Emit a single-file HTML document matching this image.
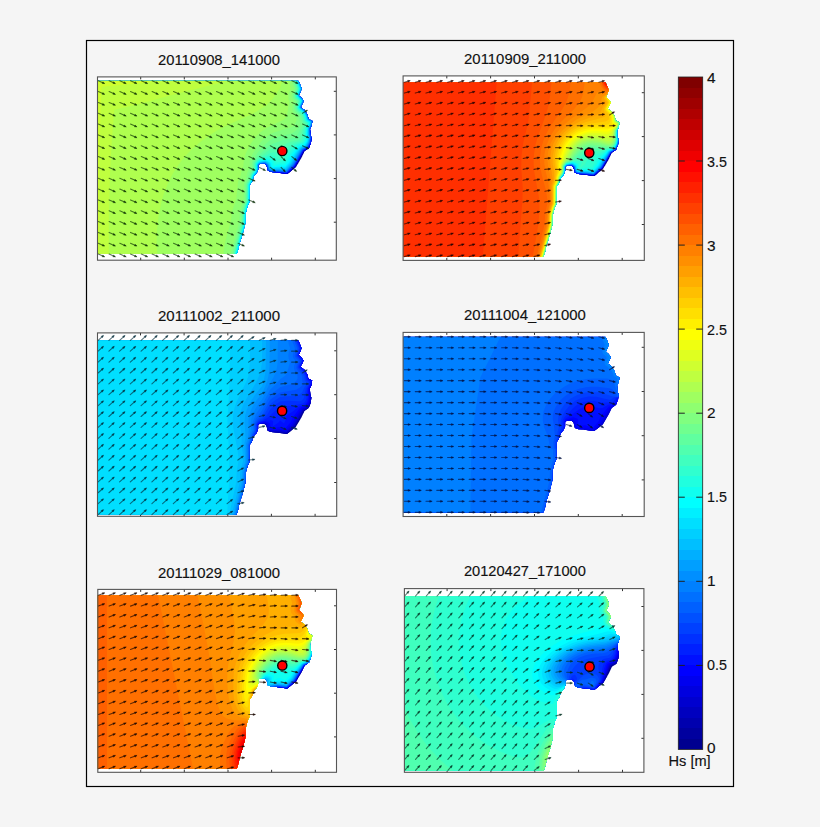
<!DOCTYPE html>
<html><head><meta charset="utf-8"><style>
html,body{margin:0;padding:0;background:#f5f5f5;width:820px;height:827px;overflow:hidden}
svg{position:absolute;left:0;top:0}
text{font-family:"Liberation Sans",sans-serif;stroke:#111;stroke-width:0.15px}
</style></head><body>
<svg width="820" height="827" viewBox="0 0 820 827">

<defs>
<clipPath id="sea"><polygon points="-3.00,0.00 200.00,0.00 201.50,3.00 203.40,7.90 201.90,11.80 200.50,14.70 203.40,17.20 205.40,20.10 204.40,22.50 202.40,26.40 206.30,29.30 209.30,34.20 210.20,38.10 214.10,40.10 213.20,45.00 211.70,47.90 212.20,53.70 213.20,57.00 212.70,61.90 210.70,67.20 206.30,70.20 203.40,76.50 200.50,81.40 197.60,86.30 192.70,90.20 188.80,93.10 183.90,92.40 178.00,91.60 173.20,91.20 169.70,90.00 168.30,84.70 166.30,82.90 161.50,82.90 160.00,84.30 160.00,88.20 158.50,92.10 155.60,95.10 153.70,100.90 151.50,104.00 151.10,121.50 149.60,124.40 147.50,132.10 147.20,141.80 144.80,151.50 141.40,162.10 139.90,168.90 138.50,173.28 -3.00,173.28"/></clipPath>
<clipPath id="ax0"><rect x="97.5" y="76.9" width="238.80" height="183.30"/></clipPath>
<clipPath id="ax1"><rect x="403.1" y="75.9" width="241.20" height="184.50"/></clipPath>
<clipPath id="ax2"><rect x="97.5" y="332.9" width="239.20" height="183.40"/></clipPath>
<clipPath id="ax3"><rect x="403.1" y="332.4" width="241.10" height="184.10"/></clipPath>
<clipPath id="ax4"><rect x="97.8" y="589.4" width="238.70" height="182.90"/></clipPath>
<clipPath id="ax5"><rect x="404.4" y="588.6" width="239.50" height="183.70"/></clipPath>
<linearGradient id="cbg" x1="0" y1="1" x2="0" y2="0"><stop offset="0.00000" stop-color="#00008f"/><stop offset="0.01562" stop-color="#00008f"/><stop offset="0.01562" stop-color="#00009f"/><stop offset="0.03125" stop-color="#00009f"/><stop offset="0.03125" stop-color="#0000af"/><stop offset="0.04688" stop-color="#0000af"/><stop offset="0.04688" stop-color="#0000bf"/><stop offset="0.06250" stop-color="#0000bf"/><stop offset="0.06250" stop-color="#0000cf"/><stop offset="0.07812" stop-color="#0000cf"/><stop offset="0.07812" stop-color="#0000df"/><stop offset="0.09375" stop-color="#0000df"/><stop offset="0.09375" stop-color="#0000ef"/><stop offset="0.10938" stop-color="#0000ef"/><stop offset="0.10938" stop-color="#0000ff"/><stop offset="0.12500" stop-color="#0000ff"/><stop offset="0.12500" stop-color="#0010ff"/><stop offset="0.14062" stop-color="#0010ff"/><stop offset="0.14062" stop-color="#0020ff"/><stop offset="0.15625" stop-color="#0020ff"/><stop offset="0.15625" stop-color="#0030ff"/><stop offset="0.17188" stop-color="#0030ff"/><stop offset="0.17188" stop-color="#0040ff"/><stop offset="0.18750" stop-color="#0040ff"/><stop offset="0.18750" stop-color="#0050ff"/><stop offset="0.20312" stop-color="#0050ff"/><stop offset="0.20312" stop-color="#0060ff"/><stop offset="0.21875" stop-color="#0060ff"/><stop offset="0.21875" stop-color="#0070ff"/><stop offset="0.23438" stop-color="#0070ff"/><stop offset="0.23438" stop-color="#0080ff"/><stop offset="0.25000" stop-color="#0080ff"/><stop offset="0.25000" stop-color="#008fff"/><stop offset="0.26562" stop-color="#008fff"/><stop offset="0.26562" stop-color="#009fff"/><stop offset="0.28125" stop-color="#009fff"/><stop offset="0.28125" stop-color="#00afff"/><stop offset="0.29688" stop-color="#00afff"/><stop offset="0.29688" stop-color="#00bfff"/><stop offset="0.31250" stop-color="#00bfff"/><stop offset="0.31250" stop-color="#00cfff"/><stop offset="0.32812" stop-color="#00cfff"/><stop offset="0.32812" stop-color="#00dfff"/><stop offset="0.34375" stop-color="#00dfff"/><stop offset="0.34375" stop-color="#00efff"/><stop offset="0.35938" stop-color="#00efff"/><stop offset="0.35938" stop-color="#00ffff"/><stop offset="0.37500" stop-color="#00ffff"/><stop offset="0.37500" stop-color="#10ffef"/><stop offset="0.39062" stop-color="#10ffef"/><stop offset="0.39062" stop-color="#20ffdf"/><stop offset="0.40625" stop-color="#20ffdf"/><stop offset="0.40625" stop-color="#30ffcf"/><stop offset="0.42188" stop-color="#30ffcf"/><stop offset="0.42188" stop-color="#40ffbf"/><stop offset="0.43750" stop-color="#40ffbf"/><stop offset="0.43750" stop-color="#50ffaf"/><stop offset="0.45312" stop-color="#50ffaf"/><stop offset="0.45312" stop-color="#60ff9f"/><stop offset="0.46875" stop-color="#60ff9f"/><stop offset="0.46875" stop-color="#70ff8f"/><stop offset="0.48438" stop-color="#70ff8f"/><stop offset="0.48438" stop-color="#80ff80"/><stop offset="0.50000" stop-color="#80ff80"/><stop offset="0.50000" stop-color="#8fff70"/><stop offset="0.51562" stop-color="#8fff70"/><stop offset="0.51562" stop-color="#9fff60"/><stop offset="0.53125" stop-color="#9fff60"/><stop offset="0.53125" stop-color="#afff50"/><stop offset="0.54688" stop-color="#afff50"/><stop offset="0.54688" stop-color="#bfff40"/><stop offset="0.56250" stop-color="#bfff40"/><stop offset="0.56250" stop-color="#cfff30"/><stop offset="0.57812" stop-color="#cfff30"/><stop offset="0.57812" stop-color="#dfff20"/><stop offset="0.59375" stop-color="#dfff20"/><stop offset="0.59375" stop-color="#efff10"/><stop offset="0.60938" stop-color="#efff10"/><stop offset="0.60938" stop-color="#ffff00"/><stop offset="0.62500" stop-color="#ffff00"/><stop offset="0.62500" stop-color="#ffef00"/><stop offset="0.64062" stop-color="#ffef00"/><stop offset="0.64062" stop-color="#ffdf00"/><stop offset="0.65625" stop-color="#ffdf00"/><stop offset="0.65625" stop-color="#ffcf00"/><stop offset="0.67188" stop-color="#ffcf00"/><stop offset="0.67188" stop-color="#ffbf00"/><stop offset="0.68750" stop-color="#ffbf00"/><stop offset="0.68750" stop-color="#ffaf00"/><stop offset="0.70312" stop-color="#ffaf00"/><stop offset="0.70312" stop-color="#ff9f00"/><stop offset="0.71875" stop-color="#ff9f00"/><stop offset="0.71875" stop-color="#ff8f00"/><stop offset="0.73438" stop-color="#ff8f00"/><stop offset="0.73438" stop-color="#ff8000"/><stop offset="0.75000" stop-color="#ff8000"/><stop offset="0.75000" stop-color="#ff7000"/><stop offset="0.76562" stop-color="#ff7000"/><stop offset="0.76562" stop-color="#ff6000"/><stop offset="0.78125" stop-color="#ff6000"/><stop offset="0.78125" stop-color="#ff5000"/><stop offset="0.79688" stop-color="#ff5000"/><stop offset="0.79688" stop-color="#ff4000"/><stop offset="0.81250" stop-color="#ff4000"/><stop offset="0.81250" stop-color="#ff3000"/><stop offset="0.82812" stop-color="#ff3000"/><stop offset="0.82812" stop-color="#ff2000"/><stop offset="0.84375" stop-color="#ff2000"/><stop offset="0.84375" stop-color="#ff1000"/><stop offset="0.85938" stop-color="#ff1000"/><stop offset="0.85938" stop-color="#ff0000"/><stop offset="0.87500" stop-color="#ff0000"/><stop offset="0.87500" stop-color="#ef0000"/><stop offset="0.89062" stop-color="#ef0000"/><stop offset="0.89062" stop-color="#df0000"/><stop offset="0.90625" stop-color="#df0000"/><stop offset="0.90625" stop-color="#cf0000"/><stop offset="0.92188" stop-color="#cf0000"/><stop offset="0.92188" stop-color="#bf0000"/><stop offset="0.93750" stop-color="#bf0000"/><stop offset="0.93750" stop-color="#af0000"/><stop offset="0.95312" stop-color="#af0000"/><stop offset="0.95312" stop-color="#9f0000"/><stop offset="0.96875" stop-color="#9f0000"/><stop offset="0.96875" stop-color="#8f0000"/><stop offset="0.98438" stop-color="#8f0000"/><stop offset="0.98438" stop-color="#800000"/><stop offset="1.00000" stop-color="#800000"/></linearGradient>
</defs>
<rect x="86.5" y="40.5" width="647" height="746" fill="none" stroke="#000" stroke-width="1.2"/>
<rect x="97.5" y="76.9" width="238.80" height="183.30" fill="#fff"/>
<path d="M140.7 76.9v2.5M140.7 260.2v-2.5M184.3 76.9v2.5M184.3 260.2v-2.5M228.0 76.9v2.5M228.0 260.2v-2.5M271.6 76.9v2.5M271.6 260.2v-2.5M315.3 76.9v2.5M315.3 260.2v-2.5M97.5 91.3h2.5M336.3 91.3h-2.5M97.5 134.9h2.5M336.3 134.9h-2.5M97.5 178.6h2.5M336.3 178.6h-2.5M97.5 222.2h2.5M336.3 222.2h-2.5" stroke="#333" stroke-width="1" fill="none"/>
<g clip-path="url(#ax0)"><g transform="translate(98.3 80.8) scale(1.00000 1.00000)"><g clip-path="url(#sea)"><rect x="-5" y="-2" width="230" height="177.3" fill="#00008f"/><path d="M-2.0 -1.0L221.0 -1.0L221.0 175.0L-3.0 175.0L-3.0 -1.0ZM205.6 71.0L206.0 71.7L206.0 70.2ZM204.4 73.0L197.8 85.0L197.5 86.0L198.0 86.3L204.2 76.0L205.5 73.0L205.0 72.0ZM196.3 87.0L197.0 87.2L197.0 86.5ZM193.8 89.0L194.3 89.0L194.0 88.8Z" fill="#00009f"/><path d="M-2.0 -1.0L221.0 -1.0L221.0 175.0L-3.0 175.0L-3.0 -1.0ZM207.6 69.0L208.0 69.3L208.3 69.0L208.0 68.8ZM205.9 70.0L197.2 86.0L194.8 88.0L195.0 88.4L198.0 86.5L201.5 81.0L204.3 76.0L205.8 72.0L207.2 70.0L206.0 69.9ZM193.6 89.0L194.0 89.4L194.6 89.0L194.0 88.7ZM192.6 90.0L193.4 90.0L193.0 89.6Z" fill="#0000af"/><path d="M-2.0 -1.0L221.0 -1.0L221.0 175.0L-3.0 175.0L-3.0 -1.0ZM207.3 69.0L208.0 69.4L208.5 69.0L208.0 68.6ZM205.7 70.0L197.0 85.9L192.3 90.0L193.0 90.4L198.5 86.0L203.4 78.0L207.4 70.0L207.0 69.4L206.0 69.8ZM187.9 93.0L189.0 93.0L188.0 93.0Z" fill="#0000bf"/><path d="M-2.0 -1.0L221.0 -1.0L221.0 175.0L-3.0 175.0L-3.0 -1.0ZM208.9 68.0L209.7 68.0L209.0 67.9ZM207.1 69.0L205.6 70.0L197.0 85.6L191.0 91.1L192.0 91.2L193.0 90.6L198.7 86.0L204.1 77.0L206.7 71.0L208.7 69.0L208.0 68.5ZM189.8 92.0L190.5 92.0L190.0 91.8ZM187.2 93.0L189.2 93.0L188.0 92.8Z" fill="#0000cf"/><path d="M-2.0 -1.0L221.0 -1.0L221.0 175.0L-3.0 175.0L-3.0 -1.0ZM210.9 66.0L211.0 67.1L211.0 65.8ZM208.6 68.0L205.4 70.0L197.0 85.3L190.7 91.0L191.0 91.9L197.0 87.8L198.8 86.0L204.3 77.0L206.8 71.0L210.2 68.0L209.0 67.8ZM180.4 92.0L182.2 92.0L181.0 91.9ZM189.6 92.0L190.0 92.4L190.9 92.0L190.0 91.6ZM186.5 93.0L189.5 93.0L189.0 92.6L187.0 92.8Z" fill="#0000df"/><path d="M-2.0 -1.0L221.0 -1.0L221.0 175.0L-3.0 175.0L-3.0 -1.0ZM211.8 64.0L212.0 64.3L212.0 63.5ZM210.7 66.0L210.3 67.0L211.0 67.3L211.0 65.5ZM208.3 68.0L205.2 70.0L196.1 86.0L189.0 92.4L185.7 93.0L189.0 93.4L198.2 87.0L204.4 77.0L206.9 71.0L210.4 68.0L210.0 67.3L209.0 67.6ZM179.7 92.0L183.7 92.0L180.0 91.9Z" fill="#0000ef"/><path d="M-2.0 -1.0L221.0 -1.0L221.0 175.0L-3.0 175.0L-3.0 -1.0ZM212.9 59.0L213.0 59.7L213.0 58.6ZM212.0 63.0L211.6 64.0L212.0 64.7L212.0 63.0ZM210.6 66.0L209.9 67.0L205.1 70.0L196.7 85.0L189.0 92.1L186.0 92.3L181.0 91.5L179.1 92.0L184.0 92.4L185.0 93.0L189.0 93.6L198.0 87.4L204.6 77.0L207.1 71.0L211.3 67.0L211.5 66.0L211.0 65.1Z" fill="#0000ff"/><path d="M-2.0 -1.0L221.0 -1.0L221.0 175.0L-3.0 175.0L-3.0 -1.0ZM213.0 58.0L213.0 61.5L213.0 57.7ZM211.8 63.0L210.0 66.7L204.9 70.0L196.5 85.0L189.0 91.9L188.0 92.2L181.0 91.4L178.4 92.0L189.0 93.7L198.0 87.6L203.6 79.0L207.3 71.0L211.5 67.0L212.4 64.0L212.0 62.6Z" fill="#0010ff"/><path d="M-2.0 -1.0L221.0 -1.0L221.0 175.0L-3.0 175.0L-3.0 -1.0ZM212.0 51.0L212.0 52.6L212.0 50.9ZM212.9 56.0L212.5 62.0L212.0 62.3L210.0 66.4L205.5 69.0L204.6 70.0L196.0 85.3L189.0 91.7L188.1 92.0L181.0 91.2L178.0 91.5L177.6 92.0L189.0 93.8L198.8 87.0L204.4 78.0L207.5 71.0L211.6 67.0L213.1 62.0L213.0 55.8ZM172.7 91.0L173.7 91.0L173.0 90.9Z" fill="#0020ff"/><path d="M-2.0 -1.0L221.0 -1.0L221.0 175.0L-3.0 175.0L-3.0 -1.0ZM212.0 50.0L212.0 54.0L212.0 49.9ZM212.7 56.0L212.4 61.0L210.0 66.1L205.0 69.1L196.1 85.0L189.0 91.4L188.0 91.8L178.0 90.9L171.9 91.0L189.0 94.0L198.0 87.9L199.7 86.0L203.4 80.0L207.7 71.0L211.0 68.2L211.7 67.0L213.2 62.0L213.4 59.0L213.0 55.4ZM168.8 87.0L169.0 88.0L169.0 86.3Z" fill="#0030ff"/><path d="M-2.0 -1.0L221.0 -1.0L221.0 175.0L-3.0 175.0L-3.0 -1.0ZM212.0 49.0L211.7 52.0L212.0 54.6L212.3 52.0L212.0 48.8ZM212.9 55.0L212.5 56.0L212.1 61.0L209.9 66.0L204.8 69.0L196.0 84.6L189.0 91.2L188.0 91.6L178.0 90.7L172.0 90.6L171.6 91.0L189.0 94.1L198.2 88.0L199.2 87.0L203.6 80.0L207.9 71.0L211.0 68.4L211.9 67.0L213.4 62.0L213.5 58.0L213.0 55.0ZM164.3 83.0L166.8 83.0L165.0 82.9ZM167.3 84.0L168.0 85.0L168.0 83.8ZM168.8 86.0L169.0 88.5L169.4 87.0L169.0 85.6ZM169.7 90.0L170.7 90.0L170.0 89.5Z" fill="#0040ff"/><path d="M-2.0 -1.0L221.0 -1.0L221.0 175.0L-3.0 175.0L-3.0 -1.0ZM209.9 37.0L210.0 37.6L210.0 36.7ZM214.0 40.0L214.0 40.6L214.0 40.0ZM211.8 47.0L211.5 53.0L212.5 57.0L211.6 62.0L209.6 66.0L204.5 69.0L195.3 85.0L188.0 91.4L172.0 90.3L170.0 89.2L169.5 90.0L173.0 91.6L189.0 94.3L199.0 87.5L204.4 79.0L208.0 71.2L211.6 68.0L212.3 66.0L213.5 62.0L213.7 58.0L213.5 56.0L212.6 54.0L212.0 46.7ZM162.8 83.0L166.0 83.4L166.8 84.0L168.4 86.0L169.0 88.9L169.5 87.0L168.5 84.0L166.0 82.6L163.0 83.0Z" fill="#0050ff"/><path d="M-2.0 -1.0L221.0 -1.0L221.0 175.0L-3.0 175.0L-3.0 -1.0ZM205.7 29.0L206.0 29.2L206.0 28.8ZM207.8 32.0L208.0 32.4L208.0 31.7ZM209.7 37.0L210.0 38.1L210.0 36.2ZM211.5 39.0L212.4 39.0L212.0 38.7ZM213.6 40.0L214.0 41.8L214.0 39.8ZM212.8 45.0L213.0 46.2L213.0 44.4ZM211.6 47.0L211.4 53.0L212.3 57.0L211.4 62.0L210.0 64.9L209.0 66.3L204.2 69.0L195.7 84.0L189.0 90.5L188.0 91.1L172.0 90.0L170.1 89.0L169.0 84.4L167.0 82.6L161.7 83.0L166.0 83.5L167.6 85.0L169.3 90.0L172.0 91.5L174.0 92.0L189.0 94.5L197.0 89.3L199.7 87.0L205.2 78.0L208.0 71.6L211.8 68.0L212.2 67.0L213.7 62.0L213.9 57.0L212.7 53.0L212.5 47.0L212.0 46.4Z" fill="#0060ff"/><path d="M-2.0 -1.0L221.0 -1.0L221.0 175.0L-3.0 175.0L-3.0 -1.0ZM201.8 16.0L202.2 16.0L202.0 15.8ZM203.8 18.0L204.0 18.3L204.0 17.7ZM204.8 21.0L205.0 21.6L205.0 20.3ZM203.9 23.0L204.0 23.6L204.0 22.7ZM202.8 25.0L203.0 25.7L203.0 24.6ZM202.7 27.0L203.5 27.0L203.0 26.3ZM205.4 29.0L206.0 29.5L206.4 29.0L206.0 28.7ZM206.8 30.0L207.0 31.1L207.0 29.8ZM207.6 32.0L208.0 32.7L208.4 32.0L208.0 31.4ZM208.7 34.0L209.0 34.7L209.4 34.0L209.0 33.2ZM209.8 36.0L209.6 37.0L210.0 38.4L210.7 38.0L210.0 35.7ZM211.1 39.0L212.0 39.5L212.7 39.0L212.0 38.6ZM213.2 40.0L214.0 42.6L214.3 40.0L214.0 39.7ZM212.9 44.0L211.1 48.0L211.3 54.0L212.1 57.0L211.2 62.0L210.0 64.4L209.0 66.1L203.9 69.0L195.4 84.0L189.0 90.2L188.0 90.9L172.8 90.0L170.4 89.0L169.0 84.0L167.0 82.3L161.1 83.0L166.4 84.0L167.4 85.0L169.0 90.0L171.0 91.3L173.0 92.0L188.0 94.5L190.0 94.2L199.0 88.1L205.5 78.0L208.0 71.9L212.0 68.0L212.4 67.0L213.8 62.0L214.1 57.0L212.9 53.0L212.4 48.0L213.5 45.0L213.0 43.7ZM159.9 85.0L160.0 88.1L160.0 84.4Z" fill="#0070ff"/><path d="M-2.0 -1.0L221.0 -1.0L221.0 175.0L-3.0 175.0L-3.0 -1.0ZM202.9 7.0L203.0 7.3L203.0 6.7ZM202.8 9.0L203.0 9.4L203.0 8.6ZM200.8 14.0L201.0 15.3L201.0 13.5ZM201.6 16.0L202.0 16.4L202.5 16.0L202.0 15.6ZM202.7 17.0L203.0 17.3L203.4 17.0L203.0 16.6ZM203.6 18.0L204.0 18.6L204.4 18.0L204.0 17.5ZM204.9 19.0L204.6 21.0L205.0 22.0L205.4 21.0L205.0 18.9ZM203.7 23.0L204.0 24.2L204.4 23.0L204.0 22.4ZM202.6 25.0L202.5 27.0L203.0 27.4L203.9 27.0L203.1 26.0L203.5 25.0L203.0 24.3ZM203.8 28.0L206.4 30.0L209.4 36.0L209.6 38.0L212.8 40.0L213.5 41.0L212.4 45.0L210.9 48.0L211.1 54.0L211.9 57.0L211.2 61.0L210.0 63.9L208.7 66.0L204.6 68.0L203.5 69.0L195.0 84.0L188.0 90.6L179.0 89.8L174.0 89.9L171.0 89.3L169.3 84.0L167.0 82.1L162.0 82.5L160.8 83.0L161.0 83.5L166.2 84.0L167.6 86.0L168.9 90.0L170.0 91.0L174.0 92.4L188.0 94.7L190.0 94.4L199.4 88.0L205.7 78.0L208.2 72.0L212.2 68.0L214.0 62.0L214.2 57.0L213.1 53.0L212.5 48.0L213.7 45.0L214.5 40.0L211.0 37.9L209.1 33.0L207.3 30.0L206.0 28.5L204.0 27.3ZM159.9 84.0L160.0 88.6L160.4 84.0L160.0 83.9Z" fill="#0080ff"/><path d="M-2.0 -1.0L221.0 -1.0L221.0 175.0L-3.0 175.0L-3.0 -1.0ZM199.9 0.0L200.0 0.3L200.0 -0.1ZM200.8 2.0L201.0 2.4L201.0 1.6ZM201.8 4.0L202.0 4.7L202.0 3.7ZM202.7 7.0L203.0 7.8L203.3 7.0L203.0 6.2ZM202.6 9.0L203.0 9.8L203.3 9.0L203.0 8.1ZM201.8 11.0L202.0 12.4L202.0 10.6ZM200.9 13.0L200.4 15.0L203.4 18.0L204.7 20.0L204.2 22.0L202.0 26.0L202.2 27.0L206.0 30.0L208.4 34.0L209.4 38.0L210.0 38.8L212.4 40.0L213.3 41.0L212.3 45.0L210.7 48.0L210.9 54.0L211.7 57.0L211.0 61.1L209.1 65.0L208.1 66.0L204.0 68.0L203.1 69.0L194.5 84.0L188.0 90.2L180.0 89.6L174.0 89.7L171.0 89.1L169.6 84.0L167.0 81.8L166.0 81.7L161.0 82.6L160.0 83.7L159.6 85.0L160.0 89.0L160.5 85.0L161.1 84.0L162.0 83.6L165.9 84.0L167.5 86.0L168.7 90.0L170.0 91.2L173.0 92.4L187.0 94.8L190.0 94.7L199.8 88.0L205.4 79.0L208.5 72.0L212.5 68.0L214.2 62.0L214.4 57.0L213.3 53.0L212.7 48.0L213.9 45.0L214.7 40.0L211.0 37.6L209.8 34.0L207.0 29.3L203.3 26.0L205.6 21.0L205.6 20.0L204.0 17.3L201.5 15.0L201.0 12.8ZM158.9 91.0L159.0 91.3L159.0 90.5Z" fill="#008fff"/><path d="M-2.0 -1.0L221.0 -1.0L221.0 175.0L-3.0 175.0L-3.0 -1.0ZM199.7 0.0L200.0 0.6L200.3 0.0L200.0 -0.3ZM200.6 2.0L201.0 2.7L201.4 2.0L201.0 1.3ZM201.6 4.0L202.0 5.3L202.3 4.0L202.0 3.3ZM202.7 6.0L202.5 10.0L202.0 10.2L200.1 15.0L203.0 17.8L204.5 20.0L201.8 26.0L202.0 27.0L206.0 30.3L208.2 34.0L209.2 38.0L210.0 39.0L213.1 41.0L212.1 45.0L210.5 48.0L210.7 54.0L211.4 57.0L210.7 61.0L210.0 62.7L208.0 65.7L204.0 67.6L203.0 68.6L194.6 83.0L188.0 89.8L171.7 89.0L171.0 88.5L169.9 84.0L167.0 81.6L166.0 81.5L161.0 82.3L159.5 84.0L159.5 88.0L160.0 89.4L161.0 84.4L162.0 83.7L165.0 84.0L166.0 84.3L167.0 85.4L168.5 90.0L170.0 91.4L173.0 92.6L188.0 95.1L190.0 94.9L200.1 88.0L205.7 79.0L208.8 72.0L212.7 68.0L214.4 62.0L214.6 57.0L213.4 53.0L212.9 48.0L214.1 45.0L214.8 40.0L211.0 37.3L210.1 34.0L207.0 29.0L203.5 26.0L206.0 20.0L204.0 17.0L201.7 15.0L201.5 14.0L203.5 9.0L203.0 5.8ZM158.9 90.0L158.7 91.0L159.0 91.7L159.3 91.0L159.0 89.8Z" fill="#009fff"/><path d="M-2.0 -1.0L221.0 -1.0L221.0 175.0L-3.0 175.0L-3.0 -1.0ZM199.6 0.0L200.0 0.9L200.5 0.0L200.0 -0.4ZM200.5 2.0L202.7 8.0L199.9 15.0L203.0 18.0L204.3 20.0L201.6 26.0L201.7 27.0L206.0 30.7L208.0 34.0L209.7 39.0L212.9 41.0L212.0 44.7L210.3 48.0L210.4 54.0L211.2 57.0L210.1 62.0L208.0 65.4L202.9 68.0L196.6 78.0L194.1 83.0L188.0 89.3L172.0 88.7L171.1 88.0L170.0 83.5L167.0 81.3L166.0 81.3L161.0 82.1L159.3 84.0L159.3 88.0L158.6 92.0L159.0 92.0L160.4 89.0L161.0 84.7L162.0 83.9L163.1 84.0L165.0 84.2L166.4 85.0L168.3 90.0L168.9 91.0L170.0 91.6L173.0 92.8L188.0 95.4L190.0 95.2L196.0 91.5L200.4 88.0L205.5 80.0L209.0 72.2L212.9 68.0L214.6 62.0L214.8 57.0L213.6 53.0L213.0 48.0L214.3 45.0L215.0 40.0L211.0 37.1L210.3 34.0L207.2 29.0L203.7 26.0L206.2 20.0L204.2 17.0L201.9 15.0L201.7 14.0L203.9 8.0L201.0 1.0ZM157.5 93.0L158.2 93.0L158.0 92.2ZM154.8 97.0L155.0 97.4L155.0 96.4Z" fill="#00afff"/><path d="M-2.0 -1.0L221.0 -1.0L221.0 175.0L-3.0 175.0L-3.0 -1.0ZM199.4 0.0L202.5 8.0L199.7 15.0L202.8 18.0L204.1 20.0L201.4 26.0L201.5 27.0L206.0 31.0L208.0 34.5L209.3 39.0L212.6 41.0L212.0 44.1L210.1 48.0L210.2 54.0L210.9 57.0L210.0 61.4L208.0 65.0L204.0 66.8L202.3 68.0L196.6 77.0L193.4 83.0L188.0 88.6L174.0 88.8L172.0 88.4L171.5 88.0L170.7 84.0L168.0 81.5L167.0 81.0L162.0 81.6L161.0 81.9L159.2 84.0L159.0 88.7L158.0 91.6L156.2 94.0L157.0 94.3L159.3 92.0L160.9 88.0L161.1 85.0L162.0 84.1L166.0 84.9L166.9 86.0L168.6 91.0L172.0 92.7L187.0 95.5L190.0 95.5L196.0 91.8L200.8 88.0L206.4 79.0L209.0 72.8L213.0 68.4L214.8 62.0L215.0 57.0L213.8 53.0L213.3 48.0L214.5 45.0L215.2 40.0L211.2 37.0L210.5 34.0L207.5 29.0L203.8 26.0L206.4 20.0L204.4 17.0L202.0 14.6L201.8 14.0L204.2 8.0L202.2 3.0L200.0 -0.6ZM155.6 95.0L156.0 95.4L156.3 95.0L156.0 94.2ZM154.9 96.0L154.6 97.0L155.0 97.9L155.4 97.0L155.0 95.8ZM153.7 100.0L154.0 100.7L154.0 99.2ZM152.8 102.0L153.2 102.0L153.0 101.7Z" fill="#00bfff"/><path d="M-2.0 -1.0L221.0 -1.0L221.0 175.0L-3.0 175.0L-3.0 -1.0ZM199.2 0.0L202.3 8.0L199.5 15.0L203.9 20.0L201.2 26.0L201.3 27.0L205.7 31.0L208.0 34.9L209.0 39.0L212.3 41.0L211.8 44.0L209.8 48.0L209.9 54.0L210.5 57.0L209.8 61.0L207.2 65.0L203.0 66.8L201.7 68.0L195.9 77.0L193.0 82.5L187.7 88.0L174.0 88.4L172.0 88.1L170.6 83.0L168.0 81.0L167.0 80.6L161.0 81.6L158.9 84.0L159.0 88.1L157.5 92.0L155.0 95.2L154.4 97.0L155.0 98.4L155.7 96.0L159.5 92.0L161.2 88.0L161.4 85.0L162.0 84.4L166.0 85.2L168.3 91.0L171.0 92.5L173.0 93.3L185.0 95.4L190.0 95.8L200.4 89.0L206.2 80.0L209.3 73.0L213.0 69.0L215.0 62.0L215.2 57.0L214.0 53.0L213.5 48.0L214.7 45.0L215.4 40.0L214.7 39.0L211.5 37.0L210.7 34.0L207.7 29.0L204.1 26.0L206.6 20.0L202.0 14.0L204.4 8.0L202.4 3.0L200.9 0.0L200.0 -0.8ZM153.9 99.0L153.5 100.0L154.0 101.1L154.5 100.0L154.0 98.6ZM152.6 102.0L153.0 102.5L153.4 102.0L153.0 101.3ZM151.8 103.0L152.0 103.6L152.4 103.0L152.0 102.7ZM151.0 116.0L151.0 122.2L151.0 115.9ZM148.9 126.0L149.0 127.4L149.0 125.8ZM147.8 130.0L148.0 131.1L148.0 129.5ZM146.9 142.0L147.0 143.5L147.0 141.1ZM145.9 146.0L146.0 147.6L146.0 145.7ZM144.9 150.0L145.0 151.5L145.0 149.8ZM143.7 154.0L144.0 154.7L144.0 153.3ZM142.8 157.0L143.0 157.8L143.0 156.4ZM141.8 160.0L142.0 160.9L142.0 159.5ZM141.0 163.0L141.0 164.9L141.0 162.9ZM139.9 168.0L140.0 169.3L140.0 167.5ZM139.0 171.0L139.0 172.4L139.0 171.0Z" fill="#00cfff"/><path d="M-2.0 -1.0L221.0 -1.0L221.0 175.0L-3.0 175.0L-3.0 -1.0ZM199.1 0.0L202.1 8.0L199.3 15.0L203.6 20.0L201.0 26.0L201.0 27.0L205.4 31.0L207.7 35.0L208.7 39.0L212.1 41.0L211.5 44.0L209.5 48.0L209.5 54.0L210.2 57.0L209.3 61.0L207.0 64.6L203.0 66.2L201.0 68.0L195.7 76.0L192.5 82.0L187.0 87.5L181.0 87.3L173.0 87.8L172.1 87.0L171.3 83.0L168.0 80.5L166.0 80.4L161.0 81.3L158.7 84.0L158.8 88.0L158.0 90.6L154.9 95.0L153.0 100.9L151.6 103.0L151.3 104.0L152.0 104.6L154.3 101.0L156.1 96.0L159.7 92.0L161.5 88.0L162.0 84.7L165.0 85.0L166.0 85.6L168.0 91.0L169.0 91.9L172.0 93.2L185.0 95.7L190.0 96.1L195.0 93.2L200.9 89.0L206.6 80.0L209.7 73.0L213.4 69.0L215.3 62.0L215.5 57.0L214.3 53.0L213.8 49.0L214.9 45.0L215.6 40.0L215.0 38.9L211.8 37.0L210.4 33.0L207.9 29.0L204.4 26.0L206.8 20.0L202.3 14.0L204.6 8.0L201.6 1.0L200.0 -0.9ZM151.0 107.0L150.6 122.0L151.0 122.6L151.4 121.0L151.0 106.2ZM149.9 123.0L149.6 124.0L150.0 124.6L150.3 123.0L150.0 122.8ZM148.7 126.0L149.0 128.0L149.4 126.0L149.0 125.2ZM147.9 129.0L147.6 130.0L148.0 131.7L148.4 130.0L148.0 128.8ZM147.0 137.0L146.6 143.0L147.0 144.2L147.4 142.0L147.0 136.0ZM145.7 146.0L146.0 148.3L146.4 146.0L146.0 145.1ZM144.7 150.0L145.0 152.1L145.4 150.0L145.0 149.1ZM143.9 153.0L143.5 154.0L144.0 155.3L144.5 154.0L144.0 152.7ZM142.9 156.0L142.6 157.0L143.0 158.4L143.4 157.0L143.0 155.8ZM142.0 159.0L141.6 160.0L142.0 161.5L142.4 160.0L142.0 159.0ZM140.8 163.0L141.0 165.7L141.4 164.0L141.0 162.1ZM139.9 167.0L139.6 169.0L140.0 169.8L140.4 168.0L140.0 166.7ZM138.8 171.0L138.6 172.0L139.0 172.9L139.3 171.0L139.0 170.4Z" fill="#00dfff"/><path d="M-2.0 -1.0L199.8 -1.0L198.9 0.0L201.9 8.0L199.1 15.0L203.3 20.0L203.0 21.5L200.7 26.0L200.7 27.0L205.0 30.8L207.5 35.0L208.4 39.0L211.5 41.0L211.7 42.0L211.2 44.0L209.2 48.0L209.1 54.0L209.7 57.0L208.9 61.0L207.0 64.0L203.0 65.6L201.0 67.0L194.7 76.0L192.0 81.3L187.0 86.7L181.0 86.5L173.0 87.2L172.0 83.0L171.2 82.0L169.0 80.5L167.0 79.8L161.0 81.0L159.0 83.0L158.5 84.0L158.5 88.0L157.6 91.0L154.6 95.0L153.0 100.4L150.8 104.0L150.5 121.0L148.8 125.0L146.9 132.0L146.2 144.0L138.0 173.0L139.0 173.3L147.5 143.0L148.1 132.0L149.7 126.0L151.5 122.0L152.4 104.0L154.5 101.0L156.4 96.0L159.4 93.0L160.5 91.0L161.8 88.0L162.0 85.2L165.0 85.3L166.0 86.0L168.0 91.4L172.0 93.5L187.0 96.4L190.0 96.5L195.0 93.7L201.4 89.0L207.6 79.0L210.0 73.2L213.8 69.0L215.6 62.0L215.7 57.0L214.0 49.0L215.2 45.0L215.8 40.0L215.0 38.6L212.0 37.0L210.7 33.0L208.2 29.0L204.8 26.0L207.0 20.0L205.2 17.0L202.5 14.0L204.8 8.0L202.4 2.0L200.3 -1.0L221.0 -1.0L221.0 175.0L-3.0 175.0L-3.0 -1.0Z" fill="#00efff"/><path d="M-2.0 -1.0L199.2 -1.0L198.6 0.0L201.6 8.0L198.8 15.0L203.0 20.0L203.0 21.0L200.4 26.0L200.5 27.0L204.8 31.0L207.2 35.0L208.0 39.0L209.0 40.1L210.8 41.0L211.4 42.0L210.9 44.0L208.8 48.0L208.7 54.0L209.2 57.0L208.2 61.0L206.0 63.9L202.0 65.4L200.0 67.0L194.2 75.0L191.1 81.0L187.0 85.7L181.0 85.6L174.0 86.7L173.3 86.0L172.4 82.0L168.0 79.4L161.0 80.6L158.7 83.0L158.2 84.0L158.3 88.0L157.3 91.0L154.4 95.0L153.0 100.0L150.6 104.0L150.3 121.0L148.6 125.0L146.7 132.0L146.1 143.0L137.7 173.0L138.0 173.6L139.0 173.7L140.7 169.0L142.0 163.0L145.5 152.0L147.7 143.0L148.4 132.0L150.3 125.0L151.8 122.0L152.6 104.0L154.8 101.0L156.6 96.0L160.3 92.0L161.8 89.0L162.2 86.0L163.0 85.3L165.5 86.0L168.0 91.9L172.0 93.8L185.0 96.4L190.0 96.8L196.0 93.5L201.9 89.0L207.6 80.0L210.1 74.0L214.2 69.0L215.9 62.0L216.0 57.0L214.8 53.0L214.3 49.0L215.4 45.0L216.1 40.0L215.0 38.3L212.0 36.3L211.0 33.0L208.5 29.0L205.2 26.0L207.3 20.0L205.5 17.0L202.8 14.0L205.0 8.0L202.7 2.0L200.8 -1.0L221.0 -1.0L221.0 175.0L-3.0 175.0L-3.0 -1.0Z" fill="#00ffff"/><path d="M-2.0 -1.0L198.8 -1.0L198.4 0.0L201.3 8.0L198.5 15.0L202.7 20.0L202.6 21.0L200.1 26.0L200.2 27.0L201.0 28.3L204.4 31.0L206.8 35.0L208.0 39.6L211.0 42.0L208.4 48.0L208.2 54.0L208.6 57.0L208.0 59.8L206.0 63.1L201.0 65.1L198.8 67.0L193.5 74.0L190.3 80.0L187.0 84.0L186.0 84.4L180.0 84.6L175.0 85.7L174.1 85.0L173.7 82.0L172.9 81.0L168.0 78.7L161.0 80.2L158.3 83.0L158.0 88.0L157.1 91.0L154.7 94.0L152.7 100.0L150.4 104.0L150.1 121.0L148.7 124.0L146.5 132.0L146.0 142.5L137.5 173.0L138.0 174.0L139.0 174.1L140.6 170.0L148.2 142.0L148.6 132.0L150.5 125.0L152.1 121.0L152.9 104.0L155.0 101.0L156.9 96.0L160.7 92.0L162.2 89.0L162.7 86.0L165.0 86.0L167.6 92.0L172.0 94.2L184.0 96.7L190.0 97.3L196.0 94.1L202.0 89.7L207.6 81.0L210.6 74.0L214.2 70.0L216.2 62.0L216.4 57.0L215.2 53.0L214.6 49.0L215.6 46.0L216.4 40.0L216.0 38.9L212.2 36.0L211.3 33.0L208.2 28.0L205.7 26.0L205.7 25.0L207.6 20.0L205.1 16.0L203.1 14.0L205.3 8.0L203.4 3.0L201.2 -1.0L221.0 -1.0L221.0 175.0L-3.0 175.0L-3.0 -1.0Z" fill="#10ffef"/><path d="M-2.0 -1.0L198.5 -1.0L198.3 1.0L201.1 8.0L198.2 15.0L198.6 16.0L202.3 20.0L202.3 21.0L199.8 26.0L199.8 27.0L200.3 28.0L203.9 31.0L205.0 32.6L206.4 35.0L207.7 40.0L210.5 42.0L210.1 44.0L207.9 48.0L207.5 54.0L207.8 58.0L207.0 60.2L205.0 62.8L200.0 64.6L197.3 67.0L191.9 74.0L189.3 79.0L186.0 82.9L181.0 83.0L176.0 84.2L174.9 81.0L174.0 79.9L170.0 78.1L168.0 77.9L161.0 79.8L160.0 80.4L157.9 83.0L157.7 88.0L157.0 90.3L154.3 94.0L152.4 100.0L150.1 104.0L149.8 121.0L148.4 124.0L146.2 132.0L146.0 141.0L145.0 145.5L137.2 173.0L138.0 174.4L139.0 174.4L139.9 173.0L141.2 169.0L148.5 142.0L148.8 132.0L150.8 125.0L152.4 121.0L153.0 104.6L155.3 101.0L157.3 96.0L160.6 93.0L162.8 89.0L163.1 87.0L164.0 86.3L165.0 86.6L167.1 92.0L168.0 92.8L172.0 94.7L187.0 97.6L191.0 97.5L198.0 93.4L202.5 90.0L208.3 81.0L211.3 74.0L214.7 70.0L216.7 62.0L216.7 57.0L215.0 49.0L215.9 46.0L216.7 40.0L216.0 38.4L212.6 36.0L211.7 33.0L208.6 28.0L206.3 26.0L206.1 25.0L207.9 20.0L205.5 16.0L203.5 14.0L205.6 8.0L201.6 -1.0L221.0 -1.0L221.0 175.0L-3.0 175.0L-3.0 -1.0Z" fill="#20ffdf"/><path d="M-2.0 -1.0L198.1 -1.0L198.0 1.0L200.7 8.0L197.9 15.0L198.2 16.0L201.9 20.0L201.9 21.0L199.8 25.0L199.4 27.0L200.0 28.3L204.1 32.0L206.0 35.3L207.2 40.0L208.0 41.0L210.0 42.0L209.5 44.0L207.3 48.0L206.9 58.0L206.0 60.1L204.4 62.0L198.9 64.0L195.3 67.0L190.4 73.0L187.9 78.0L186.0 80.4L178.0 81.8L176.3 79.0L175.0 78.0L171.0 76.8L169.0 76.7L161.0 79.2L159.8 80.0L157.5 83.0L157.3 88.0L156.7 90.0L153.9 94.0L152.1 100.0L149.8 104.0L149.5 121.0L148.1 124.0L146.0 132.0L145.6 141.0L145.0 144.3L137.0 173.0L137.2 174.0L138.0 174.7L139.0 174.7L139.8 174.0L141.5 169.0L143.0 162.2L146.3 152.0L148.8 142.0L149.1 132.0L151.0 125.0L152.6 122.0L153.2 105.0L155.7 101.0L157.8 96.0L161.1 93.0L163.4 89.0L163.8 87.0L164.4 87.0L165.0 87.7L167.0 92.5L172.0 95.2L187.0 98.2L191.0 98.0L197.0 94.8L203.0 90.3L208.4 82.0L211.5 75.0L215.3 70.0L217.1 62.0L217.2 57.0L216.0 53.0L215.4 49.0L216.3 46.0L217.0 40.0L216.0 37.9L212.9 36.0L211.5 32.0L209.0 27.9L206.9 26.0L206.5 25.0L208.3 20.0L206.7 17.0L203.9 14.0L205.9 8.0L203.6 2.0L202.0 -1.0L221.0 -1.0L221.0 175.0L-3.0 175.0L-3.0 -1.0Z" fill="#30ffcf"/><path d="M-2.0 -1.0L197.7 -1.0L197.6 1.0L200.2 8.0L197.4 15.0L198.4 17.0L201.3 20.0L201.4 21.0L199.3 25.0L199.0 27.0L200.0 29.0L204.0 32.7L205.7 36.0L206.5 40.0L209.2 43.0L206.6 48.0L205.6 58.0L203.7 61.0L197.0 63.5L192.7 67.0L188.3 72.0L185.0 77.8L180.0 78.3L179.0 76.9L177.0 75.6L173.0 74.8L170.0 74.9L161.0 78.4L159.0 80.0L157.5 82.0L156.8 84.0L156.9 88.0L156.3 90.0L153.5 94.0L151.7 100.0L149.5 104.0L149.2 121.0L147.7 124.0L145.6 132.0L145.0 142.9L136.6 173.0L137.0 174.3L138.0 175.0L139.0 175.0L140.2 174.0L141.6 170.0L149.1 142.0L149.5 132.0L151.5 125.0L152.9 122.0L153.6 105.0L155.7 102.0L158.0 96.5L161.0 94.0L164.0 89.4L165.0 89.5L166.0 92.0L167.0 93.3L172.0 95.8L187.0 98.8L190.0 98.9L192.0 98.4L197.0 95.6L203.4 91.0L208.7 83.0L212.3 75.0L215.6 71.0L217.6 63.0L217.7 57.0L215.9 49.0L216.8 46.0L217.5 40.0L216.7 38.0L213.8 36.0L212.6 33.0L209.6 28.0L207.0 25.0L208.7 20.0L207.9 18.0L204.5 14.0L206.4 8.0L202.4 -1.0L221.0 -1.0L221.0 175.0L-3.0 175.0L-3.0 -1.0Z" fill="#40ffbf"/><path d="M-2.0 -1.0L197.2 -1.0L197.2 1.0L199.7 8.0L197.4 13.0L197.0 15.0L197.7 17.0L200.7 20.0L200.8 21.0L198.7 25.0L198.7 28.0L200.0 29.8L203.0 32.3L205.1 36.0L206.0 40.6L208.4 43.0L205.6 48.0L203.9 58.0L202.0 60.3L196.0 62.0L190.0 65.7L186.4 69.0L183.0 73.7L181.0 72.2L178.0 71.4L175.0 71.4L171.0 72.4L160.0 78.1L156.8 82.0L155.7 90.0L153.0 94.0L151.2 100.0L149.3 103.0L148.8 121.0L147.3 124.0L145.2 132.0L144.9 141.0L144.0 145.3L136.2 173.0L136.4 174.0L137.2 175.0L-3.0 175.0L-3.0 -1.0ZM203.0 -1.0L221.0 -1.0L221.0 175.0L139.8 175.0L140.7 174.0L142.2 169.0L149.5 142.0L149.9 132.0L151.9 125.0L153.4 122.0L154.0 105.0L156.2 102.0L158.3 97.0L161.9 94.0L164.0 91.1L165.0 91.5L167.0 94.1L172.0 96.6L188.0 99.8L191.0 99.6L193.0 98.8L200.0 94.7L204.5 91.0L209.7 83.0L212.8 76.0L216.4 71.0L218.3 63.0L218.3 57.0L216.5 49.0L217.4 46.0L217.8 39.0L216.4 37.0L213.7 35.0L212.7 32.0L209.6 27.0L207.6 25.0L209.2 20.0L208.5 18.0L205.3 14.0L206.7 9.0L206.7 7.0L202.9 -1.0Z" fill="#50ffaf"/><path d="M-2.0 -1.0L196.7 -1.0L196.6 1.0L199.1 8.0L196.8 13.0L196.4 15.0L197.0 17.0L199.9 20.0L200.1 21.0L198.0 25.0L198.0 28.0L199.0 29.9L203.0 33.9L204.1 36.0L205.1 41.0L206.6 43.0L206.7 44.0L204.7 47.0L201.3 58.0L200.4 59.0L191.0 61.4L186.0 63.8L183.0 66.0L177.0 66.7L172.0 68.7L160.0 76.7L156.5 81.0L155.7 83.0L155.7 87.0L155.1 90.0L152.8 93.0L151.0 99.2L148.7 103.0L148.2 121.0L146.8 124.0L144.7 132.0L144.0 143.2L135.7 173.0L136.4 175.0L-3.0 175.0L-3.0 -1.0ZM204.0 -1.0L221.0 -1.0L221.0 175.0L140.6 175.0L142.5 170.0L144.1 163.0L147.6 152.0L149.8 143.0L150.5 132.0L152.0 126.0L153.9 122.0L154.6 105.0L156.9 102.0L159.0 97.3L162.2 95.0L164.0 93.0L165.0 93.2L168.0 95.7L173.0 97.8L188.0 100.7L191.0 100.6L193.0 99.9L199.0 96.6L205.1 92.0L209.8 85.0L214.0 76.1L216.5 73.0L217.4 71.0L219.1 63.0L219.0 57.0L217.2 49.0L218.0 46.0L218.5 39.0L217.0 36.6L214.5 35.0L213.4 32.0L211.6 29.0L208.4 25.0L209.8 21.0L209.7 19.0L206.2 14.0L206.0 13.0L207.3 9.0L207.3 7.0L203.6 -1.0Z" fill="#60ff9f"/><path d="M-2.0 -1.0L196.0 -1.0L195.9 1.0L198.3 8.0L196.0 13.0L195.8 16.0L196.7 18.0L199.2 21.0L197.1 25.0L197.0 28.0L198.0 30.2L202.0 34.3L203.2 37.0L203.6 41.0L205.0 44.0L203.5 46.0L200.0 53.0L196.5 57.0L186.0 59.0L174.0 63.3L169.0 66.7L159.0 75.6L155.3 81.0L154.7 83.0L154.9 87.0L154.5 89.0L152.0 93.0L150.3 99.0L148.1 103.0L147.7 120.0L144.2 131.0L143.6 142.0L135.3 172.0L135.2 174.0L135.6 175.0L-3.0 175.0L-3.0 -1.0ZM205.0 -1.0L221.0 -1.0L221.0 175.0L141.4 175.0L148.3 152.0L150.5 143.0L151.0 132.5L152.8 126.0L154.6 122.0L155.3 106.0L159.8 98.0L165.0 94.9L167.0 96.5L171.0 98.4L180.0 100.7L189.0 102.0L194.0 100.9L202.0 96.2L206.8 92.0L211.3 85.0L215.0 77.0L218.3 72.0L220.1 63.0L220.0 57.0L218.2 49.0L218.9 46.0L219.3 39.0L218.0 36.5L215.0 34.1L213.8 31.0L209.7 25.0L210.6 21.0L210.5 19.0L206.9 13.0L208.1 9.0L208.1 7.0L204.4 -1.0Z" fill="#70ff8f"/><path d="M-2.0 -1.0L195.1 -1.0L195.2 2.0L197.3 8.0L195.0 13.0L194.7 16.0L195.3 18.0L197.9 21.0L196.0 25.0L195.7 28.0L196.8 31.0L200.0 34.3L201.0 36.1L202.0 44.0L198.0 49.5L194.0 52.4L177.0 56.8L171.0 60.0L167.0 63.4L159.0 72.2L154.6 79.0L153.5 82.0L153.6 87.0L153.1 89.0L151.2 92.0L149.2 99.0L147.1 103.0L146.8 120.0L145.5 123.0L143.3 131.0L142.8 141.0L134.3 172.0L134.5 175.0L-3.0 175.0L-3.0 -1.0ZM206.0 -1.0L221.0 -1.0L221.0 55.4L219.6 50.0L220.4 39.0L219.0 36.0L216.0 33.3L215.1 31.0L211.0 24.2L211.8 21.0L211.7 19.0L210.9 17.0L208.1 13.0L209.2 9.0L209.1 7.0L205.5 -1.0ZM221.0 67.2L221.0 175.0L142.6 175.0L149.3 152.0L151.6 143.0L152.0 132.5L153.8 126.0L155.6 122.0L156.5 106.0L161.0 99.5L162.0 98.5L165.0 97.3L172.0 100.6L180.0 102.5L188.0 103.8L192.0 103.5L197.0 101.4L205.0 96.2L208.3 93.0L212.2 87.0L216.0 79.0L219.3 74.0L220.9 68.0Z" fill="#80ff80"/><path d="M-2.0 -1.0L193.8 -1.0L193.8 2.0L195.7 8.0L193.1 14.0L193.5 18.0L195.3 21.0L195.3 22.0L194.1 25.0L193.8 29.0L195.1 33.0L198.1 37.0L198.3 39.0L197.7 41.0L196.0 44.7L194.0 46.2L176.0 51.4L172.0 53.2L169.0 55.1L165.0 58.6L161.1 63.0L154.3 73.0L151.5 80.0L151.2 87.0L149.0 92.0L147.6 98.0L145.6 102.0L145.1 120.0L143.7 123.0L141.5 131.0L141.0 141.0L132.5 172.0L132.7 175.0L-3.0 175.0L-3.0 -1.0ZM208.0 -1.0L221.0 -1.0L221.0 35.9L217.4 32.0L212.9 24.0L213.6 21.0L213.4 19.0L212.3 16.0L210.1 13.0L210.9 9.0L210.8 7.0L207.2 -1.0ZM221.0 76.1L221.0 175.0L144.6 175.0L151.1 153.0L153.6 143.0L153.8 133.0L155.4 127.0L157.3 123.0L158.0 112.9L159.0 106.8L163.0 103.0L166.0 101.0L172.0 103.7L186.0 106.5L192.0 106.4L197.0 104.7L205.0 99.7L210.0 95.2L214.7 88.0L218.5 80.0L220.5 77.0Z" fill="#8fff70"/><path d="M-2.0 -1.0L191.4 -1.0L191.4 3.0L192.6 8.0L190.6 12.0L190.1 14.0L190.1 18.0L191.3 22.0L190.0 26.0L189.0 33.0L188.0 36.1L185.0 39.1L169.0 46.6L161.4 52.0L157.5 56.0L153.7 61.0L150.6 66.0L147.4 73.0L145.6 79.0L145.0 85.0L143.5 89.0L142.2 95.0L139.7 101.0L138.0 118.0L133.8 130.0L132.6 140.0L127.7 158.0L125.3 170.0L125.2 175.0L-3.0 175.0L-3.0 -1.0ZM211.0 -1.0L221.0 -1.0L221.0 30.6L217.0 24.0L216.6 18.0L213.8 12.0L214.2 9.0L213.8 6.0L210.6 -1.0ZM221.0 87.1L221.0 175.0L163.7 175.0L172.0 166.0L173.8 163.0L174.7 160.0L174.7 156.0L173.8 151.0L172.3 145.0L169.0 136.0L168.6 133.0L170.1 119.0L170.9 116.0L172.4 113.0L173.0 112.7L182.0 114.2L188.0 114.5L194.0 113.5L199.0 111.5L206.0 106.8L212.6 101.0L216.3 96.0L220.6 88.0Z" fill="#9fff60"/><path d="M-2.0 -1.0L184.1 -1.0L181.5 8.0L174.0 18.5L169.0 23.6L164.3 27.0L153.0 33.8L127.8 45.0L118.4 50.0L110.4 55.0L102.0 61.2L93.1 69.0L86.4 76.0L80.1 84.0L74.5 93.0L69.5 103.0L65.0 114.4L62.7 123.0L60.2 136.0L58.8 149.0L58.4 162.0L59.0 175.0L-3.0 175.0L-3.0 -1.0Z" fill="#afff50"/><path d="M-2.0 -1.0L133.9 -1.0L70.7 15.0L43.0 22.6L16.0 29.0L13.5 60.0L11.6 96.0L10.6 135.0L10.5 175.0L-3.0 175.0L-3.0 -1.0Z" fill="#bfff40"/><path d="M-2.0 -1.0L61.2 -1.0L42.0 2.5L3.5 6.0L3.1 8.0L2.4 28.0L1.1 84.0L0.5 175.0L-3.0 175.0L-3.0 -1.0Z" fill="#cfff30"/></g><path d="M0.0 0.0L5.58 2.40M10.8 0.0L16.33 2.40M21.5 0.0L27.08 2.40M32.2 0.0L37.83 2.40M43.0 0.0L48.58 2.40M53.8 0.0L59.33 2.40M64.5 0.0L70.08 2.40M75.2 0.0L80.83 2.40M86.0 0.0L91.58 2.40M96.8 0.0L102.33 2.40M107.5 0.0L113.08 2.40M118.2 0.0L123.83 2.40M129.0 0.0L134.58 2.40M139.8 0.0L145.33 2.40M150.5 0.0L156.08 2.40M161.2 0.0L166.83 2.40M172.0 0.0L177.58 2.40M182.8 0.0L188.33 2.40M193.5 0.0L199.08 2.40M0.0 10.8L5.58 13.23M10.8 10.8L16.33 13.23M21.5 10.8L27.08 13.23M32.2 10.8L37.83 13.23M43.0 10.8L48.58 13.23M53.8 10.8L59.33 13.23M64.5 10.8L70.08 13.23M75.2 10.8L80.83 13.23M86.0 10.8L91.58 13.23M96.8 10.8L102.33 13.23M107.5 10.8L113.08 13.23M118.2 10.8L123.83 13.23M129.0 10.8L134.58 13.23M139.8 10.8L145.33 13.23M150.5 10.8L156.08 13.23M161.2 10.8L166.83 13.23M172.0 10.8L177.58 13.23M182.8 10.8L188.33 13.23M193.5 10.8L199.08 13.23M0.0 21.7L5.58 24.06M10.8 21.7L16.33 24.06M21.5 21.7L27.08 24.06M32.2 21.7L37.83 24.06M43.0 21.7L48.58 24.06M53.8 21.7L59.33 24.06M64.5 21.7L70.08 24.06M75.2 21.7L80.83 24.06M86.0 21.7L91.58 24.06M96.8 21.7L102.33 24.06M107.5 21.7L113.08 24.06M118.2 21.7L123.83 24.06M129.0 21.7L134.58 24.06M139.8 21.7L145.33 24.06M150.5 21.7L156.08 24.06M161.2 21.7L166.83 24.06M172.0 21.7L177.58 24.06M182.8 21.7L188.33 24.06M193.5 21.7L199.08 24.06M0.0 32.5L5.58 34.89M10.8 32.5L16.33 34.89M21.5 32.5L27.08 34.89M32.2 32.5L37.83 34.89M43.0 32.5L48.58 34.89M53.8 32.5L59.33 34.89M64.5 32.5L70.08 34.89M75.2 32.5L80.83 34.89M86.0 32.5L91.58 34.89M96.8 32.5L102.33 34.89M107.5 32.5L113.08 34.89M118.2 32.5L123.83 34.89M129.0 32.5L134.58 34.89M139.8 32.5L145.33 34.89M150.5 32.5L156.08 34.89M161.2 32.5L166.83 34.89M172.0 32.5L177.58 34.89M182.8 32.5L188.33 34.90M193.5 32.5L199.08 34.89M204.2 32.5L208.41 29.83M0.0 43.3L5.58 45.72M10.8 43.3L16.33 45.72M21.5 43.3L27.08 45.72M32.2 43.3L37.83 45.72M43.0 43.3L48.58 45.72M53.8 43.3L59.33 45.72M64.5 43.3L70.08 45.72M75.2 43.3L80.83 45.72M86.0 43.3L91.58 45.72M96.8 43.3L102.33 45.72M107.5 43.3L113.08 45.72M118.2 43.3L123.83 45.72M129.0 43.3L134.58 45.72M139.8 43.3L145.33 45.72M150.5 43.3L156.08 45.72M161.2 43.3L166.83 45.73M172.0 43.3L177.57 45.73M182.8 43.3L188.31 45.74M193.5 43.3L199.07 45.73M204.2 43.3L209.83 45.73M0.0 54.1L5.58 56.55M10.8 54.1L16.33 56.55M21.5 54.1L27.08 56.55M32.2 54.1L37.83 56.55M43.0 54.1L48.58 56.55M53.8 54.1L59.33 56.55M64.5 54.1L70.08 56.55M75.2 54.1L80.83 56.55M86.0 54.1L91.58 56.55M96.8 54.1L102.33 56.55M107.5 54.1L113.08 56.55M118.2 54.1L123.83 56.55M129.0 54.1L134.58 56.55M139.8 54.1L145.33 56.55M150.5 54.1L156.08 56.56M161.2 54.1L166.79 56.58M172.0 54.1L177.46 56.64M182.8 54.1L188.14 56.68M193.5 54.1L198.94 56.65M204.2 54.1L209.78 56.59M0.0 65.0L5.58 67.38M10.8 65.0L16.33 67.38M21.5 65.0L27.08 67.38M32.2 65.0L37.83 67.38M43.0 65.0L48.58 67.38M53.8 65.0L59.33 67.38M64.5 65.0L70.08 67.38M75.2 65.0L80.83 67.38M86.0 65.0L91.58 67.38M96.8 65.0L102.33 67.38M107.5 65.0L113.08 67.38M118.2 65.0L123.83 67.38M129.0 65.0L134.58 67.38M139.8 65.0L145.33 67.39M150.5 65.0L156.05 67.40M161.2 65.0L166.66 67.50M172.0 65.0L177.03 67.76M182.8 65.0L187.49 67.96M193.5 65.0L198.44 67.83M204.2 65.0L209.59 67.55M0.0 75.8L5.58 78.21M10.8 75.8L16.33 78.21M21.5 75.8L27.08 78.21M32.2 75.8L37.83 78.21M43.0 75.8L48.58 78.21M53.8 75.8L59.33 78.21M64.5 75.8L70.08 78.21M75.2 75.8L80.83 78.21M86.0 75.8L91.58 78.21M96.8 75.8L102.33 78.21M107.5 75.8L113.08 78.21M118.2 75.8L123.83 78.21M129.0 75.8L134.58 78.21M139.8 75.8L145.33 78.22M150.5 75.8L156.02 78.25M161.2 75.8L166.45 78.48M172.0 75.8L176.39 79.04M182.8 75.8L186.52 79.49M193.5 75.8L197.69 79.18M0.0 86.6L5.58 89.04M10.8 86.6L16.33 89.04M21.5 86.6L27.08 89.04M32.2 86.6L37.83 89.04M43.0 86.6L48.58 89.04M53.8 86.6L59.33 89.04M64.5 86.6L70.08 89.04M75.2 86.6L80.83 89.04M86.0 86.6L91.58 89.04M96.8 86.6L102.33 89.04M107.5 86.6L113.08 89.04M118.2 86.6L123.83 89.04M129.0 86.6L134.58 89.04M139.8 86.6L145.33 89.05M150.5 86.6L156.02 89.09M161.2 86.6L166.42 89.32M172.0 86.6L176.32 89.92M182.8 86.6L186.40 90.41M193.5 86.6L197.60 90.08M0.0 97.5L5.58 99.87M10.8 97.5L16.33 99.87M21.5 97.5L27.08 99.87M32.2 97.5L37.83 99.87M43.0 97.5L48.58 99.87M53.8 97.5L59.33 99.87M64.5 97.5L70.08 99.87M75.2 97.5L80.83 99.87M86.0 97.5L91.58 99.87M96.8 97.5L102.33 99.87M107.5 97.5L113.08 99.87M118.2 97.5L123.83 99.87M129.0 97.5L134.58 99.87M139.8 97.5L145.33 99.88M150.5 97.5L156.05 99.90M0.0 108.3L5.58 110.70M10.8 108.3L16.33 110.70M21.5 108.3L27.08 110.70M32.2 108.3L37.83 110.70M43.0 108.3L48.58 110.70M53.8 108.3L59.33 110.70M64.5 108.3L70.08 110.70M75.2 108.3L80.83 110.70M86.0 108.3L91.58 110.70M96.8 108.3L102.33 110.70M107.5 108.3L113.08 110.70M118.2 108.3L123.83 110.70M129.0 108.3L134.58 110.70M139.8 108.3L145.33 110.70M0.0 119.1L5.58 121.53M10.8 119.1L16.33 121.53M21.5 119.1L27.08 121.53M32.2 119.1L37.83 121.53M43.0 119.1L48.58 121.53M53.8 119.1L59.33 121.53M64.5 119.1L70.08 121.53M75.2 119.1L80.83 121.53M86.0 119.1L91.58 121.53M96.8 119.1L102.33 121.53M107.5 119.1L113.08 121.53M118.2 119.1L123.83 121.53M129.0 119.1L134.58 121.53M139.8 119.1L145.33 121.53M150.5 119.1L156.08 121.54M0.0 130.0L5.58 132.36M10.8 130.0L16.33 132.36M21.5 130.0L27.08 132.36M32.2 130.0L37.83 132.36M43.0 130.0L48.58 132.36M53.8 130.0L59.33 132.36M64.5 130.0L70.08 132.36M75.2 130.0L80.83 132.36M86.0 130.0L91.58 132.36M96.8 130.0L102.33 132.36M107.5 130.0L113.08 132.36M118.2 130.0L123.83 132.36M129.0 130.0L134.58 132.36M139.8 130.0L145.33 132.36M0.0 140.8L5.58 143.19M10.8 140.8L16.33 143.19M21.5 140.8L27.08 143.19M32.2 140.8L37.83 143.19M43.0 140.8L48.58 143.19M53.8 140.8L59.33 143.19M64.5 140.8L70.08 143.19M75.2 140.8L80.83 143.19M86.0 140.8L91.58 143.19M96.8 140.8L102.33 143.19M107.5 140.8L113.08 143.19M118.2 140.8L123.83 143.19M129.0 140.8L134.58 143.19M139.8 140.8L145.33 143.19M0.0 151.6L5.58 154.02M10.8 151.6L16.33 154.02M21.5 151.6L27.08 154.02M32.2 151.6L37.83 154.02M43.0 151.6L48.58 154.02M53.8 151.6L59.33 154.02M64.5 151.6L70.08 154.02M75.2 151.6L80.83 154.02M86.0 151.6L91.58 154.02M96.8 151.6L102.33 154.02M107.5 151.6L113.08 154.02M118.2 151.6L123.83 154.02M129.0 151.6L134.58 154.02M139.8 151.6L145.33 154.02M0.0 162.4L5.58 164.85M10.8 162.4L16.33 164.85M21.5 162.4L27.08 164.85M32.2 162.4L37.83 164.85M43.0 162.4L48.58 164.85M53.8 162.4L59.33 164.85M64.5 162.4L70.08 164.85M75.2 162.4L80.83 164.85M86.0 162.4L91.58 164.85M96.8 162.4L102.33 164.85M107.5 162.4L113.08 164.85M118.2 162.4L123.83 164.85M129.0 162.4L134.58 164.85M139.8 162.4L145.33 164.85M0.0 173.3L5.58 175.68M10.8 173.3L16.33 175.68M21.5 173.3L27.08 175.68M32.2 173.3L37.83 175.68M43.0 173.3L48.58 175.68M53.8 173.3L59.33 175.68M64.5 173.3L70.08 175.68M75.2 173.3L80.83 175.68M86.0 173.3L91.58 175.68M96.8 173.3L102.33 175.68M107.5 173.3L113.08 175.68M118.2 173.3L123.83 175.68M129.0 173.3L134.58 175.68" stroke="#062a00" stroke-width="1.1" stroke-linecap="round" opacity="0.64" fill="none"/><path d="M6.50 2.80L3.83 2.68L4.58 0.94ZM17.25 2.80L14.58 2.68L15.33 0.94ZM28.00 2.80L25.33 2.68L26.08 0.94ZM38.75 2.80L36.08 2.68L36.83 0.94ZM49.50 2.80L46.83 2.68L47.58 0.94ZM60.25 2.80L57.58 2.68L58.33 0.94ZM71.00 2.80L68.33 2.68L69.08 0.94ZM81.75 2.80L79.08 2.68L79.83 0.94ZM92.50 2.80L89.83 2.68L90.58 0.94ZM103.25 2.80L100.58 2.68L101.33 0.94ZM114.00 2.80L111.33 2.68L112.08 0.94ZM124.75 2.80L122.08 2.68L122.83 0.94ZM135.50 2.80L132.83 2.68L133.58 0.94ZM146.25 2.80L143.58 2.68L144.33 0.94ZM157.00 2.80L154.33 2.68L155.08 0.94ZM167.75 2.80L165.08 2.68L165.83 0.94ZM178.50 2.80L175.83 2.68L176.58 0.94ZM189.25 2.80L186.58 2.68L187.33 0.94ZM200.00 2.80L197.33 2.68L198.08 0.94ZM6.50 13.63L3.83 13.51L4.58 11.77ZM17.25 13.63L14.58 13.51L15.33 11.77ZM28.00 13.63L25.33 13.51L26.08 11.77ZM38.75 13.63L36.08 13.51L36.83 11.77ZM49.50 13.63L46.83 13.51L47.58 11.77ZM60.25 13.63L57.58 13.51L58.33 11.77ZM71.00 13.63L68.33 13.51L69.08 11.77ZM81.75 13.63L79.08 13.51L79.83 11.77ZM92.50 13.63L89.83 13.51L90.58 11.77ZM103.25 13.63L100.58 13.51L101.33 11.77ZM114.00 13.63L111.33 13.51L112.08 11.77ZM124.75 13.63L122.08 13.51L122.83 11.77ZM135.50 13.63L132.83 13.51L133.58 11.77ZM146.25 13.63L143.58 13.51L144.33 11.77ZM157.00 13.63L154.33 13.51L155.08 11.77ZM167.75 13.63L165.08 13.51L165.83 11.77ZM178.50 13.63L175.83 13.51L176.58 11.77ZM189.25 13.63L186.58 13.51L187.33 11.77ZM200.00 13.63L197.33 13.51L198.08 11.77ZM6.50 24.46L3.83 24.34L4.58 22.60ZM17.25 24.46L14.58 24.34L15.33 22.60ZM28.00 24.46L25.33 24.34L26.08 22.60ZM38.75 24.46L36.08 24.34L36.83 22.60ZM49.50 24.46L46.83 24.34L47.58 22.60ZM60.25 24.46L57.58 24.34L58.33 22.60ZM71.00 24.46L68.33 24.34L69.08 22.60ZM81.75 24.46L79.08 24.34L79.83 22.60ZM92.50 24.46L89.83 24.34L90.58 22.60ZM103.25 24.46L100.58 24.34L101.33 22.60ZM114.00 24.46L111.33 24.34L112.08 22.60ZM124.75 24.46L122.08 24.34L122.83 22.60ZM135.50 24.46L132.83 24.34L133.58 22.60ZM146.25 24.46L143.58 24.34L144.33 22.60ZM157.00 24.46L154.33 24.34L155.08 22.60ZM167.75 24.46L165.08 24.34L165.83 22.60ZM178.50 24.46L175.83 24.34L176.58 22.60ZM189.25 24.46L186.58 24.34L187.33 22.60ZM200.00 24.46L197.33 24.34L198.08 22.60ZM6.50 35.29L3.83 35.17L4.58 33.43ZM17.25 35.29L14.58 35.17L15.33 33.43ZM28.00 35.29L25.33 35.17L26.08 33.43ZM38.75 35.29L36.08 35.17L36.83 33.43ZM49.50 35.29L46.83 35.17L47.58 33.43ZM60.25 35.29L57.58 35.17L58.33 33.43ZM71.00 35.29L68.33 35.17L69.08 33.43ZM81.75 35.29L79.08 35.17L79.83 33.43ZM92.50 35.29L89.83 35.17L90.58 33.43ZM103.25 35.29L100.58 35.17L101.33 33.43ZM114.00 35.29L111.33 35.17L112.08 33.43ZM124.75 35.29L122.08 35.17L122.83 33.43ZM135.50 35.29L132.83 35.17L133.58 33.43ZM146.25 35.29L143.58 35.17L144.33 33.43ZM157.00 35.29L154.33 35.17L155.08 33.43ZM167.75 35.29L165.08 35.17L165.83 33.43ZM178.50 35.29L175.83 35.17L176.58 33.43ZM189.25 35.29L186.58 35.17L187.33 33.43ZM200.00 35.29L197.33 35.17L198.08 33.43ZM209.25 29.29L207.66 31.44L206.63 29.84ZM6.50 46.12L3.83 46.00L4.58 44.26ZM17.25 46.12L14.58 46.00L15.33 44.26ZM28.00 46.12L25.33 46.00L26.08 44.26ZM38.75 46.12L36.08 46.00L36.83 44.26ZM49.50 46.12L46.83 46.00L47.58 44.26ZM60.25 46.12L57.58 46.00L58.33 44.26ZM71.00 46.12L68.33 46.00L69.08 44.26ZM81.75 46.12L79.08 46.00L79.83 44.26ZM92.50 46.12L89.83 46.00L90.58 44.26ZM103.25 46.12L100.58 46.00L101.33 44.26ZM114.00 46.12L111.33 46.00L112.08 44.26ZM124.75 46.12L122.08 46.00L122.83 44.26ZM135.50 46.12L132.83 46.00L133.58 44.26ZM146.25 46.12L143.58 46.00L144.33 44.26ZM157.00 46.12L154.33 46.00L155.08 44.26ZM167.75 46.12L165.07 46.01L165.83 44.26ZM178.49 46.13L175.81 46.01L176.57 44.27ZM189.23 46.14L186.56 46.01L187.31 44.27ZM199.98 46.13L197.31 46.01L198.07 44.27ZM210.74 46.12L208.07 46.01L208.83 44.26ZM6.50 56.95L3.83 56.83L4.58 55.09ZM17.25 56.95L14.58 56.83L15.33 55.09ZM28.00 56.95L25.33 56.83L26.08 55.09ZM38.75 56.95L36.08 56.83L36.83 55.09ZM49.50 56.95L46.83 56.83L47.58 55.09ZM60.25 56.95L57.58 56.83L58.33 55.09ZM71.00 56.95L68.33 56.83L69.08 55.09ZM81.75 56.95L79.08 56.83L79.83 55.09ZM92.50 56.95L89.83 56.83L90.58 55.09ZM103.25 56.95L100.58 56.83L101.33 55.09ZM114.00 56.95L111.33 56.83L112.08 55.09ZM124.75 56.95L122.08 56.83L122.83 55.09ZM135.50 56.95L132.83 56.83L133.58 55.09ZM146.25 56.95L143.58 56.83L144.33 55.09ZM156.99 56.95L154.32 56.84L155.08 55.09ZM167.71 56.98L165.04 56.85L165.80 55.11ZM178.37 57.05L175.70 56.88L176.49 55.15ZM189.05 57.11L186.38 56.91L187.19 55.19ZM199.85 57.07L197.18 56.89L197.97 55.16ZM210.69 56.99L208.02 56.85L208.79 55.12ZM6.50 67.78L3.83 67.66L4.58 65.92ZM17.25 67.78L14.58 67.66L15.33 65.92ZM28.00 67.78L25.33 67.66L26.08 65.92ZM38.75 67.78L36.08 67.66L36.83 65.92ZM49.50 67.78L46.83 67.66L47.58 65.92ZM60.25 67.78L57.58 67.66L58.33 65.92ZM71.00 67.78L68.33 67.66L69.08 65.92ZM81.75 67.78L79.08 67.66L79.83 65.92ZM92.50 67.78L89.83 67.66L90.58 65.92ZM103.25 67.78L100.58 67.66L101.33 65.92ZM114.00 67.78L111.33 67.66L112.08 65.92ZM124.75 67.78L122.08 67.66L122.83 65.92ZM135.50 67.78L132.83 67.66L133.58 65.92ZM146.25 67.78L143.58 67.66L144.33 65.92ZM156.97 67.80L154.30 67.67L155.06 65.93ZM167.56 67.93L164.90 67.73L165.70 66.01ZM177.91 68.24L175.26 67.87L176.18 66.20ZM188.33 68.50L185.71 67.97L186.72 66.36ZM199.30 68.33L196.66 67.90L197.61 66.25ZM210.49 67.98L207.83 67.76L208.65 66.04ZM6.50 78.61L3.83 78.49L4.58 76.75ZM17.25 78.61L14.58 78.49L15.33 76.75ZM28.00 78.61L25.33 78.49L26.08 76.75ZM38.75 78.61L36.08 78.49L36.83 76.75ZM49.50 78.61L46.83 78.49L47.58 76.75ZM60.25 78.61L57.58 78.49L58.33 76.75ZM71.00 78.61L68.33 78.49L69.08 76.75ZM81.75 78.61L79.08 78.49L79.83 76.75ZM92.50 78.61L89.83 78.49L90.58 76.75ZM103.25 78.61L100.58 78.49L101.33 76.75ZM114.00 78.61L111.33 78.49L112.08 76.75ZM124.75 78.61L122.08 78.49L122.83 76.75ZM135.50 78.61L132.83 78.49L133.58 76.75ZM146.25 78.61L143.57 78.50L144.33 76.75ZM156.94 78.66L154.27 78.52L155.04 76.78ZM167.34 78.93L164.68 78.64L165.55 76.95ZM177.20 79.63L174.62 78.91L175.75 77.38ZM187.23 80.19L184.78 79.12L186.11 77.76ZM198.47 79.81L195.92 78.98L197.11 77.50ZM6.50 89.44L3.83 89.32L4.58 87.58ZM17.25 89.44L14.58 89.32L15.33 87.58ZM28.00 89.44L25.33 89.32L26.08 87.58ZM38.75 89.44L36.08 89.32L36.83 87.58ZM49.50 89.44L46.83 89.32L47.58 87.58ZM60.25 89.44L57.58 89.32L58.33 87.58ZM71.00 89.44L68.33 89.32L69.08 87.58ZM81.75 89.44L79.08 89.32L79.83 87.58ZM92.50 89.44L89.83 89.32L90.58 87.58ZM103.25 89.44L100.58 89.32L101.33 87.58ZM114.00 89.44L111.33 89.32L112.08 87.58ZM124.75 89.44L122.08 89.32L122.83 87.58ZM135.50 89.44L132.83 89.32L133.58 87.58ZM146.24 89.44L143.57 89.33L144.33 87.58ZM156.93 89.49L154.26 89.35L155.03 87.61ZM167.31 89.78L164.66 89.48L165.53 87.79ZM177.11 90.53L174.55 89.77L175.70 88.26ZM187.10 91.13L184.67 89.99L186.04 88.67ZM198.36 90.72L195.84 89.84L197.06 88.39ZM6.50 100.27L3.83 100.15L4.58 98.41ZM17.25 100.27L14.58 100.15L15.33 98.41ZM28.00 100.27L25.33 100.15L26.08 98.41ZM38.75 100.27L36.08 100.15L36.83 98.41ZM49.50 100.27L46.83 100.15L47.58 98.41ZM60.25 100.27L57.58 100.15L58.33 98.41ZM71.00 100.27L68.33 100.15L69.08 98.41ZM81.75 100.27L79.08 100.15L79.83 98.41ZM92.50 100.27L89.83 100.15L90.58 98.41ZM103.25 100.27L100.58 100.15L101.33 98.41ZM114.00 100.27L111.33 100.15L112.08 98.41ZM124.75 100.27L122.08 100.15L122.83 98.41ZM135.50 100.27L132.83 100.15L133.58 98.41ZM146.25 100.27L143.58 100.15L144.33 98.41ZM156.96 100.30L154.29 100.17L155.06 98.43ZM6.50 111.10L3.83 110.98L4.58 109.24ZM17.25 111.10L14.58 110.98L15.33 109.24ZM28.00 111.10L25.33 110.98L26.08 109.24ZM38.75 111.10L36.08 110.98L36.83 109.24ZM49.50 111.10L46.83 110.98L47.58 109.24ZM60.25 111.10L57.58 110.98L58.33 109.24ZM71.00 111.10L68.33 110.98L69.08 109.24ZM81.75 111.10L79.08 110.98L79.83 109.24ZM92.50 111.10L89.83 110.98L90.58 109.24ZM103.25 111.10L100.58 110.98L101.33 109.24ZM114.00 111.10L111.33 110.98L112.08 109.24ZM124.75 111.10L122.08 110.98L122.83 109.24ZM135.50 111.10L132.83 110.98L133.58 109.24ZM146.25 111.10L143.58 110.98L144.33 109.24ZM6.50 121.93L3.83 121.81L4.58 120.07ZM17.25 121.93L14.58 121.81L15.33 120.07ZM28.00 121.93L25.33 121.81L26.08 120.07ZM38.75 121.93L36.08 121.81L36.83 120.07ZM49.50 121.93L46.83 121.81L47.58 120.07ZM60.25 121.93L57.58 121.81L58.33 120.07ZM71.00 121.93L68.33 121.81L69.08 120.07ZM81.75 121.93L79.08 121.81L79.83 120.07ZM92.50 121.93L89.83 121.81L90.58 120.07ZM103.25 121.93L100.58 121.81L101.33 120.07ZM114.00 121.93L111.33 121.81L112.08 120.07ZM124.75 121.93L122.08 121.81L122.83 120.07ZM135.50 121.93L132.83 121.81L133.58 120.07ZM146.25 121.93L143.58 121.81L144.33 120.07ZM157.00 121.93L154.33 121.81L155.08 120.07ZM6.50 132.76L3.83 132.64L4.58 130.90ZM17.25 132.76L14.58 132.64L15.33 130.90ZM28.00 132.76L25.33 132.64L26.08 130.90ZM38.75 132.76L36.08 132.64L36.83 130.90ZM49.50 132.76L46.83 132.64L47.58 130.90ZM60.25 132.76L57.58 132.64L58.33 130.90ZM71.00 132.76L68.33 132.64L69.08 130.90ZM81.75 132.76L79.08 132.64L79.83 130.90ZM92.50 132.76L89.83 132.64L90.58 130.90ZM103.25 132.76L100.58 132.64L101.33 130.90ZM114.00 132.76L111.33 132.64L112.08 130.90ZM124.75 132.76L122.08 132.64L122.83 130.90ZM135.50 132.76L132.83 132.64L133.58 130.90ZM146.25 132.76L143.58 132.64L144.33 130.90ZM6.50 143.59L3.83 143.47L4.58 141.73ZM17.25 143.59L14.58 143.47L15.33 141.73ZM28.00 143.59L25.33 143.47L26.08 141.73ZM38.75 143.59L36.08 143.47L36.83 141.73ZM49.50 143.59L46.83 143.47L47.58 141.73ZM60.25 143.59L57.58 143.47L58.33 141.73ZM71.00 143.59L68.33 143.47L69.08 141.73ZM81.75 143.59L79.08 143.47L79.83 141.73ZM92.50 143.59L89.83 143.47L90.58 141.73ZM103.25 143.59L100.58 143.47L101.33 141.73ZM114.00 143.59L111.33 143.47L112.08 141.73ZM124.75 143.59L122.08 143.47L122.83 141.73ZM135.50 143.59L132.83 143.47L133.58 141.73ZM146.25 143.59L143.58 143.47L144.33 141.73ZM6.50 154.42L3.83 154.30L4.58 152.56ZM17.25 154.42L14.58 154.30L15.33 152.56ZM28.00 154.42L25.33 154.30L26.08 152.56ZM38.75 154.42L36.08 154.30L36.83 152.56ZM49.50 154.42L46.83 154.30L47.58 152.56ZM60.25 154.42L57.58 154.30L58.33 152.56ZM71.00 154.42L68.33 154.30L69.08 152.56ZM81.75 154.42L79.08 154.30L79.83 152.56ZM92.50 154.42L89.83 154.30L90.58 152.56ZM103.25 154.42L100.58 154.30L101.33 152.56ZM114.00 154.42L111.33 154.30L112.08 152.56ZM124.75 154.42L122.08 154.30L122.83 152.56ZM135.50 154.42L132.83 154.30L133.58 152.56ZM146.25 154.42L143.58 154.30L144.33 152.56ZM6.50 165.25L3.83 165.13L4.58 163.39ZM17.25 165.25L14.58 165.13L15.33 163.39ZM28.00 165.25L25.33 165.13L26.08 163.39ZM38.75 165.25L36.08 165.13L36.83 163.39ZM49.50 165.25L46.83 165.13L47.58 163.39ZM60.25 165.25L57.58 165.13L58.33 163.39ZM71.00 165.25L68.33 165.13L69.08 163.39ZM81.75 165.25L79.08 165.13L79.83 163.39ZM92.50 165.25L89.83 165.13L90.58 163.39ZM103.25 165.25L100.58 165.13L101.33 163.39ZM114.00 165.25L111.33 165.13L112.08 163.39ZM124.75 165.25L122.08 165.13L122.83 163.39ZM135.50 165.25L132.83 165.13L133.58 163.39ZM146.25 165.25L143.58 165.13L144.33 163.39ZM6.50 176.08L3.83 175.96L4.58 174.22ZM17.25 176.08L14.58 175.96L15.33 174.22ZM28.00 176.08L25.33 175.96L26.08 174.22ZM38.75 176.08L36.08 175.96L36.83 174.22ZM49.50 176.08L46.83 175.96L47.58 174.22ZM60.25 176.08L57.58 175.96L58.33 174.22ZM71.00 176.08L68.33 175.96L69.08 174.22ZM81.75 176.08L79.08 175.96L79.83 174.22ZM92.50 176.08L89.83 175.96L90.58 174.22ZM103.25 176.08L100.58 175.96L101.33 174.22ZM114.00 176.08L111.33 175.96L112.08 174.22ZM124.75 176.08L122.08 175.96L122.83 174.22ZM135.50 176.08L132.83 175.96L133.58 174.22Z" fill="#062a00" stroke="#062a00" stroke-width="0.5" stroke-linejoin="round" opacity="0.76"/><circle cx="184.00" cy="70.20" r="4.6" fill="#f00" stroke="#000" stroke-width="1.4"/></g></g>
<rect x="97.5" y="76.9" width="238.80" height="183.30" fill="none" stroke="#555" stroke-width="1.1"/>
<text x="158.0" y="65.3" font-size="15.4" fill="#111" textLength="122" lengthAdjust="spacingAndGlyphs">20110908_141000</text>
<rect x="403.1" y="75.9" width="241.20" height="184.50" fill="#fff"/>
<path d="M446.8 75.9v2.5M446.8 260.4v-2.5M490.6 75.9v2.5M490.6 260.4v-2.5M534.5 75.9v2.5M534.5 260.4v-2.5M578.3 75.9v2.5M578.3 260.4v-2.5M622.2 75.9v2.5M622.2 260.4v-2.5M403.1 92.7h2.5M644.3 92.7h-2.5M403.1 136.6h2.5M644.3 136.6h-2.5M403.1 180.6h2.5M644.3 180.6h-2.5M403.1 224.5h2.5M644.3 224.5h-2.5" stroke="#333" stroke-width="1" fill="none"/>
<g clip-path="url(#ax1)"><g transform="translate(404.4 82.2) scale(1.00465 1.00646)"><g clip-path="url(#sea)"><rect x="-5" y="-2" width="230" height="177.3" fill="#00008f"/><path d="M-2.0 -1.0L221.0 -1.0L221.0 175.0L-3.0 175.0L-3.0 -1.0ZM205.6 71.0L206.0 71.6L206.0 70.3ZM204.5 73.0L197.1 86.0L192.3 90.0L193.0 90.4L198.4 86.0L204.2 76.0L205.5 73.0L205.0 72.1ZM191.5 91.0L192.0 91.1L192.0 90.7ZM180.5 92.0L181.8 92.0L181.0 91.9ZM187.3 93.0L189.2 93.0L188.0 92.9Z" fill="#00009f"/><path d="M-2.0 -1.0L221.0 -1.0L221.0 175.0L-3.0 175.0L-3.0 -1.0ZM205.5 71.0L206.0 71.8L206.4 71.0L206.0 70.0ZM204.9 72.0L197.0 85.9L191.0 91.1L192.0 91.2L193.0 90.5L198.5 86.0L204.3 76.0L205.5 73.0L205.0 71.9ZM180.0 92.0L182.6 92.0L180.0 92.0ZM189.8 92.0L190.5 92.0L190.0 91.8ZM186.7 93.0L189.3 93.0L187.0 92.9Z" fill="#0000af"/><path d="M-2.0 -1.0L221.0 -1.0L221.0 175.0L-3.0 175.0L-3.0 -1.0ZM207.6 69.0L208.0 69.3L208.4 69.0L208.0 68.7ZM205.9 70.0L197.0 85.7L190.8 91.0L191.0 91.6L193.0 90.6L198.6 86.0L203.4 78.0L207.2 70.0L206.0 69.9ZM179.5 92.0L183.3 92.0L180.0 91.8ZM189.6 92.0L190.0 92.4L190.8 92.0L190.0 91.7ZM186.2 93.0L189.4 93.0L189.0 92.6L187.0 92.8Z" fill="#0000bf"/><path d="M-2.0 -1.0L221.0 -1.0L221.0 175.0L-3.0 175.0L-3.0 -1.0ZM207.4 69.0L208.0 69.4L208.5 69.0L208.0 68.6ZM205.8 70.0L196.5 86.0L189.0 92.4L185.7 93.0L189.0 93.4L198.0 86.9L203.5 78.0L207.3 70.0L207.0 69.5L206.0 69.8ZM179.0 92.0L181.0 92.3L184.1 92.0L180.0 91.7Z" fill="#0000cf"/><path d="M-2.0 -1.0L221.0 -1.0L221.0 175.0L-3.0 175.0L-3.0 -1.0ZM207.2 69.0L205.6 70.0L196.4 86.0L189.0 92.3L186.0 92.5L185.1 93.0L189.0 93.5L198.0 87.0L203.6 78.0L206.6 71.0L208.6 69.0L208.0 68.5ZM178.6 92.0L181.0 92.4L184.8 92.0L181.0 91.5L179.0 91.8Z" fill="#0000df"/><path d="M-2.0 -1.0L221.0 -1.0L221.0 175.0L-3.0 175.0L-3.0 -1.0ZM208.9 68.0L205.5 70.0L197.0 85.1L189.0 92.2L187.0 92.3L181.0 91.4L178.1 92.0L189.0 93.5L196.0 88.7L198.1 87.0L199.5 85.0L204.2 77.0L206.7 71.0L209.0 68.3L210.0 68.0L209.0 67.9ZM168.9 87.0L169.0 87.7L169.0 86.5ZM172.5 91.0L173.9 91.0L173.0 90.9Z" fill="#0000ef"/><path d="M-2.0 -1.0L221.0 -1.0L221.0 175.0L-3.0 175.0L-3.0 -1.0ZM210.9 66.0L211.0 67.1L211.0 65.8ZM208.7 68.0L205.4 70.0L196.9 85.0L189.0 92.0L178.0 91.2L177.5 92.0L189.0 93.6L196.0 88.8L198.3 87.0L201.5 82.0L204.3 77.0L206.8 71.0L210.2 68.0L209.0 67.8ZM164.6 83.0L166.6 83.0L165.0 82.9ZM167.6 84.0L168.0 84.4L168.0 83.9ZM168.8 87.0L169.0 88.2L169.0 86.0ZM172.0 91.0L177.1 91.0L172.0 91.0Z" fill="#0000ff"/><path d="M-2.0 -1.0L221.0 -1.0L221.0 175.0L-3.0 175.0L-3.0 -1.0ZM210.8 66.0L210.5 67.0L211.0 67.2L211.0 65.6ZM208.5 68.0L205.3 70.0L196.7 85.0L189.0 91.9L188.0 92.1L178.0 90.9L173.0 90.7L171.7 91.0L188.0 93.7L189.0 93.7L190.0 93.1L198.4 87.0L204.4 77.0L206.9 71.0L210.3 68.0L210.0 67.4L209.0 67.7ZM163.7 83.0L166.0 83.3L168.3 85.0L168.3 84.0L167.0 83.0L164.0 83.0ZM168.8 86.0L169.0 88.4L169.4 87.0L169.0 85.5ZM169.8 90.0L170.6 90.0L170.0 89.6Z" fill="#0010ff"/><path d="M-2.0 -1.0L221.0 -1.0L221.0 175.0L-3.0 175.0L-3.0 -1.0ZM211.8 64.0L212.0 64.4L212.0 63.4ZM210.7 66.0L210.0 67.2L205.2 70.0L196.5 85.0L189.0 91.7L188.0 92.0L173.0 90.6L171.5 91.0L188.0 93.8L189.0 93.8L191.0 92.6L198.5 87.0L204.6 77.0L207.0 71.0L211.2 67.0L211.0 65.4ZM162.7 83.0L166.0 83.4L166.8 84.0L168.5 86.0L169.0 88.7L169.5 87.0L168.4 84.0L166.0 82.6L163.0 83.0ZM169.6 90.0L170.0 90.3L170.9 90.0L170.0 89.4Z" fill="#0020ff"/><path d="M-2.0 -1.0L221.0 -1.0L221.0 175.0L-3.0 175.0L-3.0 -1.0ZM211.7 64.0L212.0 64.7L212.0 63.1ZM210.6 66.0L209.9 67.0L205.0 70.0L196.4 85.0L189.0 91.5L188.0 91.9L172.0 90.4L170.0 89.1L169.5 90.0L171.0 90.4L172.0 91.3L175.4 92.0L188.0 93.9L190.0 93.4L198.7 87.0L204.7 77.0L207.1 71.0L211.3 67.0L211.5 66.0L211.0 65.2ZM161.9 83.0L166.0 83.5L166.7 84.0L168.2 86.0L169.0 89.0L169.6 88.0L169.6 87.0L168.6 84.0L167.0 82.7L166.0 82.4L162.0 83.0Z" fill="#0030ff"/><path d="M-2.0 -1.0L221.0 -1.0L221.0 175.0L-3.0 175.0L-3.0 -1.0ZM212.9 59.0L213.0 60.3L213.0 58.6ZM211.9 63.0L211.5 64.0L212.0 65.0L212.3 64.0L212.0 62.8ZM211.0 65.0L209.7 67.0L204.9 70.0L196.2 85.0L189.0 91.3L188.0 91.7L172.0 90.1L170.1 89.0L169.0 84.4L167.0 82.5L161.6 83.0L166.0 83.6L166.6 84.0L167.6 85.0L169.3 90.0L172.0 91.4L189.0 94.0L198.8 87.0L204.3 78.0L207.3 71.0L211.4 67.0L211.7 65.0L211.0 64.9Z" fill="#0040ff"/><path d="M-2.0 -1.0L221.0 -1.0L221.0 175.0L-3.0 175.0L-3.0 -1.0ZM212.8 59.0L213.0 61.8L213.0 58.0ZM211.8 63.0L210.0 66.6L205.6 69.0L204.7 70.0L196.0 85.0L189.0 91.2L188.0 91.6L172.1 90.0L170.2 89.0L169.0 84.0L167.0 82.4L161.2 83.0L166.4 84.0L167.4 85.0L169.2 90.0L172.0 91.5L189.0 94.1L198.9 87.0L204.4 78.0L207.4 71.0L211.5 67.0L212.4 64.0L212.0 62.6ZM159.9 85.0L160.0 86.7L160.0 84.7Z" fill="#0050ff"/><path d="M-2.0 -1.0L221.0 -1.0L221.0 175.0L-3.0 175.0L-3.0 -1.0ZM212.9 58.0L212.6 62.0L212.0 62.3L210.0 66.4L205.0 69.3L196.0 84.6L189.0 91.0L188.0 91.4L172.6 90.0L170.4 89.0L169.2 84.0L167.0 82.2L162.0 82.6L161.0 83.1L166.3 84.0L167.3 85.0L169.1 90.0L172.0 91.6L189.0 94.2L196.0 89.6L199.8 86.0L204.5 78.0L207.6 71.0L211.6 67.0L213.1 62.0L213.0 57.4ZM159.8 85.0L160.0 88.1L160.0 84.2Z" fill="#0060ff"/><path d="M-2.0 -1.0L221.0 -1.0L221.0 175.0L-3.0 175.0L-3.0 -1.0ZM212.9 56.0L212.5 61.0L210.0 66.2L205.0 69.1L196.0 84.2L188.6 91.0L173.0 90.0L170.6 89.0L169.4 84.0L167.0 82.0L162.0 82.4L161.0 82.8L161.0 83.5L166.0 83.9L167.2 85.0L169.0 90.1L172.0 91.7L188.0 94.3L190.0 93.8L199.3 87.0L204.7 78.0L207.7 71.0L211.2 68.0L213.2 62.0L213.0 55.8ZM159.9 84.0L160.0 88.4L160.3 84.0L160.0 83.9Z" fill="#0070ff"/><path d="M-2.0 -1.0L221.0 -1.0L221.0 175.0L-3.0 175.0L-3.0 -1.0ZM212.8 56.0L212.3 61.0L210.0 66.0L204.8 69.0L195.9 84.0L188.2 91.0L181.0 90.1L174.0 89.9L171.0 89.2L169.6 84.0L167.0 81.9L161.0 82.7L160.7 83.0L161.0 84.0L162.0 83.5L166.0 84.0L167.1 85.0L169.0 90.3L173.0 92.2L188.0 94.4L190.0 94.0L199.4 87.0L204.8 78.0L207.9 71.0L211.3 68.0L213.3 62.0L213.0 55.6ZM159.8 84.0L160.0 88.6L160.4 85.0L160.9 84.0L160.0 83.8Z" fill="#0080ff"/><path d="M-2.0 -1.0L221.0 -1.0L221.0 175.0L-3.0 175.0L-3.0 -1.0ZM212.0 51.0L212.0 53.7L212.0 51.0ZM212.6 56.0L212.1 61.0L209.8 66.0L204.6 69.0L195.6 84.0L188.0 90.9L179.0 89.8L174.0 89.7L171.0 89.1L169.8 84.0L167.0 81.7L166.0 81.6L161.0 82.5L160.0 83.6L159.6 85.0L160.0 88.9L161.0 84.2L162.0 83.6L165.0 83.9L166.0 84.1L167.0 85.1L169.0 90.5L173.0 92.3L189.0 94.6L191.0 93.5L199.6 87.0L204.5 79.0L208.0 71.1L211.5 68.0L213.4 62.0L213.5 59.0L213.0 55.3Z" fill="#008fff"/><path d="M-2.0 -1.0L221.0 -1.0L221.0 175.0L-3.0 175.0L-3.0 -1.0ZM211.9 51.0L212.0 54.4L212.0 50.4ZM212.5 56.0L211.9 61.0L209.6 66.0L204.3 69.0L195.3 84.0L188.0 90.6L171.2 89.0L170.0 84.0L167.0 81.5L161.0 82.4L159.6 84.0L159.8 89.0L160.5 88.0L161.0 84.4L162.0 83.7L165.0 84.0L166.0 84.3L167.0 85.4L169.0 90.7L173.0 92.4L189.0 94.7L191.0 93.6L197.0 89.5L199.8 87.0L205.1 78.0L208.0 71.3L211.6 68.0L213.5 62.0L213.6 58.0L213.0 55.1ZM158.8 91.0L159.0 91.3L159.0 90.3Z" fill="#009fff"/><path d="M-2.0 -1.0L221.0 -1.0L221.0 175.0L-3.0 175.0L-3.0 -1.0ZM212.0 50.0L212.0 54.8L212.4 54.0L212.0 49.8ZM212.3 55.0L212.5 57.0L211.8 61.0L209.4 66.0L204.1 69.0L197.6 79.0L195.0 84.0L188.0 90.4L181.0 89.5L171.9 89.0L171.0 88.3L170.2 84.0L167.0 81.3L161.0 82.2L159.5 84.0L159.6 89.0L160.0 89.4L160.6 88.0L161.0 84.6L162.0 83.8L163.8 84.0L166.5 85.0L169.0 90.9L173.0 92.6L189.0 94.8L193.0 92.5L199.0 88.1L199.9 87.0L205.3 78.0L208.0 71.6L211.8 68.0L213.6 62.0L213.6 57.0L213.0 54.8ZM159.0 90.0L159.0 91.5L159.0 89.9Z" fill="#00afff"/><path d="M-2.0 -1.0L221.0 -1.0L221.0 175.0L-3.0 175.0L-3.0 -1.0ZM211.8 50.0L211.6 54.0L212.4 57.0L212.0 59.3L211.3 62.0L209.2 66.0L203.7 69.0L197.2 79.0L194.5 84.0L188.2 90.0L172.0 88.8L171.1 88.0L170.0 83.2L167.0 81.1L166.0 81.1L161.0 82.1L159.4 84.0L159.4 89.0L158.6 91.0L159.0 91.8L160.7 88.0L160.9 85.0L162.0 83.9L166.0 84.7L167.1 86.0L168.3 90.0L168.9 91.0L170.0 91.5L173.0 92.7L187.0 94.8L190.0 94.6L199.0 88.3L205.5 78.0L208.0 71.8L211.9 68.0L212.3 67.0L213.7 62.0L213.8 58.0L213.6 56.0L212.6 54.0L212.0 49.3Z" fill="#00bfff"/><path d="M-2.0 -1.0L221.0 -1.0L221.0 175.0L-3.0 175.0L-3.0 -1.0ZM211.9 49.0L211.5 53.0L212.2 57.0L212.0 58.6L211.2 62.0L209.0 66.0L204.6 68.0L203.4 69.0L197.3 78.0L194.0 83.9L188.0 89.8L181.0 88.9L174.0 89.0L172.0 88.5L171.4 88.0L170.7 84.0L170.2 83.0L167.0 80.9L161.0 81.9L159.2 84.0L159.3 88.0L158.5 91.0L159.0 92.0L160.8 88.0L161.0 85.0L162.0 84.1L166.0 84.8L166.9 86.0L168.8 91.0L170.0 91.7L173.0 92.8L186.0 94.8L189.0 95.1L190.0 94.8L199.0 88.5L204.6 80.0L208.1 72.0L212.0 68.2L212.4 67.0L213.8 62.0L214.0 57.0L212.6 53.0L212.0 48.7ZM157.8 93.0L158.1 93.0L158.0 92.5Z" fill="#00cfff"/><path d="M-2.0 -1.0L221.0 -1.0L221.0 175.0L-3.0 175.0L-3.0 -1.0ZM211.9 47.0L212.0 47.8L212.0 46.9ZM211.7 49.0L211.4 54.0L212.0 57.8L211.0 62.0L209.0 65.7L204.1 68.0L203.1 69.0L196.7 78.0L194.0 83.2L188.0 89.3L181.0 88.5L174.0 88.7L172.0 88.3L170.6 83.0L168.0 81.1L166.0 80.7L161.0 81.7L159.1 84.0L159.2 88.0L157.4 93.0L158.0 93.2L159.2 92.0L160.9 88.0L161.2 85.0L162.0 84.2L166.0 85.0L168.6 91.0L170.0 91.8L173.0 92.9L188.0 95.2L190.0 94.9L199.0 88.8L200.6 87.0L205.4 79.0L208.3 72.0L212.0 68.4L212.6 67.0L213.9 62.0L214.1 57.0L212.8 53.0L212.0 48.1ZM156.7 94.0L157.1 94.0L157.0 93.5ZM154.9 97.0L155.0 97.3L155.0 96.6Z" fill="#00dfff"/><path d="M-2.0 -1.0L221.0 -1.0L221.0 175.0L-3.0 175.0L-3.0 -1.0ZM211.8 47.0L211.2 53.0L212.0 57.0L211.0 61.6L209.0 65.3L204.0 67.7L202.6 69.0L196.7 77.0L193.5 83.0L188.0 88.8L181.0 88.1L174.0 88.4L172.0 88.1L171.0 83.0L168.0 80.7L166.0 80.5L161.0 81.5L159.7 83.0L159.0 84.0L159.1 88.0L158.2 91.0L156.4 94.0L157.0 94.3L159.3 92.0L161.1 88.0L161.4 85.0L162.0 84.4L166.0 85.3L168.4 91.0L169.0 91.5L173.0 93.1L188.0 95.3L189.0 95.4L191.0 94.5L199.0 89.0L200.8 87.0L204.5 81.0L208.6 72.0L212.4 68.0L214.0 62.0L214.2 57.0L212.9 53.0L212.0 46.7ZM155.7 95.0L156.2 95.0L156.0 94.5ZM154.8 97.0L155.0 97.6L155.0 96.2Z" fill="#00efff"/><path d="M-2.0 -1.0L221.0 -1.0L221.0 175.0L-3.0 175.0L-3.0 -1.0ZM211.6 47.0L211.1 54.0L211.8 57.0L211.0 61.1L209.0 64.9L208.0 65.8L203.0 68.1L195.8 77.0L193.0 82.5L188.0 88.1L187.0 88.4L180.0 87.6L173.0 88.0L172.0 87.0L171.8 84.0L171.0 82.3L168.0 80.3L166.0 80.3L161.0 81.4L159.5 83.0L158.9 84.0L159.0 88.0L158.1 91.0L155.5 95.0L156.0 95.5L159.4 92.0L161.3 88.0L161.6 85.0L162.0 84.6L165.0 84.9L166.0 85.5L168.2 91.0L169.0 91.7L173.0 93.3L188.0 95.5L190.0 95.3L199.3 89.0L201.7 86.0L205.3 80.0L208.8 72.0L212.6 68.0L214.2 62.0L214.4 57.0L213.0 53.0L212.4 47.0L212.0 46.5ZM154.9 96.0L154.7 97.0L155.0 97.8L155.4 97.0L155.0 95.8ZM153.8 100.0L154.0 100.5L154.0 99.3Z" fill="#00ffff"/><path d="M-2.0 -1.0L221.0 -1.0L221.0 175.0L-3.0 175.0L-3.0 -1.0ZM212.6 46.0L211.1 48.0L211.0 54.0L211.6 57.0L211.0 60.2L209.0 64.4L208.0 65.5L202.4 68.0L195.3 76.0L192.3 82.0L188.0 87.2L187.0 87.7L181.0 87.0L173.0 87.5L172.5 87.0L172.0 82.8L169.0 80.4L167.0 79.8L161.0 81.2L158.7 84.0L158.9 88.0L157.5 92.0L155.0 95.4L154.5 97.0L154.9 98.0L155.5 96.0L159.6 92.0L161.4 88.0L162.0 84.8L165.0 85.1L166.0 85.7L168.0 91.0L170.0 92.3L173.0 93.4L188.0 95.7L190.0 95.5L191.0 94.9L200.0 88.7L205.6 80.0L209.0 72.1L212.8 68.0L214.4 62.0L214.5 57.0L213.2 53.0L212.4 48.0L213.0 45.3ZM153.7 100.0L154.0 100.8L154.3 100.0L154.0 99.0ZM152.8 102.0L153.2 102.0L153.0 101.7Z" fill="#10ffef"/><path d="M-2.0 -1.0L221.0 -1.0L221.0 175.0L-3.0 175.0L-3.0 -1.0ZM212.9 45.0L210.9 48.0L210.8 54.0L211.4 57.0L210.5 61.0L209.0 63.9L208.0 65.3L202.0 67.8L194.5 75.0L192.4 78.0L191.4 81.0L187.0 86.9L181.0 86.1L173.0 87.1L172.5 82.0L169.4 80.0L167.0 79.4L161.0 81.0L158.6 84.0L158.7 88.0L158.0 90.6L155.0 95.0L154.5 98.0L155.0 98.4L155.8 96.0L159.7 92.0L161.6 88.0L162.0 85.0L165.0 85.3L166.0 86.0L167.8 91.0L170.0 92.5L173.0 93.6L188.0 95.9L190.0 95.7L191.0 95.2L200.0 89.0L205.8 80.0L209.0 72.5L212.9 68.0L214.5 62.0L214.6 57.0L213.3 53.0L212.5 48.0L213.3 46.0L213.0 44.8ZM153.9 99.0L153.6 100.0L154.0 101.0L154.5 100.0L154.0 98.6ZM152.7 102.0L153.0 102.4L153.3 102.0L153.0 101.5Z" fill="#20ffdf"/><path d="M-2.0 -1.0L221.0 -1.0L221.0 175.0L-3.0 175.0L-3.0 -1.0ZM212.7 45.0L210.7 48.0L210.6 54.0L211.2 57.0L211.0 58.3L210.0 61.7L208.0 64.9L202.2 67.0L191.5 75.0L190.2 77.0L189.5 80.0L187.0 85.1L182.0 84.4L174.0 86.5L173.5 86.0L173.8 82.0L173.3 81.0L172.0 80.2L168.0 79.0L161.0 80.8L158.4 84.0L158.6 88.0L158.0 90.1L157.2 92.0L154.9 95.0L153.4 101.0L154.2 101.0L156.1 96.0L159.9 92.0L161.5 89.0L162.0 85.9L163.0 85.2L165.7 86.0L167.6 91.0L169.0 92.2L173.0 93.8L188.0 96.1L191.0 95.4L200.4 89.0L206.7 79.0L209.0 73.0L212.7 69.0L213.4 67.0L214.7 62.0L214.8 57.0L212.8 49.0L212.7 48.0L213.4 46.0L213.0 44.4ZM152.5 102.0L153.0 102.6L153.5 102.0L153.0 101.2ZM151.8 103.0L152.0 103.6L152.4 103.0L152.0 102.7Z" fill="#30ffcf"/><path d="M-2.0 -1.0L221.0 -1.0L221.0 175.0L-3.0 175.0L-3.0 -1.0ZM213.0 44.0L210.5 48.0L210.4 54.0L211.0 57.0L210.0 61.1L208.0 64.3L207.0 65.0L202.0 66.4L194.0 70.6L188.1 72.0L186.0 73.0L184.5 76.0L182.0 77.6L179.3 82.0L175.0 85.3L174.7 85.0L175.0 83.8L177.0 79.0L176.0 78.3L168.0 78.3L161.0 80.5L158.3 84.0L158.4 88.0L158.0 89.6L157.0 92.0L154.7 95.0L153.0 101.0L151.6 103.0L152.0 104.0L154.3 101.0L156.2 96.0L160.1 92.0L161.7 89.0L162.3 86.0L163.0 85.4L165.4 86.0L167.4 91.0L169.0 92.5L173.0 94.0L188.0 96.3L191.0 95.7L200.7 89.0L206.5 80.0L209.3 73.0L213.4 68.0L214.8 62.0L214.9 57.0L213.0 49.6L212.8 48.0L213.6 46.0L213.0 44.0ZM151.0 117.0L151.0 122.1L151.0 116.3ZM149.0 126.0L149.0 127.2L149.0 126.0ZM147.9 130.0L148.0 130.7L148.0 129.7ZM143.8 154.0L144.0 154.5L144.0 153.5ZM142.9 157.0L143.0 157.4L143.0 156.7ZM141.9 160.0L142.0 160.4L142.0 159.8ZM140.9 164.0L141.0 164.5L141.0 163.4ZM140.0 168.0L140.0 168.9L140.0 167.9Z" fill="#40ffbf"/><path d="M-2.0 -1.0L221.0 -1.0L221.0 175.0L-3.0 175.0L-3.0 -1.0ZM213.9 41.0L214.0 42.3L214.0 40.1ZM212.8 44.0L210.4 48.0L210.2 54.0L210.7 57.0L209.7 61.0L207.7 64.0L206.0 64.9L195.0 68.1L186.0 68.6L180.5 70.0L178.0 71.3L172.0 76.3L161.0 80.2L158.5 83.0L158.1 84.0L158.3 88.0L157.4 91.0L154.6 95.0L153.0 100.7L151.1 104.0L152.0 104.8L154.4 101.0L156.4 96.0L160.3 92.0L162.0 89.0L163.0 85.7L165.0 86.0L167.2 91.0L169.0 92.7L173.0 94.2L188.0 96.6L190.0 96.4L192.0 95.4L201.0 89.1L206.8 80.0L209.7 73.0L213.0 69.3L213.6 68.0L214.9 63.0L215.1 57.0L213.1 49.0L213.0 48.0L213.7 46.0L213.6 44.0L213.0 43.5ZM151.0 107.0L151.0 122.3L151.0 106.9ZM149.8 124.0L150.0 124.3L150.0 123.1ZM148.9 126.0L149.0 127.6L149.0 125.6ZM147.8 130.0L148.0 131.2L148.0 129.3ZM147.0 141.0L147.0 143.6L147.0 140.5ZM145.9 146.0L146.0 147.7L146.0 145.7ZM144.9 150.0L145.0 151.6L145.0 149.7ZM143.7 154.0L144.0 154.8L144.0 153.2ZM142.8 157.0L143.0 157.8L143.0 156.4ZM141.8 160.0L142.0 160.9L142.0 159.5ZM141.0 163.0L141.0 164.9L141.0 162.9ZM139.9 168.0L140.0 169.3L140.0 167.4ZM139.0 171.0L139.0 172.4L139.0 171.0Z" fill="#50ffaf"/><path d="M-2.0 -1.0L221.0 -1.0L221.0 175.0L-3.0 175.0L-3.0 -1.0ZM213.6 40.0L213.6 42.0L210.2 48.0L209.9 54.0L210.4 57.0L210.0 59.0L209.0 61.5L207.0 64.1L197.0 66.0L186.0 65.9L180.0 67.3L176.0 69.6L169.2 76.0L161.0 80.0L159.7 81.0L157.9 84.0L158.1 88.0L157.3 91.0L154.5 95.0L153.0 100.4L150.9 104.0L150.6 122.0L151.0 122.6L151.4 121.0L151.5 110.0L152.3 104.0L154.6 101.0L156.6 96.0L160.5 92.0L162.3 89.0L163.0 85.9L165.0 86.4L167.6 92.0L170.0 93.3L173.0 94.5L188.0 96.8L190.0 96.7L192.0 95.7L197.0 92.6L201.5 89.0L206.6 81.0L210.0 73.0L213.5 69.0L214.6 65.0L215.2 62.0L215.3 57.0L213.9 53.0L213.1 48.0L213.9 46.0L214.0 39.8ZM149.9 123.0L149.6 124.0L150.0 124.6L150.0 122.8ZM148.8 126.0L149.0 128.0L149.3 126.0L149.0 125.2ZM148.0 129.0L147.7 130.0L148.0 131.6L148.4 130.0L148.0 128.9ZM147.0 138.0L146.6 143.0L147.0 144.0L147.3 142.0L147.0 137.3ZM145.8 146.0L146.0 148.1L146.3 147.0L146.0 145.2ZM144.8 150.0L145.0 152.0L145.3 151.0L145.0 149.3ZM144.0 153.0L143.6 154.0L144.0 155.1L144.4 154.0L144.0 152.9ZM142.6 157.0L143.0 158.2L143.4 157.0L143.0 156.0ZM141.7 160.0L142.0 161.3L142.4 160.0L142.0 159.2ZM140.9 163.0L141.0 165.4L141.4 164.0L141.0 162.4ZM140.0 167.0L140.0 169.6L140.3 168.0L140.0 167.0ZM138.9 171.0L139.0 172.7L139.0 170.6Z" fill="#60ff9f"/><path d="M-2.0 -1.0L221.0 -1.0L221.0 175.0L-3.0 175.0L-3.0 -1.0ZM211.4 39.0L212.0 39.3L212.5 39.0L212.0 38.7ZM213.2 40.0L213.3 42.0L212.1 45.0L210.0 48.0L209.6 54.0L209.9 58.0L208.9 61.0L207.0 63.3L205.0 64.1L198.0 64.5L186.0 63.7L179.0 65.4L174.8 68.0L167.3 76.0L164.5 78.0L161.0 79.6L158.7 82.0L157.7 84.0L157.9 88.0L157.1 91.0L154.3 95.0L153.0 100.1L150.7 104.0L150.6 121.0L148.6 126.0L148.6 128.0L149.0 128.4L149.4 125.0L150.0 124.8L151.5 122.0L152.5 104.0L154.7 101.0L156.7 96.0L160.1 93.0L162.6 89.0L163.1 87.0L164.0 86.4L165.0 86.8L167.3 92.0L172.0 94.5L189.0 97.1L191.0 96.6L196.0 93.7L201.0 90.0L202.7 88.0L207.6 80.0L210.0 73.8L213.8 69.0L215.3 63.0L215.5 57.0L214.1 53.0L213.4 48.0L214.1 46.0L214.4 41.0L214.0 39.7ZM147.8 129.0L147.5 131.0L148.0 132.0L148.5 130.0L148.0 128.5ZM147.0 134.0L146.5 143.0L147.0 144.5L147.5 142.0L147.0 133.9ZM145.9 145.0L145.5 147.0L146.0 148.5L146.5 146.0L146.0 144.8ZM145.0 149.0L144.5 151.0L145.0 152.3L145.5 150.0L145.0 148.9ZM143.8 153.0L143.5 154.0L144.0 155.4L144.5 154.0L144.0 152.6ZM142.9 156.0L142.5 157.0L143.0 158.5L143.5 157.0L143.0 155.7ZM141.9 159.0L141.6 161.0L142.0 161.6L142.5 160.0L142.0 158.8ZM141.0 162.0L140.5 164.0L141.0 165.9L141.5 164.0L141.0 162.0ZM139.9 167.0L139.5 169.0L140.0 169.9L140.5 168.0L140.0 166.5ZM138.7 171.0L138.5 172.0L139.0 173.0L139.4 171.0L139.0 170.3Z" fill="#70ff8f"/><path d="M-2.0 -1.0L221.0 -1.0L221.0 175.0L-3.0 175.0L-3.0 -1.0ZM209.8 37.0L210.0 38.3L210.5 38.0L210.0 36.6ZM211.1 39.0L212.8 40.0L213.3 41.0L212.0 44.8L209.8 48.0L209.5 58.0L208.2 61.0L206.2 63.0L205.0 63.4L201.0 63.4L187.0 61.8L184.0 62.0L179.0 63.4L176.0 64.9L173.4 67.0L165.9 76.0L160.0 79.9L157.8 83.0L157.7 88.0L157.0 90.8L154.7 94.0L152.9 100.0L150.6 104.0L150.4 121.0L148.8 125.0L146.9 132.0L146.3 144.0L144.2 152.0L140.9 162.0L138.2 173.0L139.1 173.0L140.5 169.0L141.6 163.0L145.3 152.0L147.5 143.0L148.1 132.0L149.7 126.0L151.6 122.0L152.4 105.0L152.6 104.0L154.8 101.0L156.9 96.0L160.4 93.0L164.0 86.8L165.0 87.5L166.9 92.0L169.0 93.5L174.0 95.2L188.0 97.4L190.0 97.3L192.0 96.5L201.6 90.0L207.5 81.0L210.4 74.0L213.6 70.0L215.6 63.0L215.7 57.0L214.4 53.0L213.6 48.0L214.3 46.0L214.5 40.0L214.0 39.5L213.0 39.5L212.0 38.6Z" fill="#80ff80"/><path d="M-2.0 -1.0L221.0 -1.0L221.0 175.0L-3.0 175.0L-3.0 -1.0ZM209.6 37.0L210.0 38.6L212.4 40.0L213.1 41.0L212.0 44.3L209.5 48.0L209.0 58.0L207.0 61.3L205.0 62.6L203.0 62.6L192.0 60.5L187.0 60.1L183.0 60.5L178.0 62.0L175.0 63.6L172.0 66.2L164.7 76.0L160.0 79.4L157.5 83.0L157.5 88.0L157.0 90.0L154.4 94.0L152.7 100.0L150.5 104.0L150.3 121.0L148.7 125.0L146.8 132.0L146.2 143.0L144.3 151.0L140.7 162.0L138.0 173.2L139.0 173.5L139.3 173.0L140.6 169.0L141.8 163.0L145.4 152.0L147.7 143.0L148.3 132.0L149.9 126.0L151.7 122.0L152.5 105.0L155.0 101.0L157.1 96.0L160.7 93.0L163.5 89.0L164.0 87.6L165.0 88.4L167.0 92.5L172.0 95.1L186.0 97.5L189.0 97.8L191.0 97.4L196.0 94.6L202.2 90.0L207.5 82.0L210.8 74.0L214.0 70.0L215.9 62.0L215.9 57.0L213.8 49.0L214.5 46.0L214.7 40.0L211.0 38.0L210.0 36.2Z" fill="#8fff70"/><path d="M-2.0 -1.0L221.0 -1.0L221.0 175.0L-3.0 175.0L-3.0 -1.0ZM209.7 36.0L209.4 38.0L212.9 41.0L211.9 44.0L209.2 48.0L208.4 54.0L208.5 57.0L207.0 60.1L205.0 61.4L203.0 61.6L193.0 59.1L187.0 58.4L182.0 59.0L177.0 60.7L174.0 62.5L171.0 65.1L168.0 68.9L164.3 75.0L160.0 78.8L157.7 82.0L157.1 84.0L157.2 88.0L156.8 90.0L154.2 94.0L152.5 100.0L150.3 104.0L150.2 121.0L148.5 125.0L146.7 132.0L146.1 143.0L144.1 151.0L140.6 162.0L137.7 173.0L138.0 173.6L139.0 173.7L140.4 170.0L142.0 163.0L145.5 152.0L147.8 143.0L148.4 132.0L150.0 126.1L152.0 121.0L152.7 105.0L155.2 101.0L157.4 96.0L161.0 93.1L164.0 89.1L165.0 89.4L167.1 93.0L172.0 95.4L188.0 98.1L192.0 97.3L198.0 93.8L202.8 90.0L208.6 81.0L211.4 74.0L214.5 70.0L216.2 62.0L216.2 57.0L214.0 49.0L214.7 46.0L214.9 40.0L211.0 37.7L210.0 35.7Z" fill="#9fff60"/><path d="M-2.0 -1.0L221.0 -1.0L221.0 175.0L-3.0 175.0L-3.0 -1.0ZM208.7 34.0L209.0 34.9L209.3 34.0L209.0 33.5ZM209.2 36.0L209.2 38.0L209.8 39.0L212.6 41.0L211.6 44.0L208.9 48.0L207.6 57.0L206.0 59.4L204.0 60.2L202.0 60.2L194.0 57.7L187.0 56.9L182.0 57.4L177.0 59.0L173.0 61.4L169.2 65.0L163.0 75.0L159.0 79.3L157.3 82.0L156.8 84.0L157.0 88.0L156.5 90.0L154.0 94.0L152.4 100.0L150.2 104.0L150.1 121.0L148.7 124.0L146.5 132.0L146.2 142.0L137.6 173.0L138.0 173.9L139.0 173.9L140.5 170.0L148.1 142.0L148.6 132.0L150.5 125.0L152.1 121.0L152.8 105.0L155.4 101.0L157.8 96.0L160.5 94.0L164.0 90.1L165.0 90.4L167.0 93.4L172.0 95.8L187.0 98.5L190.0 98.5L192.0 97.8L199.0 93.7L203.5 90.0L207.6 84.0L209.7 80.0L211.5 75.0L214.4 71.0L215.3 69.0L216.6 62.0L216.5 57.0L215.1 53.0L214.3 49.0L215.0 46.0L215.1 40.0L211.0 37.4L210.0 35.1Z" fill="#afff50"/><path d="M-2.0 -1.0L221.0 -1.0L221.0 175.0L-3.0 175.0L-3.0 -1.0ZM207.6 32.0L208.0 32.8L208.4 32.0L208.0 31.6ZM208.6 33.0L209.4 39.0L212.3 41.0L211.0 44.7L208.5 48.0L208.0 50.9L206.0 57.2L205.0 58.1L202.0 58.4L194.0 56.1L187.0 55.3L181.0 56.1L176.0 57.8L172.0 60.3L168.0 64.2L165.4 68.0L161.7 75.0L159.0 78.4L157.0 81.8L156.5 84.0L156.7 88.0L156.2 90.0L153.8 94.0L152.2 100.0L150.1 104.0L150.0 121.0L148.5 124.0L146.4 132.0L146.0 142.0L137.5 173.0L138.0 174.1L139.1 174.0L140.7 170.0L148.3 142.0L148.7 132.0L150.6 125.0L152.3 121.0L153.0 105.0L155.6 101.0L158.0 96.2L161.1 94.0L164.0 91.0L168.0 94.5L173.0 96.6L186.0 98.8L189.0 99.0L192.0 98.4L199.0 94.4L204.0 90.3L208.3 84.0L210.4 80.0L212.2 75.0L215.0 71.0L215.7 69.0L216.9 62.0L216.8 57.0L214.6 49.0L215.3 46.0L215.4 40.0L211.0 37.1L209.0 32.9Z" fill="#bfff40"/><path d="M-2.0 -1.0L221.0 -1.0L221.0 175.0L-3.0 175.0L-3.0 -1.0ZM205.7 29.0L206.0 29.3L206.0 28.8ZM206.8 30.0L208.5 35.0L209.0 39.0L212.0 41.0L211.0 44.1L208.4 47.0L207.0 51.7L205.0 54.8L204.0 55.5L202.0 55.8L192.0 54.0L185.0 53.8L179.0 55.1L174.0 57.2L170.0 60.1L166.0 64.6L156.5 82.0L156.0 90.0L153.5 94.0L152.0 100.0L149.9 104.0L149.8 121.0L148.4 124.0L146.2 132.0L145.9 142.0L137.3 173.0L138.0 174.3L139.3 174.0L140.5 171.0L148.5 142.0L148.8 132.0L150.8 125.0L152.5 121.0L153.2 105.0L155.3 102.0L158.0 96.6L164.0 91.9L168.0 95.0L174.0 97.3L188.0 99.6L190.0 99.5L193.0 98.6L200.0 94.5L204.3 91.0L209.7 83.0L213.0 75.2L215.7 71.0L217.3 62.0L217.1 57.0L214.9 49.0L215.6 46.0L215.6 40.0L214.8 39.0L211.2 37.0L210.0 34.0L207.0 29.9Z" fill="#cfff30"/><path d="M-2.0 -1.0L221.0 -1.0L221.0 175.0L-3.0 175.0L-3.0 -1.0ZM202.8 27.0L203.4 27.0L203.0 26.6ZM204.0 28.0L205.0 28.4L205.1 28.0L204.0 28.0ZM205.2 29.0L206.2 30.0L208.0 34.1L208.6 39.0L211.3 41.0L211.4 42.0L210.0 44.9L207.8 47.0L206.0 51.3L205.0 52.5L202.0 53.6L191.0 52.2L185.0 52.3L179.0 53.5L174.0 55.6L169.1 59.0L165.4 63.0L162.9 67.0L157.7 78.0L155.8 83.0L156.1 87.0L155.6 90.0L153.2 94.0L151.8 100.0L149.7 104.0L149.6 121.0L148.2 124.0L146.1 132.0L145.8 141.0L145.0 145.0L137.2 173.0L138.0 174.5L139.6 174.0L140.7 171.0L148.6 142.0L149.0 132.0L150.9 125.0L152.5 122.0L153.4 105.0L155.6 102.0L158.1 97.0L164.0 93.0L170.0 96.6L176.0 98.4L188.0 100.2L193.0 99.3L200.0 95.4L205.3 91.0L210.7 83.0L213.5 76.0L216.0 72.0L216.7 70.0L217.8 63.0L217.6 57.0L215.3 49.0L215.9 46.0L215.9 40.0L215.0 38.8L211.5 37.0L210.3 34.0L206.0 28.5Z" fill="#dfff20"/><path d="M-2.0 -1.0L221.0 -1.0L221.0 175.0L-3.0 175.0L-3.0 -1.0ZM202.7 25.0L202.3 27.0L205.7 30.0L207.6 34.0L208.2 39.0L211.1 42.0L210.0 44.2L207.9 46.0L205.0 50.1L203.0 51.3L201.0 51.5L192.0 50.5L186.0 50.5L181.0 51.3L176.0 52.9L171.0 55.7L167.0 59.0L163.0 64.0L160.5 69.0L155.5 82.0L155.6 87.0L155.2 90.0L153.0 94.0L151.5 100.0L149.5 104.0L149.4 121.0L148.1 124.0L145.9 132.0L145.6 141.0L145.0 144.3L137.0 173.0L137.2 174.0L138.0 174.6L139.0 174.7L139.8 174.0L140.5 172.0L148.6 143.0L149.2 132.0L151.2 125.0L152.7 122.0L153.7 105.0L155.9 102.0L158.6 97.0L164.0 94.1L165.0 94.2L167.0 95.8L171.0 97.7L178.0 99.6L188.0 100.9L193.0 100.1L200.0 96.4L205.7 92.0L211.2 84.0L214.2 77.0L216.4 73.0L217.4 70.0L218.4 63.0L218.1 57.0L215.7 49.0L216.4 46.0L216.2 40.0L215.0 38.4L211.9 37.0L210.6 34.0L207.0 29.1L203.1 26.0L203.3 25.0L203.0 24.6Z" fill="#efff10"/><path d="M-2.0 -1.0L221.0 -1.0L221.0 175.0L-3.0 175.0L-3.0 -1.0ZM204.8 21.0L205.0 21.8L205.0 20.5ZM203.6 23.0L201.8 26.0L201.9 27.0L205.8 31.0L207.5 35.0L208.0 39.8L210.4 42.0L209.0 44.5L204.0 48.6L202.0 49.2L191.0 48.6L186.0 48.8L180.0 49.9L174.0 52.2L169.0 55.3L165.0 59.0L162.0 63.0L159.3 68.0L155.1 81.0L154.8 90.0L152.6 94.0L151.2 100.0L149.5 103.0L149.2 121.0L147.8 124.0L145.7 132.0L145.0 143.5L136.8 173.0L137.0 174.0L138.0 174.8L139.0 174.8L140.4 173.0L148.8 143.0L149.4 132.0L151.4 125.0L152.9 122.0L153.9 105.0L156.3 102.0L159.0 97.3L162.0 95.8L165.0 95.2L171.0 98.6L179.0 100.7L188.0 101.8L191.0 101.6L194.0 100.7L202.0 96.3L207.1 92.0L212.6 84.0L217.1 74.0L218.3 70.0L219.1 63.0L218.7 57.0L216.2 49.0L216.8 46.0L216.6 40.0L215.0 38.1L212.0 36.5L210.4 33.0L207.3 29.0L203.4 26.0L204.5 23.0L204.0 22.4Z" fill="#ffff00"/><path d="M-2.0 -1.0L221.0 -1.0L221.0 175.0L139.1 175.0L140.3 174.0L141.6 170.0L149.2 142.0L149.7 132.0L151.7 125.0L153.2 122.0L154.2 105.0L156.8 102.0L159.0 98.2L161.0 96.9L165.0 96.3L171.0 99.6L178.0 101.5L188.0 102.8L193.0 102.3L201.0 98.4L207.0 94.0L211.8 88.0L215.1 82.0L218.8 73.0L220.0 64.0L219.5 57.0L216.9 49.0L217.4 46.0L217.0 45.0L216.9 40.0L216.0 38.3L212.1 36.0L210.8 33.0L207.8 29.0L203.8 26.0L205.6 21.0L205.0 19.1L204.0 21.8L201.4 26.0L201.4 27.0L205.3 31.0L207.1 35.0L207.3 40.0L208.0 41.1L209.3 42.0L209.0 43.4L207.0 45.1L202.0 47.0L186.0 47.1L180.0 48.2L174.0 50.4L169.0 53.4L164.8 57.0L160.8 62.0L158.2 67.0L156.4 72.0L154.3 81.0L154.4 89.0L152.6 93.0L151.0 99.8L149.2 103.0L149.0 121.0L147.6 124.0L145.5 132.0L145.0 142.6L136.6 173.0L136.8 174.0L138.0 175.0L-3.0 175.0L-3.0 -1.0Z" fill="#ffef00"/><path d="M-2.0 -1.0L221.0 -1.0L221.0 61.6L220.5 57.0L217.8 49.0L218.1 46.0L217.7 45.0L217.5 40.0L216.4 38.0L212.7 36.0L211.4 33.0L208.0 28.6L204.4 26.0L206.3 20.0L204.0 17.4L203.4 18.0L204.3 20.0L204.0 21.0L201.0 26.0L200.9 27.0L205.0 31.4L206.3 35.0L206.4 41.0L207.9 43.0L206.0 44.3L203.4 45.0L188.0 44.9L182.0 45.9L177.0 47.3L172.0 49.6L168.0 52.1L164.0 55.6L160.3 60.0L156.9 66.0L154.5 74.0L153.3 82.0L153.8 89.0L152.1 93.0L150.9 99.0L148.8 104.0L148.8 121.0L147.3 124.0L145.3 132.0L144.9 142.0L136.4 173.0L136.5 174.0L137.5 175.0L-3.0 175.0L-3.0 -1.0ZM221.0 67.4L221.0 175.0L139.6 175.0L140.5 174.0L141.8 170.0L149.5 142.0L149.9 132.0L151.9 125.0L153.5 122.0L154.0 111.1L155.0 104.6L160.0 98.3L162.0 97.7L165.0 97.7L171.0 100.7L176.0 102.3L186.0 103.9L193.0 103.6L200.0 100.7L208.0 95.2L213.9 88.0L216.1 84.0L219.4 76.0L220.5 72.0L221.0 68.0Z" fill="#ffdf00"/><path d="M-2.0 -1.0L221.0 -1.0L221.0 54.5L219.0 49.0L219.1 46.0L218.6 45.0L217.9 39.0L217.0 37.7L213.0 35.1L212.0 33.0L208.2 28.0L205.2 26.0L206.8 20.0L204.1 17.0L202.0 15.7L201.5 16.0L203.8 20.0L200.4 26.0L200.3 27.0L201.0 28.2L204.0 31.1L205.4 35.0L205.2 38.0L204.0 40.9L203.0 41.7L201.0 42.2L191.0 42.5L185.0 43.2L176.0 45.7L171.0 48.1L166.7 51.0L163.0 54.2L158.9 59.0L155.1 66.0L153.2 73.0L152.3 81.0L152.9 89.0L151.5 93.0L150.5 99.0L148.4 104.0L148.4 121.0L147.1 124.0L145.2 131.0L144.7 141.0L144.0 144.6L136.1 173.0L137.0 175.0L-3.0 175.0L-3.0 -1.0ZM221.0 77.6L221.0 175.0L140.1 175.0L140.8 174.0L142.4 169.0L144.0 162.0L147.3 152.0L149.5 143.0L150.2 132.0L152.0 125.6L153.8 122.0L155.2 105.0L160.0 99.8L162.0 98.9L165.0 99.3L174.0 103.2L184.0 105.3L192.0 105.5L198.0 103.6L206.0 99.3L212.2 94.0L216.4 88.0L220.9 78.0Z" fill="#ffcf00"/><path d="M-2.0 -1.0L221.0 -1.0L221.0 48.9L219.3 40.0L218.5 38.0L217.0 36.6L214.0 35.1L212.3 32.0L209.0 28.0L206.4 26.0L206.0 25.0L207.4 20.0L204.9 17.0L201.0 14.4L200.4 15.0L203.1 20.0L199.8 26.0L199.6 27.0L200.5 29.0L203.2 32.0L203.8 36.0L203.0 37.6L200.0 39.0L184.0 41.2L174.0 44.4L169.0 47.1L165.0 50.0L160.7 54.0L157.0 58.7L153.7 65.0L151.7 72.0L151.0 80.0L152.0 88.0L150.0 99.0L148.1 103.0L148.1 121.0L146.8 124.0L144.7 132.0L144.0 143.3L135.8 173.0L136.5 175.0L-3.0 175.0L-3.0 -1.0ZM221.0 85.3L221.0 175.0L140.5 175.0L142.5 170.0L144.0 163.0L147.6 152.0L149.9 143.0L150.4 133.0L152.0 126.7L154.1 122.0L155.0 109.2L155.9 105.0L160.0 101.4L163.0 100.7L166.0 101.4L173.0 104.6L181.0 106.7L190.0 107.7L196.0 106.8L204.0 103.5L212.0 98.3L216.6 93.0L220.7 86.0Z" fill="#ffbf00"/><path d="M-2.0 -1.0L221.0 -1.0L221.0 39.3L219.0 36.2L215.3 34.0L209.6 27.0L207.2 25.0L208.4 21.0L208.0 19.0L205.0 16.1L201.0 13.5L199.5 15.0L202.1 20.0L202.0 21.0L199.2 25.0L198.5 27.0L198.7 29.0L200.0 32.0L200.1 33.0L199.6 34.0L196.0 35.6L180.0 39.7L171.0 43.5L166.0 46.7L161.0 51.0L155.0 58.2L151.6 65.0L149.8 72.0L149.4 80.0L150.5 88.0L149.5 98.0L147.7 103.0L147.9 120.0L146.4 124.0L144.4 132.0L144.0 142.0L135.5 173.0L136.1 175.0L-3.0 175.0L-3.0 -1.0ZM221.0 94.1L221.0 175.0L141.0 175.0L142.8 170.0L150.3 143.0L150.9 132.0L152.7 126.0L154.6 122.0L155.7 109.0L156.3 106.0L157.0 105.1L160.0 103.3L163.0 103.0L173.0 106.8L180.0 108.8L188.0 110.3L194.0 110.5L202.0 108.4L212.0 103.8L216.0 100.4L220.4 95.0Z" fill="#ffaf00"/><path d="M-2.0 -1.0L221.0 -1.0L221.0 31.8L210.8 25.0L210.1 24.0L210.4 20.0L209.4 18.0L206.0 15.3L202.9 14.0L202.0 12.6L201.0 12.7L199.3 14.0L198.4 16.0L200.4 20.0L200.3 21.0L197.5 25.0L195.0 30.4L191.0 32.8L175.0 38.7L168.0 42.6L159.0 49.8L155.3 54.0L152.7 58.0L149.1 66.0L147.5 74.0L147.5 80.0L148.7 88.0L148.9 95.0L148.8 98.0L147.1 103.0L147.4 120.0L144.1 131.0L143.7 141.0L143.0 144.2L135.3 172.0L135.2 174.0L135.6 175.0L-3.0 175.0L-3.0 -1.0ZM158.0 105.9L160.0 105.4L163.0 105.6L179.0 111.7L193.0 115.4L212.0 114.3L216.0 111.7L221.0 107.4L221.0 175.0L141.6 175.0L143.3 170.0L145.0 162.6L148.5 152.0L150.8 143.0L151.2 133.0L153.0 126.4L155.1 122.0L156.0 112.0L157.0 107.6L157.9 106.0Z" fill="#ff9f00"/><path d="M-2.0 -1.0L209.2 -1.0L209.4 4.0L208.3 8.0L206.0 10.7L204.0 11.4L202.0 11.4L197.6 14.0L196.7 15.0L196.1 17.0L196.2 21.0L193.0 25.0L187.7 29.0L171.0 37.4L162.0 43.7L158.0 47.3L154.0 51.7L151.1 56.0L148.4 61.0L146.1 68.0L145.1 76.0L145.3 81.0L147.6 96.0L147.6 98.0L146.3 103.0L146.8 120.0L143.6 131.0L143.0 142.0L134.8 172.0L135.1 175.0L-3.0 175.0L-3.0 -1.0ZM159.0 108.8L161.0 108.3L163.4 109.0L177.0 115.3L183.9 119.0L188.8 123.0L193.6 130.0L195.3 135.0L195.7 141.0L193.4 175.0L142.2 175.0L151.4 143.0L152.0 132.1L153.9 126.0L155.6 123.0L157.0 112.8L158.0 110.0L158.8 109.0Z" fill="#ff8f00"/><path d="M-2.0 -1.0L205.2 -1.0L206.2 5.0L205.9 7.0L204.7 9.0L203.0 10.1L199.0 11.4L196.2 11.0L193.0 9.3L192.0 10.0L187.4 19.0L185.0 22.4L180.9 26.0L166.0 36.4L157.0 43.9L150.3 52.0L145.5 61.0L143.1 69.0L142.4 77.0L143.2 85.0L145.8 97.0L145.2 103.0L146.1 120.0L144.9 123.0L142.9 131.0L142.0 143.2L134.2 172.0L134.3 175.0L-3.0 175.0L-3.0 -1.0ZM160.0 113.8L162.0 113.6L165.0 114.9L173.9 121.0L177.7 125.0L179.9 130.0L180.8 135.0L180.9 142.0L178.5 175.0L143.0 175.0L149.7 153.0L152.3 143.0L153.0 132.0L155.0 126.0L156.8 123.0L158.0 116.8L159.7 114.0Z" fill="#ff8000"/><path d="M-2.0 -1.0L179.7 -1.0L177.7 12.0L176.3 16.0L174.3 20.0L168.8 27.0L156.0 39.2L150.0 46.1L144.5 55.0L140.6 65.0L139.4 72.0L139.2 80.0L140.2 87.0L143.0 98.0L144.5 111.0L144.9 120.0L141.8 131.0L141.0 143.1L133.2 172.0L133.4 175.0L-3.0 175.0L-3.0 -1.0ZM195.0 -1.0L203.7 -1.0L204.8 2.0L205.0 5.0L204.8 7.0L203.3 9.0L202.0 9.5L200.0 9.3L197.0 6.0L194.5 2.0L194.5 -1.0ZM161.0 123.8L163.0 124.3L165.3 127.0L167.0 131.0L167.8 135.0L167.8 147.0L165.7 175.0L144.4 175.0L153.8 144.0L155.0 131.6L157.0 126.9L160.5 124.0Z" fill="#ff7000"/><path d="M-2.0 -1.0L165.6 -1.0L164.0 11.0L161.5 19.0L157.7 26.0L147.0 41.2L142.3 49.0L138.3 58.0L135.8 67.0L134.8 76.0L135.3 85.0L136.7 92.0L141.0 108.0L142.6 119.0L140.0 131.0L139.6 141.0L131.8 172.0L131.9 175.0L-3.0 175.0L-3.0 -1.0ZM196.0 -0.4L196.1 -1.0L202.8 -1.0L203.9 2.0L204.2 5.0L203.9 7.0L203.0 8.2L201.0 7.7L198.8 6.0L196.7 3.0L195.9 0.0Z" fill="#ff6000"/><path d="M-2.0 -1.0L146.5 -1.0L145.0 14.0L143.2 24.0L140.9 32.0L132.4 55.0L130.3 63.0L129.1 71.0L128.6 79.0L129.1 88.0L133.9 114.0L134.5 123.0L133.6 140.0L128.2 171.0L128.1 175.0L-3.0 175.0L-3.0 -1.0ZM197.0 -0.4L197.2 -1.0L202.1 -1.0L203.6 4.0L203.6 6.0L203.0 7.4L201.0 6.6L199.3 5.0L197.3 2.0L196.9 0.0Z" fill="#ff5000"/><path d="M-2.0 -1.0L127.2 -1.0L124.0 34.2L123.0 40.9L118.4 60.0L116.6 73.0L116.3 85.0L117.8 105.0L117.5 117.0L113.1 175.0L-3.0 175.0L-3.0 -1.0ZM198.0 -1.0L201.5 -1.0L202.8 2.0L203.0 6.1L202.0 6.3L200.0 4.6L198.2 2.0L197.6 0.0Z" fill="#ff4000"/><path d="M-2.0 -1.0L92.0 -1.0L77.9 175.0L-3.0 175.0L-3.0 -1.0ZM199.0 -1.0L200.8 -1.0L201.5 0.0L202.7 4.0L202.0 5.6L200.0 3.6L198.4 1.0L198.2 0.0L198.8 -1.0Z" fill="#ff3000"/><path d="M199.0 -0.4L200.0 -1.0L201.1 0.0L202.2 3.0L202.0 4.8L199.5 2.0L198.7 0.0Z" fill="#ff2000"/><path d="M200.0 -0.6L201.6 2.0L201.3 3.0L201.0 3.2L200.1 2.0L199.2 0.0Z" fill="#ff1000"/><path d="M200.0 -0.3L200.3 0.0L200.0 0.9L199.6 0.0ZM201.0 1.4L201.0 2.5L200.6 2.0Z" fill="#ff0000"/></g><path d="M0.0 0.0L4.93 -1.34M10.8 0.0L15.68 -1.34M21.5 0.0L26.43 -1.34M32.2 0.0L37.18 -1.34M43.0 0.0L47.93 -1.34M53.8 0.0L58.68 -1.34M64.5 0.0L69.43 -1.34M75.2 0.0L80.18 -1.34M86.0 0.0L90.93 -1.34M96.8 0.0L101.68 -1.34M107.5 0.0L112.43 -1.34M118.2 0.0L123.18 -1.33M129.0 0.0L133.93 -1.33M139.8 0.0L144.68 -1.32M150.5 0.0L155.43 -1.30M161.2 0.0L166.18 -1.29M172.0 0.0L176.93 -1.27M182.8 0.0L187.68 -1.27M193.5 0.0L198.43 -1.27M0.0 10.8L4.93 9.49M10.8 10.8L15.68 9.49M21.5 10.8L26.43 9.49M32.2 10.8L37.18 9.49M43.0 10.8L47.93 9.49M53.8 10.8L58.68 9.49M64.5 10.8L69.43 9.49M75.2 10.8L80.18 9.49M86.0 10.8L90.93 9.49M96.8 10.8L101.68 9.49M107.5 10.8L112.43 9.50M118.2 10.8L123.18 9.50M129.0 10.8L133.93 9.52M139.8 10.8L144.68 9.55M150.5 10.8L155.43 9.59M161.2 10.8L166.18 9.63M172.0 10.8L176.93 9.66M182.8 10.8L187.68 9.68M193.5 10.8L198.43 9.67M0.0 21.7L4.93 20.32M10.8 21.7L15.68 20.32M21.5 21.7L26.43 20.32M32.2 21.7L37.18 20.32M43.0 21.7L47.93 20.32M53.8 21.7L58.68 20.32M64.5 21.7L69.43 20.32M75.2 21.7L80.18 20.32M86.0 21.7L90.93 20.32M96.8 21.7L101.68 20.33M107.5 21.7L112.43 20.33M118.2 21.7L123.18 20.35M129.0 21.7L133.93 20.39M139.8 21.7L144.68 20.45M150.5 21.7L155.43 20.54M161.2 21.7L166.18 20.64M172.0 21.7L176.93 20.72M182.8 21.7L187.68 20.76M193.5 21.7L198.43 20.73M0.0 32.5L4.93 31.15M10.8 32.5L15.68 31.15M21.5 32.5L26.43 31.15M32.2 32.5L37.18 31.15M43.0 32.5L47.93 31.15M53.8 32.5L58.68 31.15M64.5 32.5L69.43 31.15M75.2 32.5L80.18 31.15M86.0 32.5L90.93 31.15M96.8 32.5L101.68 31.16M107.5 32.5L112.43 31.17M118.2 32.5L123.18 31.21M129.0 32.5L133.93 31.28M139.8 32.5L144.68 31.41M150.5 32.5L155.43 31.58M161.2 32.5L166.18 31.78M172.0 32.5L176.93 31.94M182.8 32.5L187.68 32.01M193.5 32.5L198.43 31.97M204.2 32.5L208.41 29.83M0.0 43.3L4.93 41.98M10.8 43.3L15.68 41.98M21.5 43.3L26.43 41.98M32.2 43.3L37.18 41.98M43.0 43.3L47.93 41.98M53.8 43.3L58.68 41.98M64.5 43.3L69.43 41.98M75.2 43.3L80.18 41.98M86.0 43.3L90.93 41.99M96.8 43.3L101.68 41.99M107.5 43.3L112.43 42.02M118.2 43.3L123.18 42.08M129.0 43.3L133.93 42.21M139.8 43.3L144.68 42.42M150.5 43.3L155.43 42.72M161.2 43.3L166.19 43.06M172.0 43.3L176.94 43.34M182.8 43.3L187.70 43.47M193.5 43.3L198.44 43.39M204.2 43.3L209.19 43.13M0.0 54.1L4.93 52.81M10.8 54.1L15.68 52.81M21.5 54.1L26.43 52.81M32.2 54.1L37.18 52.81M43.0 54.1L47.93 52.81M53.8 54.1L58.68 52.81M64.5 54.1L69.43 52.81M75.2 54.1L80.18 52.81M86.0 54.1L90.93 52.82M96.8 54.1L101.68 52.83M107.5 54.1L112.43 52.87M118.2 54.1L123.18 52.96M129.0 54.1L133.93 53.15M139.8 54.1L144.68 53.47M150.5 54.1L155.44 53.91M161.2 54.1L166.20 54.41M172.0 54.1L176.97 54.83M182.8 54.1L187.73 55.02M193.5 54.1L198.48 54.90M204.2 54.1L209.21 54.52M0.0 65.0L4.93 63.64M10.8 65.0L15.68 63.64M21.5 65.0L26.43 63.64M32.2 65.0L37.18 63.64M43.0 65.0L47.93 63.64M53.8 65.0L58.68 63.64M64.5 65.0L69.43 63.64M75.2 65.0L80.18 63.64M86.0 65.0L90.93 63.65M96.8 65.0L101.68 63.67M107.5 65.0L112.43 63.72M118.2 65.0L123.18 63.83M129.0 65.0L133.93 64.07M139.8 65.0L144.68 64.48M150.5 65.0L155.44 65.05M161.2 65.0L166.23 65.70M172.0 65.0L177.01 66.25M182.8 65.0L187.78 66.50M193.5 65.0L198.52 66.34M204.2 65.0L209.23 65.85M0.0 75.8L4.93 74.47M10.8 75.8L15.68 74.47M21.5 75.8L26.43 74.47M32.2 75.8L37.18 74.47M43.0 75.8L47.93 74.47M53.8 75.8L58.68 74.47M64.5 75.8L69.43 74.47M75.2 75.8L80.18 74.47M86.0 75.8L90.93 74.48M96.8 75.8L101.68 74.50M107.5 75.8L112.43 74.55M118.2 75.8L123.18 74.69M129.0 75.8L133.93 74.95M139.8 75.8L144.68 75.41M150.5 75.8L155.45 76.04M161.2 75.8L166.24 76.76M172.0 75.8L177.04 77.37M182.8 75.8L187.81 77.65M193.5 75.8L198.54 77.48M0.0 86.6L4.93 85.30M10.8 86.6L15.68 85.30M21.5 86.6L26.43 85.30M32.2 86.6L37.18 85.30M43.0 86.6L47.93 85.30M53.8 86.6L58.68 85.30M64.5 86.6L69.43 85.30M75.2 86.6L80.18 85.30M86.0 86.6L90.93 85.31M96.8 86.6L101.68 85.33M107.5 86.6L112.43 85.38M118.2 86.6L123.18 85.51M129.0 86.6L133.93 85.76M139.8 86.6L144.68 86.20M150.5 86.6L155.45 86.81M161.2 86.6L166.23 87.50M172.0 86.6L177.03 88.09M182.8 86.6L187.80 88.35M193.5 86.6L198.53 88.18M0.0 97.5L4.93 96.13M10.8 97.5L15.68 96.13M21.5 97.5L26.43 96.13M32.2 97.5L37.18 96.13M43.0 97.5L47.93 96.13M53.8 97.5L58.68 96.13M64.5 97.5L69.43 96.13M75.2 97.5L80.18 96.13M86.0 97.5L90.93 96.14M96.8 97.5L101.68 96.15M107.5 97.5L112.43 96.20M118.2 97.5L123.18 96.30M129.0 97.5L133.93 96.52M139.8 97.5L144.68 96.88M150.5 97.5L155.44 97.38M0.0 108.3L4.93 106.96M10.8 108.3L15.68 106.96M21.5 108.3L26.43 106.96M32.2 108.3L37.18 106.96M43.0 108.3L47.93 106.96M53.8 108.3L58.68 106.96M64.5 108.3L69.43 106.96M75.2 108.3L80.18 106.96M86.0 108.3L90.93 106.97M96.8 108.3L101.68 106.98M107.5 108.3L112.43 107.01M118.2 108.3L123.18 107.08M129.0 108.3L133.93 107.24M139.8 108.3L144.68 107.50M0.0 119.1L4.93 117.79M10.8 119.1L15.68 117.79M21.5 119.1L26.43 117.79M32.2 119.1L37.18 117.79M43.0 119.1L47.93 117.79M53.8 119.1L58.68 117.79M64.5 119.1L69.43 117.79M75.2 119.1L80.18 117.79M86.0 119.1L90.93 117.79M96.8 119.1L101.68 117.80M107.5 119.1L112.43 117.82M118.2 119.1L123.18 117.87M129.0 119.1L133.93 117.96M139.8 119.1L144.68 118.12M150.5 119.1L155.43 118.35M0.0 130.0L4.93 128.62M10.8 130.0L15.68 128.62M21.5 130.0L26.43 128.62M32.2 130.0L37.18 128.62M43.0 130.0L47.93 128.62M53.8 130.0L58.68 128.62M64.5 130.0L69.43 128.62M75.2 130.0L80.18 128.62M86.0 130.0L90.93 128.62M96.8 130.0L101.68 128.63M107.5 130.0L112.43 128.64M118.2 130.0L123.18 128.66M129.0 130.0L133.93 128.71M139.8 130.0L144.68 128.80M0.0 140.8L4.93 139.45M10.8 140.8L15.68 139.45M21.5 140.8L26.43 139.45M32.2 140.8L37.18 139.45M43.0 140.8L47.93 139.45M53.8 140.8L58.68 139.45M64.5 140.8L69.43 139.45M75.2 140.8L80.18 139.45M86.0 140.8L90.93 139.45M96.8 140.8L101.68 139.45M107.5 140.8L112.43 139.46M118.2 140.8L123.18 139.47M129.0 140.8L133.93 139.49M139.8 140.8L144.68 139.53M0.0 151.6L4.93 150.28M10.8 151.6L15.68 150.28M21.5 151.6L26.43 150.28M32.2 151.6L37.18 150.28M43.0 151.6L47.93 150.28M53.8 151.6L58.68 150.28M64.5 151.6L69.43 150.28M75.2 151.6L80.18 150.28M86.0 151.6L90.93 150.28M96.8 151.6L101.68 150.28M107.5 151.6L112.43 150.28M118.2 151.6L123.18 150.29M129.0 151.6L133.93 150.30M139.8 151.6L144.68 150.31M0.0 162.4L4.93 161.11M10.8 162.4L15.68 161.11M21.5 162.4L26.43 161.11M32.2 162.4L37.18 161.11M43.0 162.4L47.93 161.11M53.8 162.4L58.68 161.11M64.5 162.4L69.43 161.11M75.2 162.4L80.18 161.11M86.0 162.4L90.93 161.11M96.8 162.4L101.68 161.11M107.5 162.4L112.43 161.11M118.2 162.4L123.18 161.11M129.0 162.4L133.93 161.12M139.8 162.4L144.68 161.12M0.0 173.3L4.93 171.94M10.8 173.3L15.68 171.94M21.5 173.3L26.43 171.94M32.2 173.3L37.18 171.94M43.0 173.3L47.93 171.94M53.8 173.3L58.68 171.94M64.5 173.3L69.43 171.94M75.2 173.3L80.18 171.94M86.0 173.3L90.93 171.94M96.8 173.3L101.68 171.94M107.5 173.3L112.43 171.94M118.2 173.3L123.18 171.94M129.0 173.3L133.93 171.94" stroke="#1a0000" stroke-width="1.1" stroke-linecap="round" opacity="0.64" fill="none"/><path d="M5.90 -1.60L3.74 -0.03L3.24 -1.86ZM16.65 -1.60L14.49 -0.03L13.99 -1.86ZM27.40 -1.60L25.24 -0.03L24.74 -1.86ZM38.15 -1.60L35.99 -0.03L35.49 -1.86ZM48.90 -1.60L46.74 -0.03L46.24 -1.86ZM59.65 -1.60L57.49 -0.03L56.99 -1.86ZM70.40 -1.60L68.24 -0.03L67.74 -1.86ZM81.15 -1.60L78.99 -0.03L78.49 -1.86ZM91.90 -1.60L89.74 -0.03L89.24 -1.86ZM102.65 -1.60L100.49 -0.03L99.99 -1.86ZM113.40 -1.60L111.24 -0.03L110.74 -1.86ZM124.15 -1.59L121.98 -0.03L121.49 -1.86ZM134.90 -1.59L132.73 -0.02L132.24 -1.86ZM145.65 -1.58L143.48 -0.01L142.99 -1.85ZM156.40 -1.56L154.23 -0.00L153.74 -1.84ZM167.15 -1.54L164.97 0.01L164.49 -1.83ZM177.90 -1.52L175.72 0.02L175.24 -1.82ZM188.65 -1.52L186.47 0.03L185.99 -1.81ZM199.40 -1.52L197.22 0.02L196.74 -1.82ZM5.90 9.23L3.74 10.80L3.24 8.97ZM16.65 9.23L14.49 10.80L13.99 8.97ZM27.40 9.23L25.24 10.80L24.74 8.97ZM38.15 9.23L35.99 10.80L35.49 8.97ZM48.90 9.23L46.74 10.80L46.24 8.97ZM59.65 9.23L57.49 10.80L56.99 8.97ZM70.40 9.23L68.24 10.80L67.74 8.97ZM81.15 9.23L78.99 10.80L78.49 8.97ZM91.90 9.23L89.74 10.80L89.24 8.97ZM102.65 9.23L100.49 10.80L99.99 8.97ZM113.40 9.24L111.23 10.80L110.74 8.97ZM124.15 9.24L121.98 10.81L121.49 8.98ZM134.90 9.26L132.73 10.82L132.24 8.99ZM145.65 9.30L143.47 10.84L142.99 9.01ZM156.40 9.34L154.21 10.87L153.75 9.03ZM167.15 9.39L164.95 10.91L164.50 9.06ZM177.91 9.43L175.69 10.93L175.25 9.08ZM188.66 9.45L186.44 10.95L186.01 9.10ZM199.41 9.44L197.19 10.94L196.75 9.09ZM5.90 20.06L3.74 21.63L3.24 19.80ZM16.65 20.06L14.49 21.63L13.99 19.80ZM27.40 20.06L25.24 21.63L24.74 19.80ZM38.15 20.06L35.99 21.63L35.49 19.80ZM48.90 20.06L46.74 21.63L46.24 19.80ZM59.65 20.06L57.49 21.63L56.99 19.80ZM70.40 20.06L68.24 21.63L67.74 19.80ZM81.15 20.06L78.99 21.63L78.49 19.80ZM91.90 20.06L89.74 21.63L89.24 19.80ZM102.65 20.06L100.48 21.63L99.99 19.80ZM113.40 20.07L111.23 21.64L110.74 19.81ZM124.15 20.09L121.98 21.65L121.49 19.82ZM134.90 20.14L132.72 21.68L132.24 19.84ZM145.65 20.21L143.45 21.73L143.00 19.88ZM156.41 20.32L154.18 21.80L153.76 19.94ZM167.16 20.43L164.91 21.87L164.52 20.01ZM177.91 20.53L175.63 21.93L175.28 20.07ZM188.66 20.57L186.38 21.96L186.03 20.09ZM199.41 20.55L197.13 21.94L196.78 20.08ZM5.90 30.89L3.74 32.46L3.24 30.63ZM16.65 30.89L14.49 32.46L13.99 30.63ZM27.40 30.89L25.24 32.46L24.74 30.63ZM38.15 30.89L35.99 32.46L35.49 30.63ZM48.90 30.89L46.74 32.46L46.24 30.63ZM59.65 30.89L57.49 32.46L56.99 30.63ZM70.40 30.89L68.24 32.46L67.74 30.63ZM81.15 30.89L78.99 32.46L78.49 30.63ZM91.90 30.89L89.74 32.46L89.24 30.63ZM102.65 30.90L100.48 32.47L99.99 30.63ZM113.40 30.92L111.23 32.48L110.74 30.64ZM124.15 30.96L121.97 32.51L121.49 30.67ZM134.90 31.05L132.70 32.56L132.25 30.72ZM145.66 31.19L143.42 32.66L143.01 30.80ZM156.41 31.40L154.13 32.79L153.78 30.92ZM167.17 31.64L164.83 32.93L164.56 31.05ZM177.92 31.83L175.55 33.05L175.34 31.16ZM188.68 31.92L186.28 33.10L186.10 31.21ZM199.43 31.86L197.04 33.07L196.84 31.18ZM209.25 29.29L207.66 31.44L206.63 29.84ZM5.90 41.72L3.74 43.29L3.24 41.46ZM16.65 41.72L14.49 43.29L13.99 41.46ZM27.40 41.72L25.24 43.29L24.74 41.46ZM38.15 41.72L35.99 43.29L35.49 41.46ZM48.90 41.72L46.74 43.29L46.24 41.46ZM59.65 41.72L57.49 43.29L56.99 41.46ZM70.40 41.72L68.24 43.29L67.74 41.46ZM81.15 41.72L78.99 43.29L78.49 41.46ZM91.90 41.72L89.73 43.29L89.24 41.46ZM102.65 41.74L100.48 43.30L99.99 41.47ZM113.40 41.77L111.23 43.32L110.74 41.48ZM124.15 41.84L121.96 43.37L121.50 41.53ZM134.91 41.99L132.68 43.46L132.26 41.61ZM145.66 42.24L143.37 43.63L143.03 41.76ZM156.42 42.60L154.06 43.85L153.83 41.96ZM167.18 43.01L164.74 44.09L164.64 42.19ZM177.94 43.34L175.44 44.28L175.45 42.38ZM188.70 43.49L186.17 44.37L186.23 42.47ZM199.44 43.40L196.93 44.32L196.96 42.42ZM210.19 43.09L207.72 44.14L207.65 42.24ZM5.90 52.55L3.74 54.12L3.24 52.29ZM16.65 52.55L14.49 54.12L13.99 52.29ZM27.40 52.55L25.24 54.12L24.74 52.29ZM38.15 52.55L35.99 54.12L35.49 52.29ZM48.90 52.55L46.74 54.12L46.24 52.29ZM59.65 52.55L57.49 54.12L56.99 52.29ZM70.40 52.55L68.24 54.12L67.74 52.29ZM81.15 52.55L78.99 54.12L78.49 52.29ZM91.90 52.56L89.73 54.13L89.24 52.29ZM102.65 52.57L100.48 54.14L99.99 52.30ZM113.40 52.62L111.22 54.17L110.74 52.33ZM124.15 52.73L121.95 54.24L121.50 52.39ZM134.91 52.95L132.65 54.38L132.27 52.52ZM145.67 53.33L143.32 54.61L143.06 52.73ZM156.43 53.86L153.98 54.93L153.89 53.03ZM167.20 54.47L164.65 55.28L164.75 53.38ZM177.96 54.97L175.36 55.57L175.62 53.69ZM188.72 55.19L186.09 55.70L186.42 53.83ZM199.47 55.05L196.85 55.62L197.14 53.74ZM210.20 54.60L207.64 55.36L207.78 53.46ZM5.90 63.38L3.74 64.95L3.24 63.12ZM16.65 63.38L14.49 64.95L13.99 63.12ZM27.40 63.38L25.24 64.95L24.74 63.12ZM38.15 63.38L35.99 64.95L35.49 63.12ZM48.90 63.38L46.74 64.95L46.24 63.12ZM59.65 63.38L57.49 64.95L56.99 63.12ZM70.40 63.38L68.24 64.95L67.74 63.12ZM81.15 63.38L78.99 64.95L78.49 63.12ZM91.90 63.39L89.73 64.96L89.24 63.12ZM102.65 63.41L100.48 64.97L99.99 63.13ZM113.40 63.47L111.22 65.01L110.74 63.17ZM124.16 63.61L121.94 65.10L121.51 63.25ZM134.91 63.89L132.63 65.28L132.28 63.41ZM145.68 64.38L143.28 65.58L143.09 63.69ZM156.44 65.07L153.93 65.98L153.96 64.08ZM167.21 65.85L164.60 66.43L164.88 64.55ZM177.98 66.49L175.33 66.80L175.79 64.96ZM188.74 66.78L186.07 66.97L186.62 65.15ZM199.48 66.60L196.82 66.86L197.32 65.03ZM210.22 66.02L207.59 66.52L207.92 64.65ZM5.90 74.21L3.74 75.78L3.24 73.95ZM16.65 74.21L14.49 75.78L13.99 73.95ZM27.40 74.21L25.24 75.78L24.74 73.95ZM38.15 74.21L35.99 75.78L35.49 73.95ZM48.90 74.21L46.74 75.78L46.24 73.95ZM59.65 74.21L57.49 75.78L56.99 73.95ZM70.40 74.21L68.24 75.78L67.74 73.95ZM81.15 74.21L78.99 75.78L78.49 73.95ZM91.90 74.22L89.73 75.79L89.24 73.95ZM102.65 74.24L100.48 75.80L99.99 73.97ZM113.40 74.31L111.21 75.84L110.75 74.00ZM124.16 74.46L121.93 75.95L121.51 74.09ZM134.92 74.78L132.61 76.15L132.29 74.27ZM145.68 75.32L143.27 76.47L143.11 74.58ZM156.45 76.09L153.91 76.92L154.00 75.02ZM167.22 76.95L164.59 77.41L164.94 75.55ZM177.99 77.67L175.32 77.84L175.89 76.02ZM188.75 77.99L186.08 78.03L186.73 76.25ZM199.49 77.79L196.82 77.91L197.42 76.10ZM5.90 85.04L3.74 86.61L3.24 84.78ZM16.65 85.04L14.49 86.61L13.99 84.78ZM27.40 85.04L25.24 86.61L24.74 84.78ZM38.15 85.04L35.99 86.61L35.49 84.78ZM48.90 85.04L46.74 86.61L46.24 84.78ZM59.65 85.04L57.49 86.61L56.99 84.78ZM70.40 85.04L68.24 86.61L67.74 84.78ZM81.15 85.04L78.99 86.61L78.49 84.78ZM91.90 85.05L89.73 86.62L89.24 84.78ZM102.65 85.07L100.48 86.63L99.99 84.80ZM113.40 85.13L111.22 86.67L110.75 84.83ZM124.16 85.28L121.93 86.77L121.51 84.92ZM134.91 85.59L132.62 86.96L132.29 85.09ZM145.68 86.11L143.27 87.28L143.10 85.39ZM156.45 86.84L153.92 87.71L153.98 85.81ZM167.22 87.67L164.59 88.18L164.92 86.31ZM177.99 88.36L175.32 88.58L175.85 86.76ZM188.75 88.67L186.07 88.77L186.68 86.97ZM199.49 88.48L196.82 88.65L197.38 86.83ZM5.90 95.87L3.74 97.44L3.24 95.61ZM16.65 95.87L14.49 97.44L13.99 95.61ZM27.40 95.87L25.24 97.44L24.74 95.61ZM38.15 95.87L35.99 97.44L35.49 95.61ZM48.90 95.87L46.74 97.44L46.24 95.61ZM59.65 95.87L57.49 97.44L56.99 95.61ZM70.40 95.87L68.24 97.44L67.74 95.61ZM81.15 95.87L78.99 97.44L78.49 95.61ZM91.90 95.88L89.73 97.45L89.24 95.61ZM102.65 95.90L100.48 97.46L99.99 95.62ZM113.40 95.95L111.22 97.49L110.74 95.65ZM124.16 96.07L121.94 97.57L121.50 95.72ZM134.91 96.32L132.64 97.73L132.28 95.87ZM145.67 96.76L143.30 98.00L143.08 96.11ZM156.44 97.36L153.96 98.36L153.92 96.46ZM5.90 106.70L3.74 108.27L3.24 106.44ZM16.65 106.70L14.49 108.27L13.99 106.44ZM27.40 106.70L25.24 108.27L24.74 106.44ZM38.15 106.70L35.99 108.27L35.49 106.44ZM48.90 106.70L46.74 108.27L46.24 106.44ZM59.65 106.70L57.49 108.27L56.99 106.44ZM70.40 106.70L68.24 108.27L67.74 106.44ZM81.15 106.70L78.99 108.27L78.49 106.44ZM91.90 106.71L89.73 108.27L89.24 106.44ZM102.65 106.72L100.48 108.28L99.99 106.45ZM113.40 106.76L111.22 108.31L110.74 106.47ZM124.15 106.84L121.95 108.37L121.50 106.52ZM134.91 107.03L132.67 108.48L132.26 106.62ZM145.67 107.33L143.35 108.67L143.05 106.80ZM5.90 117.53L3.74 119.10L3.24 117.27ZM16.65 117.53L14.49 119.10L13.99 117.27ZM27.40 117.53L25.24 119.10L24.74 117.27ZM38.15 117.53L35.99 119.10L35.49 117.27ZM48.90 117.53L46.74 119.10L46.24 117.27ZM59.65 117.53L57.49 119.10L56.99 117.27ZM70.40 117.53L68.24 119.10L67.74 117.27ZM81.15 117.53L78.99 119.10L78.49 117.27ZM91.90 117.53L89.74 119.10L89.24 117.27ZM102.65 117.54L100.48 119.11L99.99 117.27ZM113.40 117.56L111.23 119.12L110.74 117.29ZM124.15 117.62L121.97 119.16L121.49 117.32ZM134.91 117.73L132.69 119.23L132.25 117.38ZM145.66 117.92L143.40 119.35L143.02 117.49ZM156.42 118.19L154.10 119.52L153.80 117.64ZM5.90 128.36L3.74 129.93L3.24 128.10ZM16.65 128.36L14.49 129.93L13.99 128.10ZM27.40 128.36L25.24 129.93L24.74 128.10ZM38.15 128.36L35.99 129.93L35.49 128.10ZM48.90 128.36L46.74 129.93L46.24 128.10ZM59.65 128.36L57.49 129.93L56.99 128.10ZM70.40 128.36L68.24 129.93L67.74 128.10ZM81.15 128.36L78.99 129.93L78.49 128.10ZM91.90 128.36L89.74 129.93L89.24 128.10ZM102.65 128.37L100.48 129.94L99.99 128.10ZM113.40 128.38L111.23 129.94L110.74 128.11ZM124.15 128.41L121.98 129.96L121.49 128.12ZM134.90 128.47L132.71 130.00L132.25 128.16ZM145.66 128.57L143.44 130.07L143.00 128.22ZM5.90 139.19L3.74 140.76L3.24 138.93ZM16.65 139.19L14.49 140.76L13.99 138.93ZM27.40 139.19L25.24 140.76L24.74 138.93ZM38.15 139.19L35.99 140.76L35.49 138.93ZM48.90 139.19L46.74 140.76L46.24 138.93ZM59.65 139.19L57.49 140.76L56.99 138.93ZM70.40 139.19L68.24 140.76L67.74 138.93ZM81.15 139.19L78.99 140.76L78.49 138.93ZM91.90 139.19L89.74 140.76L89.24 138.93ZM102.65 139.19L100.49 140.76L99.99 138.93ZM113.40 139.20L111.23 140.77L110.74 138.93ZM124.15 139.21L121.98 140.78L121.49 138.94ZM134.90 139.24L132.72 140.79L132.24 138.96ZM145.65 139.29L143.46 140.82L143.00 138.98ZM5.90 150.02L3.74 151.59L3.24 149.76ZM16.65 150.02L14.49 151.59L13.99 149.76ZM27.40 150.02L25.24 151.59L24.74 149.76ZM38.15 150.02L35.99 151.59L35.49 149.76ZM48.90 150.02L46.74 151.59L46.24 149.76ZM59.65 150.02L57.49 151.59L56.99 149.76ZM70.40 150.02L68.24 151.59L67.74 149.76ZM81.15 150.02L78.99 151.59L78.49 149.76ZM91.90 150.02L89.74 151.59L89.24 149.76ZM102.65 150.02L100.49 151.59L99.99 149.76ZM113.40 150.02L111.24 151.59L110.74 149.76ZM124.15 150.03L121.98 151.60L121.49 149.76ZM134.90 150.04L132.73 151.60L132.24 149.77ZM145.65 150.06L143.48 151.62L142.99 149.78ZM5.90 160.85L3.74 162.42L3.24 160.59ZM16.65 160.85L14.49 162.42L13.99 160.59ZM27.40 160.85L25.24 162.42L24.74 160.59ZM38.15 160.85L35.99 162.42L35.49 160.59ZM48.90 160.85L46.74 162.42L46.24 160.59ZM59.65 160.85L57.49 162.42L56.99 160.59ZM70.40 160.85L68.24 162.42L67.74 160.59ZM81.15 160.85L78.99 162.42L78.49 160.59ZM91.90 160.85L89.74 162.42L89.24 160.59ZM102.65 160.85L100.49 162.42L99.99 160.59ZM113.40 160.85L111.24 162.42L110.74 160.59ZM124.15 160.85L121.99 162.42L121.49 160.59ZM134.90 160.86L132.73 162.43L132.24 160.59ZM145.65 160.86L143.48 162.43L142.99 160.60ZM5.90 171.68L3.74 173.25L3.24 171.42ZM16.65 171.68L14.49 173.25L13.99 171.42ZM27.40 171.68L25.24 173.25L24.74 171.42ZM38.15 171.68L35.99 173.25L35.49 171.42ZM48.90 171.68L46.74 173.25L46.24 171.42ZM59.65 171.68L57.49 173.25L56.99 171.42ZM70.40 171.68L68.24 173.25L67.74 171.42ZM81.15 171.68L78.99 173.25L78.49 171.42ZM91.90 171.68L89.74 173.25L89.24 171.42ZM102.65 171.68L100.49 173.25L99.99 171.42ZM113.40 171.68L111.24 173.25L110.74 171.42ZM124.15 171.68L121.99 173.25L121.49 171.42ZM134.90 171.68L132.74 173.25L132.24 171.42Z" fill="#1a0000" stroke="#1a0000" stroke-width="0.5" stroke-linejoin="round" opacity="0.76"/><circle cx="184.00" cy="70.20" r="4.6" fill="#f00" stroke="#000" stroke-width="1.4"/></g></g>
<rect x="403.1" y="75.9" width="241.20" height="184.50" fill="none" stroke="#555" stroke-width="1.1"/>
<text x="464.1" y="64.0" font-size="15.4" fill="#111" textLength="122" lengthAdjust="spacingAndGlyphs">20110909_211000</text>
<rect x="97.5" y="332.9" width="239.20" height="183.40" fill="#fff"/>
<path d="M140.5 332.9v2.5M140.5 516.3v-2.5M184.1 332.9v2.5M184.1 516.3v-2.5M227.8 332.9v2.5M227.8 516.3v-2.5M271.4 332.9v2.5M271.4 516.3v-2.5M315.1 332.9v2.5M315.1 516.3v-2.5M97.5 350.8h2.5M336.7 350.8h-2.5M97.5 394.7h2.5M336.7 394.7h-2.5M97.5 438.6h2.5M336.7 438.6h-2.5M97.5 482.5h2.5M336.7 482.5h-2.5" stroke="#333" stroke-width="1" fill="none"/>
<g clip-path="url(#ax2)"><g transform="translate(98.1 340.3) scale(1.00000 1.00554)"><g clip-path="url(#sea)"><rect x="-5" y="-2" width="230" height="177.3" fill="#00008f"/><path d="M-2.0 -1.0L221.0 -1.0L221.0 175.0L-3.0 175.0L-3.0 -1.0ZM205.6 71.0L206.0 71.7L206.3 71.0L206.0 70.1ZM204.9 72.0L197.2 86.0L194.7 88.0L195.0 88.4L198.0 86.4L201.5 81.0L205.5 73.0L205.0 71.9ZM193.6 89.0L194.0 89.3L194.5 89.0L194.0 88.6ZM192.6 90.0L193.4 90.0L193.0 89.6Z" fill="#00009f"/><path d="M-2.0 -1.0L221.0 -1.0L221.0 175.0L-3.0 175.0L-3.0 -1.0ZM207.2 69.0L205.6 70.0L197.0 85.3L190.8 91.0L191.0 91.7L196.0 88.5L198.7 86.0L204.2 77.0L206.7 71.0L208.6 69.0L208.0 68.5ZM179.9 92.0L183.4 92.0L180.0 91.9ZM189.6 92.0L190.0 92.4L190.8 92.0L190.0 91.6ZM186.4 93.0L189.4 93.0L189.0 92.6L187.0 92.8Z" fill="#0000af"/><path d="M-2.0 -1.0L221.0 -1.0L221.0 175.0L-3.0 175.0L-3.0 -1.0ZM210.8 66.0L210.3 67.0L211.0 67.3L211.0 65.6ZM208.2 68.0L205.1 70.0L196.6 85.0L189.0 92.0L188.0 92.2L181.0 91.3L179.0 91.4L178.1 92.0L189.0 93.6L198.0 87.4L204.6 77.0L207.0 71.0L210.4 68.0L210.0 67.2L209.0 67.6Z" fill="#0000bf"/><path d="M-2.0 -1.0L221.0 -1.0L221.0 175.0L-3.0 175.0L-3.0 -1.0ZM212.9 59.0L213.0 61.0L213.0 58.5ZM211.8 63.0L210.0 66.4L205.3 69.0L204.4 70.0L196.0 85.0L189.0 91.3L188.0 91.7L178.0 90.6L171.8 91.0L180.0 92.7L189.0 93.9L194.0 90.8L198.9 87.0L201.6 83.0L204.5 78.0L207.6 71.0L211.6 67.0L212.4 64.0L212.0 62.6ZM168.9 87.0L169.0 87.7L169.0 86.2Z" fill="#0000cf"/><path d="M-2.0 -1.0L221.0 -1.0L221.0 175.0L-3.0 175.0L-3.0 -1.0ZM212.8 56.0L212.1 61.0L209.7 66.0L204.4 69.0L195.7 84.0L189.0 90.5L188.0 91.1L182.0 90.2L174.0 90.2L171.0 89.7L170.1 89.0L168.9 84.0L167.0 82.8L164.9 83.0L166.0 83.2L167.7 85.0L169.5 90.0L173.7 92.0L189.0 94.4L198.6 88.0L204.5 79.0L208.0 71.3L211.6 68.0L213.4 62.0L213.0 55.6Z" fill="#0000df"/><path d="M-2.0 -1.0L221.0 -1.0L221.0 175.0L-3.0 175.0L-3.0 -1.0ZM211.8 50.0L211.6 54.0L212.1 58.0L211.2 62.0L209.0 65.9L204.5 68.0L203.4 69.0L197.8 78.0L194.7 84.0L188.0 90.3L182.0 89.3L174.0 89.5L171.0 89.1L169.8 84.0L169.0 83.3L167.0 82.1L162.7 83.0L166.4 84.0L167.3 85.0L169.0 90.0L173.0 92.3L189.0 94.8L194.0 91.9L200.0 87.2L205.7 78.0L208.2 72.0L212.1 68.0L213.8 62.0L213.9 59.0L213.8 57.0L212.7 54.0L212.0 49.1Z" fill="#0000ef"/><path d="M-2.0 -1.0L221.0 -1.0L221.0 175.0L-3.0 175.0L-3.0 -1.0ZM213.9 40.0L214.0 41.3L214.0 40.0ZM212.8 45.0L211.2 48.0L211.1 54.0L211.7 57.0L210.9 61.0L210.0 62.8L208.0 65.6L203.0 68.0L196.3 78.0L193.9 83.0L188.0 89.0L182.0 88.2L174.0 88.7L172.0 88.4L171.5 88.0L170.8 84.0L170.2 83.0L167.0 81.4L161.0 83.0L166.0 84.2L167.3 86.0L168.5 90.0L170.0 91.4L173.0 92.8L182.0 94.5L189.0 95.3L198.0 89.7L200.1 88.0L203.5 83.0L206.4 78.0L208.9 72.0L212.7 68.0L214.3 62.0L214.4 57.0L213.1 53.0L212.3 48.0L213.1 46.0L213.0 44.4Z" fill="#0000ff"/><path d="M-2.0 -1.0L221.0 -1.0L221.0 175.0L-3.0 175.0L-3.0 -1.0ZM205.7 29.0L206.0 29.3L206.0 28.8ZM207.7 32.0L208.0 32.6L208.3 32.0L208.0 31.6ZM208.8 34.0L209.0 34.6L209.3 34.0L209.0 33.3ZM209.7 36.0L210.0 38.5L212.7 40.0L213.4 41.0L212.2 45.0L210.5 48.0L210.4 54.0L211.0 57.0L210.0 61.1L207.3 65.0L203.0 66.6L201.3 68.0L195.1 76.0L192.2 82.0L188.0 86.7L187.0 87.4L182.0 86.3L173.0 87.4L172.5 87.0L172.0 82.5L167.0 80.6L161.0 82.4L159.7 84.0L160.0 88.6L161.0 84.3L162.0 83.8L164.0 84.0L166.0 84.8L166.8 86.0L168.6 91.0L172.0 92.9L182.0 95.1L189.0 95.9L194.0 93.3L200.1 89.0L206.7 79.0L209.2 73.0L213.0 69.0L214.7 63.0L214.9 57.0L213.6 53.0L212.9 48.0L214.0 45.0L214.6 40.0L211.0 38.0L210.0 35.5Z" fill="#0010ff"/><path d="M-2.0 -1.0L221.0 -1.0L221.0 175.0L-3.0 175.0L-3.0 -1.0ZM199.5 0.0L202.4 6.0L202.8 8.0L200.2 15.0L203.0 17.6L204.6 20.0L201.9 26.0L202.1 27.0L206.0 30.2L208.2 34.0L209.7 39.0L212.7 41.0L212.0 44.0L209.8 48.0L209.5 54.0L210.0 57.0L208.9 61.0L206.6 64.0L200.7 66.0L194.0 71.2L189.5 74.0L188.1 76.0L188.0 78.0L186.0 82.7L182.0 79.7L180.2 82.0L175.0 85.3L174.7 85.0L175.1 81.0L174.4 80.0L173.0 79.4L168.0 79.4L161.0 81.7L159.2 84.0L159.4 89.0L158.7 91.0L159.0 91.5L159.3 90.0L160.0 89.7L160.8 88.0L161.1 85.0L162.0 84.3L163.0 84.4L165.0 84.9L166.0 85.6L168.0 91.0L172.0 93.6L182.0 95.8L190.0 96.4L195.0 93.5L201.2 89.0L206.6 81.0L210.0 73.5L213.9 69.0L215.6 62.0L215.6 57.0L214.3 53.0L213.5 48.0L214.6 45.0L215.2 40.0L211.0 37.1L210.1 34.0L207.0 29.1L203.3 26.0L205.9 20.0L204.0 17.1L201.6 15.0L201.7 13.0L203.6 9.0L203.6 7.0L201.6 2.0L200.0 -0.5Z" fill="#0020ff"/><path d="M-2.0 -1.0L199.9 -1.0L199.0 0.0L202.2 8.0L199.5 15.0L204.0 20.0L201.3 26.0L201.4 27.0L205.7 31.0L207.9 35.0L208.7 39.0L211.8 41.0L211.2 44.0L209.0 48.0L208.3 54.0L208.5 57.0L208.0 58.9L207.0 60.9L205.0 62.8L194.0 65.0L184.0 65.7L182.0 66.1L180.5 67.0L169.4 77.0L164.1 80.0L161.0 81.0L160.0 82.0L158.7 84.0L159.0 88.0L157.4 93.0L158.0 93.3L159.3 92.0L161.5 88.0L162.0 85.0L163.0 85.0L165.5 86.0L168.0 91.9L172.0 94.4L182.0 96.7L189.0 97.4L191.0 96.9L195.0 94.6L201.0 90.6L202.6 89.0L208.5 80.0L211.1 74.0L214.6 70.0L216.4 63.0L216.4 57.0L215.0 53.0L214.3 49.0L215.3 45.0L215.8 40.0L215.0 38.7L211.8 37.0L210.8 34.0L207.7 29.0L204.0 26.0L206.6 20.0L202.0 14.0L204.5 8.0L202.2 2.0L201.0 -0.3L200.1 -1.0L221.0 -1.0L221.0 175.0L-3.0 175.0L-3.0 -1.0Z" fill="#0030ff"/><path d="M-2.0 -1.0L198.6 -1.0L198.3 0.0L198.6 1.0L201.4 8.0L198.8 15.0L203.1 20.0L203.0 21.0L200.5 26.0L200.5 27.0L204.8 31.0L207.0 35.0L208.0 39.7L210.8 42.0L210.1 44.0L207.7 48.0L205.6 58.0L204.0 59.7L202.0 60.5L189.0 60.1L182.0 60.9L177.0 64.1L172.0 68.7L169.6 73.0L167.3 76.0L164.0 78.9L161.0 80.0L159.0 82.2L158.2 84.0L158.4 88.0L157.7 91.0L155.8 94.0L154.7 97.0L155.0 97.7L155.3 96.0L160.0 92.0L162.0 89.0L163.0 85.8L165.0 86.5L166.6 91.0L168.0 92.8L172.0 95.3L182.0 97.8L189.0 98.5L192.0 97.6L196.0 95.4L203.5 90.0L209.6 81.0L212.4 75.0L215.6 71.0L217.6 63.0L217.5 57.0L215.3 49.0L216.1 46.0L216.7 40.0L216.0 38.5L212.2 36.0L211.2 33.0L208.0 28.1L205.2 26.0L207.3 20.0L205.0 16.3L202.9 14.0L205.3 8.0L201.5 -1.0L221.0 -1.0L221.0 175.0L-3.0 175.0L-3.0 -1.0Z" fill="#0040ff"/><path d="M-2.0 -1.0L197.6 -1.0L197.6 1.0L200.5 8.0L197.9 15.0L198.2 16.0L201.9 20.0L202.0 21.0L199.9 25.0L199.5 27.0L200.0 28.1L204.1 32.0L206.0 35.8L206.6 40.0L209.0 43.0L206.1 47.0L204.0 51.8L201.7 54.0L198.0 55.3L187.0 55.7L182.0 56.5L176.4 60.0L172.0 63.7L165.0 76.0L164.0 77.2L160.0 79.5L157.7 83.0L157.8 88.0L157.1 91.0L154.6 95.0L153.5 100.0L154.0 101.2L156.4 96.0L160.3 93.0L163.3 89.0L164.0 87.1L167.0 92.9L172.0 96.5L182.0 99.2L189.0 99.8L193.0 98.8L203.0 92.9L205.9 90.0L210.3 84.0L214.0 76.9L217.3 72.0L219.1 64.0L219.0 57.0L216.7 49.0L217.4 46.0L217.8 40.0L217.0 38.0L213.9 36.0L213.1 35.0L211.8 32.0L209.0 27.8L206.9 26.0L206.5 25.0L208.4 20.0L206.8 17.0L204.0 14.0L206.2 8.0L202.6 -1.0L221.0 -1.0L221.0 175.0L-3.0 175.0L-3.0 -1.0ZM152.7 102.0L153.0 102.4L153.3 102.0L153.0 101.4Z" fill="#0050ff"/><path d="M-2.0 -1.0L196.3 -1.0L196.3 1.0L199.1 8.0L196.6 15.0L197.3 17.0L200.3 20.0L200.5 21.0L198.4 25.0L198.3 28.0L199.6 30.0L202.7 33.0L204.0 35.8L204.3 41.0L205.2 44.0L201.0 47.5L198.0 49.1L182.0 52.0L172.0 59.1L164.0 74.3L159.0 78.9L157.2 82.0L156.7 84.0L157.0 88.0L156.6 90.0L154.4 94.0L153.0 100.0L151.0 104.0L151.0 105.8L152.0 105.6L152.3 104.0L154.8 101.0L157.3 96.0L161.0 93.5L164.0 90.4L167.0 94.3L172.0 98.1L182.0 101.2L188.0 101.8L191.0 101.6L199.0 98.4L206.0 94.0L212.4 87.0L215.0 83.2L219.5 75.0L221.0 70.1L221.0 175.0L-3.0 175.0L-3.0 -1.0ZM205.0 -1.0L221.0 -1.0L221.0 55.4L219.2 50.0L219.7 41.0L219.0 38.0L217.4 36.0L215.0 34.5L213.8 32.0L210.4 27.0L208.3 25.0L209.8 21.0L209.7 19.0L206.2 14.0L206.0 13.0L207.6 9.0L207.6 7.0L204.2 -1.0Z" fill="#0060ff"/><path d="M-2.0 -1.0L194.3 -1.0L194.5 2.0L196.9 8.0L194.9 13.0L194.7 16.0L195.5 18.0L198.0 21.0L196.1 25.0L195.9 28.0L196.8 31.0L199.4 35.0L199.6 38.0L198.0 40.6L196.0 42.3L192.0 43.9L182.0 46.7L172.0 54.5L167.6 62.0L164.0 69.6L158.0 77.6L155.7 83.0L156.1 87.0L155.7 90.0L153.6 94.0L152.4 100.0L150.4 104.0L150.5 121.0L148.6 126.0L148.5 128.0L149.0 128.5L149.8 125.0L151.6 122.0L153.0 104.2L155.6 101.0L158.0 96.8L164.0 93.0L172.0 100.3L182.0 104.4L188.0 105.0L192.0 104.9L200.0 102.8L210.0 97.7L215.0 93.9L221.0 85.8L221.0 175.0L-3.0 175.0L-3.0 -1.0ZM147.9 129.0L147.5 131.0L148.0 132.0L148.5 130.0L148.0 128.5ZM147.0 135.0L146.6 143.0L147.0 144.4L147.5 142.0L147.0 134.5ZM146.0 145.0L145.6 147.0L146.0 148.3L146.4 146.0L146.0 145.0ZM144.8 150.0L145.0 152.1L145.4 150.0L145.0 149.1ZM143.9 153.0L143.6 154.0L144.0 155.2L144.4 154.0L144.0 152.8ZM142.7 157.0L143.0 158.2L143.4 157.0L143.0 156.0ZM141.7 160.0L142.0 161.3L142.3 160.0L142.0 159.2ZM140.9 163.0L141.0 165.3L141.3 164.0L141.0 162.6ZM139.8 168.0L140.0 169.5L140.0 167.2ZM138.9 171.0L139.0 172.5L139.0 170.9ZM208.0 -1.0L221.0 -1.0L221.0 34.7L217.7 32.0L212.2 24.0L213.1 21.0L212.7 18.0L209.3 13.0L210.7 9.0L210.7 7.0L207.3 -1.0Z" fill="#0070ff"/><path d="M-2.0 -1.0L190.1 -1.0L190.4 3.0L192.0 8.0L190.6 12.0L190.3 15.0L190.6 18.0L191.8 22.0L189.0 32.2L187.0 35.2L182.0 38.8L178.5 43.0L172.0 49.3L164.0 64.1L158.0 73.2L154.7 81.0L154.7 89.0L152.7 94.0L151.6 100.0L149.8 104.0L150.0 121.0L148.6 124.0L146.5 132.0L146.1 142.0L137.8 173.0L138.0 173.5L139.0 173.7L139.4 173.0L148.2 142.0L148.6 132.0L150.7 125.0L152.4 121.0L153.5 105.0L159.0 97.7L164.0 95.7L165.0 96.0L172.0 103.6L177.7 107.0L182.0 110.3L197.0 114.3L204.0 117.9L206.7 121.0L208.4 126.0L209.1 133.0L209.4 175.0L-3.0 175.0L-3.0 -1.0Z" fill="#0080ff"/><path d="M-2.0 -1.0L179.8 -1.0L179.5 22.0L178.8 27.0L177.5 32.0L175.3 37.0L172.0 42.0L164.0 58.7L160.0 63.6L157.0 68.5L154.9 73.0L153.3 78.0L152.6 82.0L153.0 89.0L151.7 93.0L150.9 99.0L149.0 104.0L149.2 121.0L147.9 124.0L145.9 132.0L145.6 141.0L145.0 144.1L137.2 173.0L138.0 174.5L139.0 174.5L139.7 174.0L146.7 151.0L148.9 142.0L149.4 132.0L151.5 125.0L153.1 122.0L154.0 109.9L154.8 105.0L161.0 99.1L164.0 98.6L166.7 101.0L172.0 109.4L175.9 114.0L178.0 118.0L179.1 122.0L180.0 128.0L180.4 136.0L180.5 175.0L-3.0 175.0L-3.0 -1.0Z" fill="#008fff"/><path d="M-2.0 -1.0L171.8 -1.0L171.4 26.0L170.7 33.0L169.5 39.0L167.5 45.0L164.0 53.0L158.7 59.0L154.3 66.0L152.2 71.0L150.6 77.0L150.2 82.0L150.8 88.0L149.5 99.0L147.9 103.0L148.2 121.0L147.0 124.0L145.2 131.0L144.7 141.0L144.0 144.6L136.4 173.0L136.5 174.0L137.4 175.0L-3.0 175.0L-3.0 -1.0ZM163.0 103.0L164.0 103.0L164.9 104.0L167.9 109.0L169.6 114.0L170.7 120.0L171.6 135.0L171.8 175.0L139.8 175.0L140.7 174.0L142.3 169.0L144.0 162.0L147.4 152.0L149.7 143.0L150.4 132.0L152.3 126.0L154.4 122.0L155.0 114.0L156.6 106.0L160.0 103.9L162.9 103.0Z" fill="#009fff"/><path d="M-2.0 -1.0L168.0 -1.0L167.6 27.0L166.9 34.0L165.4 41.0L164.0 45.5L157.0 54.1L152.0 61.9L148.7 69.0L147.0 75.0L146.5 81.0L147.5 97.0L146.3 103.0L147.1 120.0L144.0 131.0L143.6 141.0L143.0 143.9L135.4 173.0L135.9 175.0L-3.0 175.0L-3.0 -1.0ZM162.0 109.9L164.0 110.2L164.7 112.0L166.2 118.0L167.0 125.0L167.6 135.0L167.9 175.0L141.5 175.0L143.4 170.0L145.0 163.0L148.5 153.0L151.3 143.0L152.0 132.4L154.0 126.6L156.3 123.0L158.0 114.0L159.7 111.0L161.4 110.0Z" fill="#00afff"/><path d="M-2.0 -1.0L164.1 -1.0L164.0 21.8L162.3 32.0L158.5 41.0L145.5 63.0L143.5 68.0L141.9 74.0L141.6 82.0L143.6 96.0L143.5 102.0L144.5 111.0L145.0 120.0L142.1 131.0L141.8 141.0L134.0 172.0L134.2 175.0L-3.0 175.0L-3.0 -1.0ZM159.0 132.8L160.6 134.0L161.0 136.1L163.0 154.0L164.0 175.0L143.9 175.0L149.0 159.3L156.1 143.0L157.1 135.0L157.3 134.0L158.3 133.0Z" fill="#00bfff"/><path d="M-2.0 -1.0L152.0 -1.0L151.7 24.0L150.2 36.0L148.2 41.0L138.5 61.0L136.2 68.0L134.9 75.0L134.7 81.0L135.1 87.0L139.8 111.0L140.6 119.0L138.5 131.0L138.2 141.0L132.0 169.4L131.7 175.0L-3.0 175.0L-3.0 -1.0Z" fill="#00cfff"/><path d="M-2.0 -1.0L131.8 -1.0L131.6 41.0L129.3 80.0L131.1 116.0L131.0 140.0L128.9 175.0L-3.0 175.0L-3.0 -1.0Z" fill="#00dfff"/></g><path d="M0.0 0.0L4.75 -4.23M10.8 0.0L15.50 -4.23M21.5 0.0L26.25 -4.23M32.2 0.0L37.00 -4.23M43.0 0.0L47.75 -4.23M53.8 0.0L58.50 -4.23M64.5 0.0L69.25 -4.23M75.2 0.0L80.00 -4.23M86.0 0.0L90.75 -4.23M96.8 0.0L101.50 -4.23M107.5 0.0L112.25 -4.23M118.2 0.0L123.00 -4.23M129.0 0.0L133.75 -4.23M139.8 0.0L144.50 -4.23M150.5 0.0L155.38 -3.31M161.2 0.0L166.27 -2.39M172.0 0.0L177.18 -1.49M182.8 0.0L188.11 -0.60M193.5 0.0L199.00 0.00M0.0 10.8L4.75 6.60M10.8 10.8L15.50 6.60M21.5 10.8L26.25 6.60M32.2 10.8L37.00 6.60M43.0 10.8L47.75 6.60M53.8 10.8L58.50 6.60M64.5 10.8L69.25 6.60M75.2 10.8L80.00 6.60M86.0 10.8L90.75 6.60M96.8 10.8L101.50 6.60M107.5 10.8L112.25 6.60M118.2 10.8L123.00 6.60M129.0 10.8L133.75 6.60M139.8 10.8L144.50 6.60M150.5 10.8L155.38 7.52M161.2 10.8L166.27 8.44M172.0 10.8L177.18 9.34M182.8 10.8L188.11 10.23M193.5 10.8L199.00 10.83M0.0 21.7L4.75 17.43M10.8 21.7L15.50 17.43M21.5 21.7L26.25 17.43M32.2 21.7L37.00 17.43M43.0 21.7L47.75 17.43M53.8 21.7L58.50 17.43M64.5 21.7L69.25 17.43M75.2 21.7L80.00 17.43M86.0 21.7L90.75 17.43M96.8 21.7L101.50 17.43M107.5 21.7L112.25 17.43M118.2 21.7L123.00 17.43M129.0 21.7L133.75 17.43M139.8 21.7L144.50 17.43M150.5 21.7L155.38 18.35M161.2 21.7L166.27 19.27M172.0 21.7L177.18 20.17M182.8 21.7L188.11 21.06M193.5 21.7L199.00 21.66M0.0 32.5L4.75 28.26M10.8 32.5L15.50 28.26M21.5 32.5L26.25 28.26M32.2 32.5L37.00 28.26M43.0 32.5L47.75 28.26M53.8 32.5L58.50 28.26M64.5 32.5L69.25 28.26M75.2 32.5L80.00 28.26M86.0 32.5L90.75 28.26M96.8 32.5L101.50 28.26M107.5 32.5L112.25 28.26M118.2 32.5L123.00 28.26M129.0 32.5L133.75 28.26M139.8 32.5L144.50 28.26M150.5 32.5L155.38 29.18M161.2 32.5L166.27 30.11M172.0 32.5L177.18 31.01M182.8 32.5L188.11 31.90M193.5 32.5L199.00 32.50M204.2 32.5L208.41 29.83M0.0 43.3L4.75 39.09M10.8 43.3L15.50 39.09M21.5 43.3L26.25 39.09M32.2 43.3L37.00 39.09M43.0 43.3L47.75 39.09M53.8 43.3L58.50 39.09M64.5 43.3L69.25 39.09M75.2 43.3L80.00 39.09M86.0 43.3L90.75 39.09M96.8 43.3L101.50 39.09M107.5 43.3L112.25 39.09M118.2 43.3L123.00 39.09M129.0 43.3L133.75 39.09M139.8 43.3L144.50 39.09M150.5 43.3L155.38 40.02M161.2 43.3L166.27 40.97M172.0 43.3L177.16 41.92M182.8 43.3L188.08 42.81M193.5 43.3L198.97 43.38M204.2 43.3L209.74 43.35M0.0 54.1L4.75 49.92M10.8 54.1L15.50 49.92M21.5 54.1L26.25 49.92M32.2 54.1L37.00 49.92M43.0 54.1L47.75 49.92M53.8 54.1L58.50 49.92M64.5 54.1L69.25 49.92M75.2 54.1L80.00 49.92M86.0 54.1L90.75 49.92M96.8 54.1L101.50 49.92M107.5 54.1L112.25 49.92M118.2 54.1L123.00 49.92M129.0 54.1L133.75 49.92M139.8 54.1L144.50 49.92M150.5 54.1L155.38 50.90M161.2 54.1L166.24 52.00M172.0 54.1L177.08 53.13M182.8 54.1L187.95 54.05M193.5 54.1L198.86 54.46M204.2 54.1L209.68 54.29M0.0 65.0L4.75 60.75M10.8 65.0L15.50 60.75M21.5 65.0L26.25 60.75M32.2 65.0L37.00 60.75M43.0 65.0L47.75 60.75M53.8 65.0L58.50 60.75M64.5 65.0L69.25 60.75M75.2 65.0L80.00 60.75M86.0 65.0L90.75 60.75M96.8 65.0L101.50 60.75M107.5 65.0L112.25 60.75M118.2 65.0L123.00 60.75M129.0 65.0L133.75 60.75M139.8 65.0L144.50 60.77M150.5 65.0L155.36 61.86M161.2 65.0L166.16 63.30M172.0 65.0L176.89 64.90M182.8 65.0L187.64 65.88M193.5 65.0L198.57 65.92M204.2 65.0L209.55 65.40M0.0 75.8L4.75 71.58M10.8 75.8L15.50 71.58M21.5 75.8L26.25 71.58M32.2 75.8L37.00 71.58M43.0 75.8L47.75 71.58M53.8 75.8L58.50 71.58M64.5 75.8L69.25 71.58M75.2 75.8L80.00 71.58M86.0 75.8L90.75 71.58M96.8 75.8L101.50 71.58M107.5 75.8L112.25 71.58M118.2 75.8L123.00 71.58M129.0 75.8L133.75 71.58M139.8 75.8L144.50 71.62M150.5 75.8L155.35 72.83M161.2 75.8L166.09 74.62M172.0 75.8L176.73 76.70M182.8 75.8L187.37 77.76M193.5 75.8L198.29 77.40M0.0 86.6L4.75 82.41M10.8 86.6L15.50 82.41M21.5 86.6L26.25 82.41M32.2 86.6L37.00 82.41M43.0 86.6L47.75 82.41M53.8 86.6L58.50 82.41M64.5 86.6L69.25 82.41M75.2 86.6L80.00 82.41M86.0 86.6L90.75 82.41M96.8 86.6L101.50 82.41M107.5 86.6L112.25 82.41M118.2 86.6L123.00 82.41M129.0 86.6L133.75 82.41M139.8 86.6L144.50 82.45M150.5 86.6L155.35 83.64M161.2 86.6L166.10 85.39M172.0 86.6L176.75 87.40M182.8 86.6L187.41 88.45M193.5 86.6L198.33 88.14M0.0 97.5L4.75 93.24M10.8 97.5L15.50 93.24M21.5 97.5L26.25 93.24M32.2 97.5L37.00 93.24M43.0 97.5L47.75 93.24M53.8 97.5L58.50 93.24M64.5 97.5L69.25 93.24M75.2 97.5L80.00 93.24M86.0 97.5L90.75 93.24M96.8 97.5L101.50 93.24M107.5 97.5L112.25 93.24M118.2 97.5L123.00 93.24M129.0 97.5L133.75 93.24M139.8 97.5L144.50 93.26M150.5 97.5L155.78 96.22M0.0 108.3L4.75 104.07M10.8 108.3L15.50 104.07M21.5 108.3L26.25 104.07M32.2 108.3L37.00 104.07M43.0 108.3L47.75 104.07M53.8 108.3L58.50 104.07M64.5 108.3L69.25 104.07M75.2 108.3L80.00 104.07M86.0 108.3L90.75 104.07M96.8 108.3L101.50 104.07M107.5 108.3L112.25 104.07M118.2 108.3L123.00 104.07M129.0 108.3L133.75 104.07M139.8 108.3L144.61 104.74M0.0 119.1L4.75 114.90M10.8 119.1L15.50 114.90M21.5 119.1L26.25 114.90M32.2 119.1L37.00 114.90M43.0 119.1L47.75 114.90M53.8 119.1L58.50 114.90M64.5 119.1L69.25 114.90M75.2 119.1L80.00 114.90M86.0 119.1L90.75 114.90M96.8 119.1L101.50 114.90M107.5 119.1L112.25 114.90M118.2 119.1L123.00 114.90M129.0 119.1L133.75 114.90M139.8 119.1L144.62 115.63M150.5 119.1L155.96 118.56M0.0 130.0L4.75 125.73M10.8 130.0L15.50 125.73M21.5 130.0L26.25 125.73M32.2 130.0L37.00 125.73M43.0 130.0L47.75 125.73M53.8 130.0L58.50 125.73M64.5 130.0L69.25 125.73M75.2 130.0L80.00 125.73M86.0 130.0L90.75 125.73M96.8 130.0L101.50 125.73M107.5 130.0L112.25 125.73M118.2 130.0L123.00 125.73M129.0 130.0L133.75 125.73M139.8 130.0L144.77 127.31M0.0 140.8L4.75 136.56M10.8 140.8L15.50 136.56M21.5 140.8L26.25 136.56M32.2 140.8L37.00 136.56M43.0 140.8L47.75 136.56M53.8 140.8L58.50 136.56M64.5 140.8L69.25 136.56M75.2 140.8L80.00 136.56M86.0 140.8L90.75 136.56M96.8 140.8L101.50 136.56M107.5 140.8L112.25 136.56M118.2 140.8L123.00 136.56M129.0 140.8L133.75 136.56M139.8 140.8L144.81 138.37M0.0 151.6L4.75 147.39M10.8 151.6L15.50 147.39M21.5 151.6L26.25 147.39M32.2 151.6L37.00 147.39M43.0 151.6L47.75 147.39M53.8 151.6L58.50 147.39M64.5 151.6L69.25 147.39M75.2 151.6L80.00 147.39M86.0 151.6L90.75 147.39M96.8 151.6L101.50 147.39M107.5 151.6L112.25 147.39M118.2 151.6L123.00 147.39M129.0 151.6L133.75 147.39M139.8 151.6L144.94 149.87M0.0 162.4L4.75 158.22M10.8 162.4L15.50 158.22M21.5 162.4L26.25 158.22M32.2 162.4L37.00 158.22M43.0 162.4L47.75 158.22M53.8 162.4L58.50 158.22M64.5 162.4L69.25 158.22M75.2 162.4L80.00 158.22M86.0 162.4L90.75 158.22M96.8 162.4L101.50 158.22M107.5 162.4L112.25 158.22M118.2 162.4L123.00 158.22M129.0 162.4L133.83 158.69M139.8 162.4L145.15 161.61M0.0 173.3L4.75 169.05M10.8 173.3L15.50 169.05M21.5 173.3L26.25 169.05M32.2 173.3L37.00 169.05M43.0 173.3L47.75 169.05M53.8 173.3L58.50 169.05M64.5 173.3L69.25 169.05M75.2 173.3L80.00 169.05M86.0 173.3L90.75 169.05M96.8 173.3L101.50 169.05M107.5 173.3L112.25 169.05M118.2 173.3L123.00 169.05M129.0 173.3L133.96 170.31" stroke="#002a38" stroke-width="1.1" stroke-linecap="round" opacity="0.64" fill="none"/><path d="M5.50 -4.90L4.27 -2.53L3.00 -3.95ZM16.25 -4.90L15.02 -2.53L13.75 -3.95ZM27.00 -4.90L25.77 -2.53L24.50 -3.95ZM37.75 -4.90L36.52 -2.53L35.25 -3.95ZM48.50 -4.90L47.27 -2.53L46.00 -3.95ZM59.25 -4.90L58.02 -2.53L56.75 -3.95ZM70.00 -4.90L68.77 -2.53L67.50 -3.95ZM80.75 -4.90L79.52 -2.53L78.25 -3.95ZM91.50 -4.90L90.27 -2.53L89.00 -3.95ZM102.25 -4.90L101.02 -2.53L99.75 -3.95ZM113.00 -4.90L111.77 -2.53L110.50 -3.95ZM123.75 -4.90L122.52 -2.53L121.25 -3.95ZM134.50 -4.90L133.27 -2.53L132.00 -3.95ZM145.25 -4.90L144.02 -2.53L142.75 -3.95ZM156.21 -3.87L154.67 -1.68L153.61 -3.25ZM167.17 -2.82L165.33 -0.89L164.51 -2.60ZM178.14 -1.76L176.00 -0.16L175.47 -1.99ZM189.10 -0.71L186.73 0.51L186.51 -1.38ZM200.00 0.00L197.50 0.95L197.50 -0.95ZM5.50 5.93L4.27 8.30L3.00 6.88ZM16.25 5.93L15.02 8.30L13.75 6.88ZM27.00 5.93L25.77 8.30L24.50 6.88ZM37.75 5.93L36.52 8.30L35.25 6.88ZM48.50 5.93L47.27 8.30L46.00 6.88ZM59.25 5.93L58.02 8.30L56.75 6.88ZM70.00 5.93L68.77 8.30L67.50 6.88ZM80.75 5.93L79.52 8.30L78.25 6.88ZM91.50 5.93L90.27 8.30L89.00 6.88ZM102.25 5.93L101.02 8.30L99.75 6.88ZM113.00 5.93L111.77 8.30L110.50 6.88ZM123.75 5.93L122.52 8.30L121.25 6.88ZM134.50 5.93L133.27 8.30L132.00 6.88ZM145.25 5.93L144.02 8.30L142.75 6.88ZM156.21 6.96L154.67 9.15L153.61 7.58ZM167.17 8.01L165.33 9.94L164.51 8.23ZM178.14 9.07L176.00 10.67L175.47 8.84ZM189.10 10.12L186.73 11.34L186.51 9.45ZM200.00 10.83L197.50 11.78L197.50 9.88ZM5.50 16.76L4.27 19.13L3.00 17.71ZM16.25 16.76L15.02 19.13L13.75 17.71ZM27.00 16.76L25.77 19.13L24.50 17.71ZM37.75 16.76L36.52 19.13L35.25 17.71ZM48.50 16.76L47.27 19.13L46.00 17.71ZM59.25 16.76L58.02 19.13L56.75 17.71ZM70.00 16.76L68.77 19.13L67.50 17.71ZM80.75 16.76L79.52 19.13L78.25 17.71ZM91.50 16.76L90.27 19.13L89.00 17.71ZM102.25 16.76L101.02 19.13L99.75 17.71ZM113.00 16.76L111.77 19.13L110.50 17.71ZM123.75 16.76L122.52 19.13L121.25 17.71ZM134.50 16.76L133.27 19.13L132.00 17.71ZM145.25 16.76L144.02 19.13L142.75 17.71ZM156.21 17.79L154.67 19.98L153.61 18.41ZM167.17 18.84L165.33 20.77L164.51 19.06ZM178.14 19.90L176.00 21.50L175.47 19.67ZM189.10 20.95L186.73 22.17L186.51 20.28ZM200.00 21.66L197.50 22.61L197.50 20.71ZM5.50 27.59L4.27 29.96L3.00 28.54ZM16.25 27.59L15.02 29.96L13.75 28.54ZM27.00 27.59L25.77 29.96L24.50 28.54ZM37.75 27.59L36.52 29.96L35.25 28.54ZM48.50 27.59L47.27 29.96L46.00 28.54ZM59.25 27.59L58.02 29.96L56.75 28.54ZM70.00 27.59L68.77 29.96L67.50 28.54ZM80.75 27.59L79.52 29.96L78.25 28.54ZM91.50 27.59L90.27 29.96L89.00 28.54ZM102.25 27.59L101.02 29.96L99.75 28.54ZM113.00 27.59L111.77 29.96L110.50 28.54ZM123.75 27.59L122.52 29.96L121.25 28.54ZM134.50 27.59L133.27 29.96L132.00 28.54ZM145.25 27.59L144.02 29.96L142.75 28.54ZM156.21 28.62L154.67 30.81L153.61 29.24ZM167.17 29.68L165.32 31.61L164.51 29.89ZM178.14 30.74L176.00 32.34L175.47 30.51ZM189.10 31.79L186.72 33.01L186.51 31.12ZM200.00 32.50L197.50 33.44L197.50 31.54ZM209.25 29.29L207.66 31.44L206.63 29.84ZM5.50 38.42L4.27 40.79L3.00 39.37ZM16.25 38.42L15.02 40.79L13.75 39.37ZM27.00 38.42L25.77 40.79L24.50 39.37ZM37.75 38.42L36.52 40.79L35.25 39.37ZM48.50 38.42L47.27 40.79L46.00 39.37ZM59.25 38.42L58.02 40.79L56.75 39.37ZM70.00 38.42L68.77 40.79L67.50 39.37ZM80.75 38.42L79.52 40.79L78.25 39.37ZM91.50 38.42L90.27 40.79L89.00 39.37ZM102.25 38.42L101.02 40.79L99.75 39.37ZM113.00 38.42L111.77 40.79L110.50 39.37ZM123.75 38.42L122.52 40.79L121.25 39.37ZM134.50 38.42L133.27 40.79L132.00 39.37ZM145.25 38.42L144.01 40.79L142.75 39.38ZM156.21 39.46L154.67 41.65L153.61 40.07ZM167.17 40.55L165.31 42.47L164.50 40.75ZM178.13 41.66L175.96 43.23L175.46 41.39ZM189.08 42.72L186.68 43.90L186.50 42.01ZM199.97 43.39L197.46 44.31L197.48 42.41ZM210.74 43.35L208.23 44.29L208.24 42.39ZM5.50 49.25L4.27 51.62L3.00 50.20ZM16.25 49.25L15.02 51.62L13.75 50.20ZM27.00 49.25L25.77 51.62L24.50 50.20ZM37.75 49.25L36.52 51.62L35.25 50.20ZM48.50 49.25L47.27 51.62L46.00 50.20ZM59.25 49.25L58.02 51.62L56.75 50.20ZM70.00 49.25L68.77 51.62L67.50 50.20ZM80.75 49.25L79.52 51.62L78.25 50.20ZM91.50 49.25L90.27 51.62L89.00 50.20ZM102.25 49.25L101.02 51.62L99.75 50.20ZM113.00 49.25L111.77 51.62L110.50 50.20ZM123.75 49.25L122.52 51.62L121.25 50.20ZM134.50 49.25L133.27 51.62L132.00 50.20ZM145.25 49.26L144.01 51.63L142.75 50.21ZM156.21 50.35L154.65 52.53L153.60 50.94ZM167.15 51.60L165.24 53.46L164.48 51.72ZM178.06 52.93L175.79 54.36L175.42 52.49ZM188.95 54.03L186.47 55.03L186.43 53.13ZM199.85 54.52L197.30 55.32L197.41 53.42ZM210.68 54.31L208.16 55.20L208.21 53.30ZM5.50 60.08L4.27 62.45L3.00 61.03ZM16.25 60.08L15.02 62.45L13.75 61.03ZM27.00 60.08L25.77 62.45L24.50 61.03ZM37.75 60.08L36.52 62.45L35.25 61.03ZM48.50 60.08L47.27 62.45L46.00 61.03ZM59.25 60.08L58.02 62.45L56.75 61.03ZM70.00 60.08L68.77 62.45L67.50 61.03ZM80.75 60.08L79.52 62.45L78.25 61.03ZM91.50 60.08L90.27 62.45L89.00 61.03ZM102.25 60.08L101.02 62.45L99.75 61.03ZM113.00 60.08L111.77 62.45L110.50 61.03ZM123.75 60.08L122.52 62.45L121.25 61.03ZM134.50 60.08L133.26 62.45L132.00 61.04ZM145.25 60.11L144.01 62.48L142.75 61.06ZM156.20 61.32L154.61 63.47L153.59 61.87ZM167.11 62.98L165.05 64.69L164.44 62.89ZM177.89 64.88L175.41 65.87L175.37 63.97ZM188.63 66.06L186.00 66.54L186.34 64.67ZM199.55 66.10L196.92 66.58L197.27 64.71ZM210.55 65.48L207.98 66.23L208.13 64.34ZM5.50 70.91L4.27 73.28L3.00 71.86ZM16.25 70.91L15.02 73.28L13.75 71.86ZM27.00 70.91L25.77 73.28L24.50 71.86ZM37.75 70.91L36.52 73.28L35.25 71.86ZM48.50 70.91L47.27 73.28L46.00 71.86ZM59.25 70.91L58.02 73.28L56.75 71.86ZM70.00 70.91L68.77 73.28L67.50 71.86ZM80.75 70.91L79.52 73.28L78.25 71.86ZM91.50 70.91L90.27 73.28L89.00 71.86ZM102.25 70.91L101.02 73.28L99.75 71.86ZM113.00 70.91L111.77 73.28L110.50 71.86ZM123.75 70.91L122.52 73.28L121.25 71.86ZM134.50 70.91L133.26 73.29L132.00 71.87ZM145.25 70.96L144.00 73.33L142.75 71.90ZM156.20 72.31L154.57 74.42L153.57 72.81ZM167.06 74.38L164.86 75.90L164.41 74.06ZM177.71 76.88L175.08 77.35L175.43 75.49ZM188.29 78.15L185.62 78.05L186.36 76.30ZM199.24 77.71L196.57 77.83L197.17 76.02ZM5.50 81.74L4.27 84.11L3.00 82.69ZM16.25 81.74L15.02 84.11L13.75 82.69ZM27.00 81.74L25.77 84.11L24.50 82.69ZM37.75 81.74L36.52 84.11L35.25 82.69ZM48.50 81.74L47.27 84.11L46.00 82.69ZM59.25 81.74L58.02 84.11L56.75 82.69ZM70.00 81.74L68.77 84.11L67.50 82.69ZM80.75 81.74L79.52 84.11L78.25 82.69ZM91.50 81.74L90.27 84.11L89.00 82.69ZM102.25 81.74L101.02 84.11L99.75 82.69ZM113.00 81.74L111.77 84.11L110.50 82.69ZM123.75 81.74L122.52 84.11L121.25 82.69ZM134.50 81.74L133.26 84.12L132.00 82.70ZM145.25 81.79L144.00 84.16L142.75 82.73ZM156.20 83.12L154.57 85.24L153.57 83.62ZM167.07 85.14L164.89 86.68L164.41 84.84ZM177.74 87.56L175.12 88.10L175.42 86.22ZM188.34 88.81L185.66 88.79L186.35 87.02ZM199.28 88.44L196.61 88.60L197.18 86.79ZM5.50 92.57L4.27 94.94L3.00 93.52ZM16.25 92.57L15.02 94.94L13.75 93.52ZM27.00 92.57L25.77 94.94L24.50 93.52ZM37.75 92.57L36.52 94.94L35.25 93.52ZM48.50 92.57L47.27 94.94L46.00 93.52ZM59.25 92.57L58.02 94.94L56.75 93.52ZM70.00 92.57L68.77 94.94L67.50 93.52ZM80.75 92.57L79.52 94.94L78.25 93.52ZM91.50 92.57L90.27 94.94L89.00 93.52ZM102.25 92.57L101.02 94.94L99.75 93.52ZM113.00 92.57L111.77 94.94L110.50 93.52ZM123.75 92.57L122.52 94.94L121.25 93.52ZM134.50 92.57L133.26 94.94L132.00 93.53ZM145.25 92.60L144.01 94.97L142.75 93.54ZM156.75 95.99L154.54 97.49L154.10 95.64ZM5.50 103.40L4.27 105.77L3.00 104.35ZM16.25 103.40L15.02 105.77L13.75 104.35ZM27.00 103.40L25.77 105.77L24.50 104.35ZM37.75 103.40L36.52 105.77L35.25 104.35ZM48.50 103.40L47.27 105.77L46.00 104.35ZM59.25 103.40L58.02 105.77L56.75 104.35ZM70.00 103.40L68.77 105.77L67.50 104.35ZM80.75 103.40L79.52 105.77L78.25 104.35ZM91.50 103.40L90.27 105.77L89.00 104.35ZM102.25 103.40L101.02 105.77L99.75 104.35ZM113.00 103.40L111.77 105.77L110.50 104.35ZM123.75 103.40L122.52 105.77L121.25 104.35ZM134.50 103.40L133.27 105.77L132.00 104.35ZM145.42 104.14L143.96 106.39L142.84 104.86ZM5.50 114.23L4.27 116.60L3.00 115.18ZM16.25 114.23L15.02 116.60L13.75 115.18ZM27.00 114.23L25.77 116.60L24.50 115.18ZM37.75 114.23L36.52 116.60L35.25 115.18ZM48.50 114.23L47.27 116.60L46.00 115.18ZM59.25 114.23L58.02 116.60L56.75 115.18ZM70.00 114.23L68.77 116.60L67.50 115.18ZM80.75 114.23L79.52 116.60L78.25 115.18ZM91.50 114.23L90.27 116.60L89.00 115.18ZM102.25 114.23L101.02 116.60L99.75 115.18ZM113.00 114.23L111.77 116.60L110.50 115.18ZM123.75 114.23L122.52 116.60L121.25 115.18ZM134.50 114.23L133.27 116.60L132.00 115.18ZM145.44 115.05L143.96 117.28L142.85 115.73ZM156.96 118.45L154.57 119.66L154.37 117.77ZM5.50 125.06L4.27 127.43L3.00 126.01ZM16.25 125.06L15.02 127.43L13.75 126.01ZM27.00 125.06L25.77 127.43L24.50 126.01ZM37.75 125.06L36.52 127.43L35.25 126.01ZM48.50 125.06L47.27 127.43L46.00 126.01ZM59.25 125.06L58.02 127.43L56.75 126.01ZM70.00 125.06L68.77 127.43L67.50 126.01ZM80.75 125.06L79.52 127.43L78.25 126.01ZM91.50 125.06L90.27 127.43L89.00 126.01ZM102.25 125.06L101.02 127.43L99.75 126.01ZM113.00 125.06L111.77 127.43L110.50 126.01ZM123.75 125.06L122.52 127.43L121.25 126.01ZM134.50 125.06L133.27 127.43L132.00 126.01ZM145.65 126.84L143.89 128.85L143.00 127.17ZM5.50 135.89L4.27 138.26L3.00 136.84ZM16.25 135.89L15.02 138.26L13.75 136.84ZM27.00 135.89L25.77 138.26L24.50 136.84ZM37.75 135.89L36.52 138.26L35.25 136.84ZM48.50 135.89L47.27 138.26L46.00 136.84ZM59.25 135.89L58.02 138.26L56.75 136.84ZM70.00 135.89L68.77 138.26L67.50 136.84ZM80.75 135.89L79.52 138.26L78.25 136.84ZM91.50 135.89L90.27 138.26L89.00 136.84ZM102.25 135.89L101.02 138.26L99.75 136.84ZM113.00 135.89L111.77 138.26L110.50 136.84ZM123.75 135.89L122.52 138.26L121.25 136.84ZM134.50 135.89L133.27 138.26L132.00 136.84ZM145.72 137.94L143.87 139.87L143.05 138.16ZM5.50 146.72L4.27 149.09L3.00 147.67ZM16.25 146.72L15.02 149.09L13.75 147.67ZM27.00 146.72L25.77 149.09L24.50 147.67ZM37.75 146.72L36.52 149.09L35.25 147.67ZM48.50 146.72L47.27 149.09L46.00 147.67ZM59.25 146.72L58.02 149.09L56.75 147.67ZM70.00 146.72L68.77 149.09L67.50 147.67ZM80.75 146.72L79.52 149.09L78.25 147.67ZM91.50 146.72L90.27 149.09L89.00 147.67ZM102.25 146.72L101.02 149.09L99.75 147.67ZM113.00 146.72L111.77 149.09L110.50 147.67ZM123.75 146.72L122.52 149.09L121.25 147.67ZM134.50 146.72L133.27 149.09L132.00 147.67ZM145.89 149.54L143.83 151.25L143.22 149.45ZM5.50 157.55L4.27 159.92L3.00 158.50ZM16.25 157.55L15.02 159.92L13.75 158.50ZM27.00 157.55L25.77 159.92L24.50 158.50ZM37.75 157.55L36.52 159.92L35.25 158.50ZM48.50 157.55L47.27 159.92L46.00 158.50ZM59.25 157.55L58.02 159.92L56.75 158.50ZM70.00 157.55L68.77 159.92L67.50 158.50ZM80.75 157.55L79.52 159.92L78.25 158.50ZM91.50 157.55L90.27 159.92L89.00 158.50ZM102.25 157.55L101.02 159.92L99.75 158.50ZM113.00 157.55L111.77 159.92L110.50 158.50ZM123.75 157.55L122.52 159.92L121.25 158.50ZM134.62 158.08L133.23 160.36L132.06 158.86ZM146.14 161.46L143.81 162.78L143.52 160.90ZM5.50 168.38L4.27 170.75L3.00 169.33ZM16.25 168.38L15.02 170.75L13.75 169.33ZM27.00 168.38L25.77 170.75L24.50 169.33ZM37.75 168.38L36.52 170.75L35.25 169.33ZM48.50 168.38L47.27 170.75L46.00 169.33ZM59.25 168.38L58.02 170.75L56.75 169.33ZM70.00 168.38L68.77 170.75L67.50 169.33ZM80.75 168.38L79.52 170.75L78.25 169.33ZM91.50 168.38L90.27 170.75L89.00 169.33ZM102.25 168.38L101.02 170.75L99.75 169.33ZM113.00 168.38L111.77 170.75L110.50 169.33ZM123.75 168.38L122.52 170.75L121.25 169.33ZM134.82 169.79L133.16 171.89L132.19 170.26Z" fill="#002a38" stroke="#002a38" stroke-width="0.5" stroke-linejoin="round" opacity="0.76"/><circle cx="184.00" cy="70.20" r="4.6" fill="#f00" stroke="#000" stroke-width="1.4"/></g></g>
<rect x="97.5" y="332.9" width="239.20" height="183.40" fill="none" stroke="#555" stroke-width="1.1"/>
<text x="158.0" y="321.0" font-size="15.4" fill="#111" textLength="122" lengthAdjust="spacingAndGlyphs">20111002_211000</text>
<rect x="403.1" y="332.4" width="241.10" height="184.10" fill="#fff"/>
<path d="M446.8 332.4v2.5M446.8 516.5v-2.5M490.6 332.4v2.5M490.6 516.5v-2.5M534.5 332.4v2.5M534.5 516.5v-2.5M578.3 332.4v2.5M578.3 516.5v-2.5M622.2 332.4v2.5M622.2 516.5v-2.5M403.1 347.3h2.5M644.2 347.3h-2.5M403.1 391.5h2.5M644.2 391.5h-2.5M403.1 435.7h2.5M644.2 435.7h-2.5M403.1 479.9h2.5M644.2 479.9h-2.5" stroke="#333" stroke-width="1" fill="none"/>
<g clip-path="url(#ax3)"><g transform="translate(404.4 336.8) scale(1.00465 1.01293)"><g clip-path="url(#sea)"><rect x="-5" y="-2" width="230" height="177.3" fill="#0000bf"/><path d="M-2.0 -1.0L221.0 -1.0L221.0 175.0L-3.0 175.0L-3.0 -1.0Z" fill="#0000cf"/><path d="M-2.0 -1.0L221.0 -1.0L221.0 175.0L-3.0 175.0L-3.0 -1.0ZM204.5 73.0L197.1 86.0L198.0 86.3L198.3 86.0L202.7 79.0L204.2 76.0L204.6 74.0L205.4 73.0L205.0 72.2ZM195.9 87.0L196.0 87.7L197.3 87.0L197.0 86.1L196.0 86.9ZM194.8 88.0L195.8 88.0L195.0 87.8ZM193.7 89.0L194.4 89.0L194.0 88.7ZM192.7 90.0L193.2 90.0L193.0 89.7Z" fill="#0000df"/><path d="M-2.0 -1.0L221.0 -1.0L221.0 175.0L-3.0 175.0L-3.0 -1.0ZM207.4 69.0L208.0 69.3L208.4 69.0L208.0 68.7ZM205.5 70.0L199.7 79.0L196.0 85.7L189.0 92.4L186.0 92.5L185.5 93.0L189.0 93.3L198.2 87.0L204.4 77.0L207.4 70.0L207.0 69.3L206.0 69.6ZM164.4 83.0L166.0 83.3L167.8 85.0L169.0 88.2L169.4 87.0L168.8 84.0L167.0 82.6L165.0 82.8ZM172.8 91.0L177.0 91.2L178.1 92.0L181.0 92.5L185.0 92.5L185.5 92.0L178.0 91.0L173.0 90.9Z" fill="#0000ef"/><path d="M-2.0 -1.0L221.0 -1.0L221.0 175.0L-3.0 175.0L-3.0 -1.0ZM211.0 66.0L211.0 67.0L211.0 66.0ZM207.9 68.0L205.4 69.0L204.3 70.0L198.7 78.0L195.0 84.9L189.0 90.9L188.0 91.4L180.0 89.9L174.0 89.9L171.0 89.2L170.5 84.0L169.9 83.0L167.0 81.2L161.2 83.0L166.0 84.2L167.4 86.0L169.1 90.0L172.0 91.6L189.0 93.9L194.0 90.8L199.0 87.0L204.6 78.0L207.4 71.0L210.3 68.0L210.0 67.4L208.0 68.0Z" fill="#0000ff"/><path d="M-2.0 -1.0L221.0 -1.0L221.0 175.0L-3.0 175.0L-3.0 -1.0ZM211.8 63.0L210.0 66.0L203.4 69.0L196.5 77.0L194.7 80.0L193.7 83.0L188.0 89.7L180.0 87.4L173.0 87.8L172.4 87.0L173.0 81.8L172.0 80.6L168.0 79.3L160.8 82.0L159.5 84.0L160.0 88.7L160.9 85.0L162.0 84.2L166.0 85.5L168.8 91.0L172.0 92.3L186.0 94.3L189.0 94.6L190.0 94.1L198.0 88.8L200.6 86.0L205.5 78.0L208.0 71.6L211.3 68.0L212.4 64.0L212.0 62.7Z" fill="#0010ff"/><path d="M-2.0 -1.0L221.0 -1.0L221.0 175.0L-3.0 175.0L-3.0 -1.0ZM212.1 60.0L211.3 62.0L209.0 65.3L203.0 67.2L197.0 70.4L194.0 70.6L188.0 69.0L184.0 68.6L179.0 69.2L174.9 71.0L160.0 81.2L158.5 84.0L158.9 88.0L158.4 91.0L158.8 92.0L161.2 89.0L162.3 86.0L163.0 85.6L165.0 86.1L168.0 91.5L172.0 93.3L188.0 95.3L191.0 94.5L200.0 88.3L203.7 83.0L206.6 78.0L208.9 72.0L212.2 68.0L213.6 62.0L213.5 60.0L213.0 59.9Z" fill="#0020ff"/><path d="M-2.0 -1.0L221.0 -1.0L221.0 175.0L-3.0 175.0L-3.0 -1.0ZM210.7 60.0L210.0 61.5L208.0 63.8L206.0 64.7L198.0 65.2L189.0 63.5L184.0 63.3L178.0 64.3L172.0 67.0L168.0 70.2L158.9 80.0L157.4 83.0L157.8 88.0L157.3 91.0L155.0 95.7L155.0 97.5L155.3 96.0L159.7 93.0L164.0 88.7L165.0 89.1L167.0 92.2L169.0 93.4L173.0 94.7L179.0 95.5L189.0 96.3L191.0 95.6L196.0 92.6L200.0 89.7L202.4 87.0L207.4 79.0L209.7 73.0L212.9 69.0L214.3 63.0L214.3 60.0L211.0 59.9Z" fill="#0030ff"/><path d="M-2.0 -1.0L221.0 -1.0L221.0 175.0L-3.0 175.0L-3.0 -1.0ZM183.3 59.0L177.0 60.2L170.4 63.0L165.1 67.0L160.9 72.0L158.0 76.5L156.0 81.3L155.7 83.0L156.1 90.0L154.2 94.0L153.2 100.0L151.7 103.0L152.0 103.7L154.5 101.0L157.4 96.0L164.0 92.3L168.0 94.7L172.0 96.1L181.0 97.2L189.0 97.6L192.0 96.6L199.0 92.2L201.9 90.0L204.3 87.0L208.7 80.0L211.1 74.0L214.0 69.9L215.5 63.0L215.4 60.0L213.0 59.5L209.0 59.8L206.0 61.7L204.0 62.2L191.0 59.3L184.0 58.9Z" fill="#0040ff"/><path d="M-2.0 -1.0L221.0 -1.0L221.0 175.0L-3.0 175.0L-3.0 -1.0ZM180.4 55.0L172.0 57.4L165.4 61.0L159.7 66.0L155.6 72.0L153.2 79.0L152.9 83.0L153.8 89.0L152.4 94.0L151.8 100.0L150.1 104.0L150.3 110.0L151.0 110.5L152.5 110.0L153.0 105.0L153.6 104.0L158.0 98.5L160.0 97.0L165.0 95.9L169.0 97.6L174.0 98.7L185.0 99.4L191.0 98.9L197.0 95.8L203.0 91.7L207.8 86.0L210.9 81.0L212.9 76.0L216.1 70.0L217.1 63.0L216.9 60.0L215.0 59.5L207.8 59.0L199.0 56.3L192.0 54.8L186.0 54.5L181.0 54.9Z" fill="#0050ff"/><path d="M-2.0 -1.0L221.0 -1.0L221.0 175.0L-3.0 175.0L-3.0 -1.0ZM179.4 50.0L174.0 51.3L169.0 53.1L164.0 55.7L160.0 58.4L156.0 61.9L153.3 65.0L150.7 69.0L148.9 73.0L147.9 77.0L147.7 81.0L149.0 89.0L149.7 98.0L148.3 104.0L148.7 110.0L150.3 111.0L150.4 121.0L148.8 125.0L146.9 132.0L146.3 144.0L138.0 173.0L139.0 173.3L139.5 172.0L141.6 163.0L145.5 151.0L147.5 143.0L148.1 132.0L149.7 126.0L151.6 122.0L152.5 111.0L154.3 110.0L155.6 105.0L160.0 101.7L163.0 100.7L166.0 100.7L174.0 102.3L182.0 102.6L190.0 102.1L195.0 100.3L203.0 95.6L208.3 91.0L213.6 84.0L218.4 74.0L219.7 67.0L219.5 60.0L217.0 59.2L211.8 59.0L211.3 57.0L210.0 54.9L207.0 51.7L204.0 50.8L192.0 49.4L186.0 49.3L180.0 49.9Z" fill="#0060ff"/><path d="M-2.0 -1.0L221.0 -1.0L221.0 51.9L218.0 49.1L215.8 49.0L214.0 51.7L213.6 56.0L213.0 57.8L209.4 48.0L208.8 45.0L207.3 43.0L204.0 41.7L201.0 41.2L189.0 41.1L181.0 41.7L170.0 44.3L164.0 46.7L159.0 49.3L150.0 55.8L143.6 63.0L140.7 68.0L138.7 73.0L137.8 78.0L137.8 83.0L139.0 89.0L142.7 98.0L145.3 110.0L147.9 111.0L148.3 120.0L144.9 132.0L144.6 141.0L144.0 144.2L136.0 173.0L136.7 175.0L-3.0 175.0L-3.0 -1.0ZM221.0 87.1L221.0 175.0L140.3 175.0L142.2 170.0L144.0 162.3L147.3 152.0L149.6 143.0L150.2 132.0L152.0 125.7L153.8 122.0L155.4 111.0L163.0 109.1L181.0 109.3L189.0 108.3L195.0 106.7L202.0 103.6L210.0 98.7L215.3 94.0L220.4 88.0Z" fill="#0070ff"/><path d="M-2.0 -1.0L95.7 -1.0L95.7 0.0L75.7 40.0L66.7 100.0L65.7 175.0L-3.0 175.0L-3.0 -1.0ZM197.0 -1.0L203.6 -1.0L204.6 1.0L207.0 8.0L205.2 14.0L208.3 18.0L208.9 20.0L206.9 25.0L209.0 27.6L211.4 32.0L212.4 36.0L216.2 39.0L216.4 40.0L214.6 45.0L212.4 48.0L212.0 51.2L211.3 47.0L212.0 44.6L212.0 41.0L208.5 39.0L207.0 35.1L205.0 32.3L203.9 31.0L200.0 28.2L199.3 27.0L199.4 25.0L201.2 21.0L201.0 19.9L197.8 17.0L196.9 15.0L197.3 13.0L199.4 8.0L196.5 1.0L196.5 -1.0Z" fill="#0080ff"/><path d="M199.0 -0.4L199.6 -1.0L201.0 -0.5L204.6 8.0L202.1 14.0L206.5 20.0L203.8 26.0L207.2 29.0L210.0 34.0L211.0 37.9L214.5 40.0L214.0 42.2L213.0 40.0L209.7 38.0L208.3 34.0L206.0 30.5L201.7 27.0L201.5 26.0L204.0 20.0L199.4 15.0L202.1 8.0L198.8 0.0Z" fill="#008fff"/></g><path d="M0.0 0.0L5.20 0.00M10.8 0.0L15.95 0.00M21.5 0.0L26.70 0.00M32.2 0.0L37.45 0.00M43.0 0.0L48.20 0.00M53.8 0.0L58.95 0.00M64.5 0.0L69.70 0.00M75.2 0.0L80.45 0.00M86.0 0.0L91.20 0.00M96.8 0.0L101.95 0.00M107.5 0.0L112.68 0.11M118.2 0.0L123.41 0.27M129.0 0.0L134.13 0.42M139.8 0.0L144.86 0.58M150.5 0.0L155.58 0.74M161.2 0.0L166.31 0.90M172.0 0.0L177.04 1.06M182.8 0.0L187.78 1.17M193.5 0.0L198.53 1.17M0.0 10.8L5.20 10.83M10.8 10.8L15.95 10.83M21.5 10.8L26.70 10.83M32.2 10.8L37.45 10.83M43.0 10.8L48.20 10.83M53.8 10.8L58.95 10.83M64.5 10.8L69.70 10.83M75.2 10.8L80.45 10.83M86.0 10.8L91.20 10.83M96.8 10.8L101.95 10.83M107.5 10.8L112.68 10.94M118.2 10.8L123.41 11.10M129.0 10.8L134.13 11.25M139.8 10.8L144.86 11.41M150.5 10.8L155.58 11.57M161.2 10.8L166.31 11.73M172.0 10.8L177.04 11.89M182.8 10.8L187.78 12.00M193.5 10.8L198.53 12.00M0.0 21.7L5.20 21.66M10.8 21.7L15.95 21.66M21.5 21.7L26.70 21.66M32.2 21.7L37.45 21.66M43.0 21.7L48.20 21.66M53.8 21.7L58.95 21.66M64.5 21.7L69.70 21.66M75.2 21.7L80.45 21.66M86.0 21.7L91.20 21.66M96.8 21.7L101.95 21.66M107.5 21.7L112.68 21.77M118.2 21.7L123.41 21.93M129.0 21.7L134.13 22.08M139.8 21.7L144.86 22.24M150.5 21.7L155.58 22.40M161.2 21.7L166.31 22.56M172.0 21.7L177.04 22.72M182.8 21.7L187.78 22.83M193.5 21.7L198.53 22.83M0.0 32.5L5.20 32.49M10.8 32.5L15.95 32.49M21.5 32.5L26.70 32.49M32.2 32.5L37.45 32.49M43.0 32.5L48.20 32.49M53.8 32.5L58.95 32.49M64.5 32.5L69.70 32.49M75.2 32.5L80.45 32.49M86.0 32.5L91.20 32.49M96.8 32.5L101.95 32.49M107.5 32.5L112.68 32.60M118.2 32.5L123.41 32.76M129.0 32.5L134.13 32.91M139.8 32.5L144.86 33.07M150.5 32.5L155.58 33.23M161.2 32.5L166.31 33.39M172.0 32.5L177.04 33.55M182.8 32.5L187.77 33.67M193.5 32.5L198.52 33.67M204.2 32.5L208.41 29.83M0.0 43.3L5.20 43.32M10.8 43.3L15.95 43.32M21.5 43.3L26.70 43.32M32.2 43.3L37.45 43.32M43.0 43.3L48.20 43.32M53.8 43.3L58.95 43.32M64.5 43.3L69.70 43.32M75.2 43.3L80.45 43.32M86.0 43.3L91.20 43.32M96.8 43.3L101.95 43.32M107.5 43.3L112.68 43.43M118.2 43.3L123.41 43.59M129.0 43.3L134.13 43.74M139.8 43.3L144.86 43.90M150.5 43.3L155.58 44.06M161.2 43.3L166.30 44.23M172.0 43.3L177.02 44.41M182.8 43.3L187.75 44.54M193.5 43.3L198.50 44.53M204.2 43.3L209.27 44.51M0.0 54.1L5.20 54.15M10.8 54.1L15.95 54.15M21.5 54.1L26.70 54.15M32.2 54.1L37.45 54.15M43.0 54.1L48.20 54.15M53.8 54.1L58.95 54.15M64.5 54.1L69.70 54.15M75.2 54.1L80.45 54.15M86.0 54.1L91.20 54.15M96.8 54.1L101.95 54.15M107.5 54.1L112.68 54.26M118.2 54.1L123.41 54.42M129.0 54.1L134.13 54.58M139.8 54.1L144.86 54.74M150.5 54.1L155.57 54.91M161.2 54.1L166.26 55.13M172.0 54.1L176.91 55.41M182.8 54.1L187.60 55.60M193.5 54.1L198.38 55.54M204.2 54.1L209.21 55.42M0.0 65.0L5.20 64.98M10.8 65.0L15.95 64.98M21.5 65.0L26.70 64.98M32.2 65.0L37.45 64.98M43.0 65.0L48.20 64.98M53.8 65.0L58.95 64.98M64.5 65.0L69.70 64.98M75.2 65.0L80.45 64.98M86.0 65.0L91.20 64.98M96.8 65.0L101.95 64.98M107.5 65.0L112.68 65.09M118.2 65.0L123.41 65.25M129.0 65.0L134.13 65.41M139.8 65.0L144.85 65.57M150.5 65.0L155.54 65.79M161.2 65.0L166.14 66.17M172.0 65.0L176.61 66.73M182.8 65.0L187.18 67.09M193.5 65.0L198.05 66.90M204.2 65.0L209.06 66.49M0.0 75.8L5.20 75.81M10.8 75.8L15.95 75.81M21.5 75.8L26.70 75.81M32.2 75.8L37.45 75.81M43.0 75.8L48.20 75.81M53.8 75.8L58.95 75.81M64.5 75.8L69.70 75.81M75.2 75.8L80.45 75.81M86.0 75.8L91.20 75.81M96.8 75.8L101.95 75.81M107.5 75.8L112.68 75.92M118.2 75.8L123.41 76.08M129.0 75.8L134.13 76.24M139.8 75.8L144.85 76.41M150.5 75.8L155.51 76.68M161.2 75.8L165.98 77.26M172.0 75.8L176.25 78.18M182.8 75.8L186.69 78.77M193.5 75.8L197.64 78.41M0.0 86.6L5.20 86.64M10.8 86.6L15.95 86.64M21.5 86.6L26.70 86.64M32.2 86.6L37.45 86.64M43.0 86.6L48.20 86.64M53.8 86.6L58.95 86.64M64.5 86.6L69.70 86.64M75.2 86.6L80.45 86.64M86.0 86.6L91.20 86.64M96.8 86.6L101.95 86.64M107.5 86.6L112.68 86.75M118.2 86.6L123.41 86.91M129.0 86.6L134.13 87.07M139.8 86.6L144.85 87.24M150.5 86.6L155.50 87.52M161.2 86.6L165.97 88.12M172.0 86.6L176.21 89.08M182.8 86.6L186.64 89.70M193.5 86.6L197.60 89.32M0.0 97.5L5.20 97.47M10.8 97.5L15.95 97.47M21.5 97.5L26.70 97.47M32.2 97.5L37.45 97.47M43.0 97.5L48.20 97.47M53.8 97.5L58.95 97.47M64.5 97.5L69.70 97.47M75.2 97.5L80.45 97.47M86.0 97.5L91.20 97.47M96.8 97.5L101.95 97.47M107.5 97.5L112.68 97.58M118.2 97.5L123.41 97.74M129.0 97.5L134.13 97.90M139.8 97.5L144.85 98.06M150.5 97.5L155.54 98.29M0.0 108.3L5.20 108.30M10.8 108.3L15.95 108.30M21.5 108.3L26.70 108.30M32.2 108.3L37.45 108.30M43.0 108.3L48.20 108.30M53.8 108.3L58.95 108.30M64.5 108.3L69.70 108.30M75.2 108.3L80.45 108.30M86.0 108.3L91.20 108.30M96.8 108.3L101.95 108.30M107.5 108.3L112.68 108.41M118.2 108.3L123.41 108.57M129.0 108.3L134.13 108.73M139.8 108.3L144.86 108.89M0.0 119.1L5.20 119.13M10.8 119.1L15.95 119.13M21.5 119.1L26.70 119.13M32.2 119.1L37.45 119.13M43.0 119.1L48.20 119.13M53.8 119.1L58.95 119.13M64.5 119.1L69.70 119.13M75.2 119.1L80.45 119.13M86.0 119.1L91.20 119.13M96.8 119.1L101.95 119.13M107.5 119.1L112.68 119.24M118.2 119.1L123.41 119.40M129.0 119.1L134.13 119.56M139.8 119.1L144.86 119.71M150.5 119.1L155.58 119.87M0.0 130.0L5.20 129.96M10.8 130.0L15.95 129.96M21.5 130.0L26.70 129.96M32.2 130.0L37.45 129.96M43.0 130.0L48.20 129.96M53.8 130.0L58.95 129.96M64.5 130.0L69.70 129.96M75.2 130.0L80.45 129.96M86.0 130.0L91.20 129.96M96.8 130.0L101.95 129.96M107.5 130.0L112.68 130.07M118.2 130.0L123.41 130.23M129.0 130.0L134.13 130.38M139.8 130.0L144.86 130.54M0.0 140.8L5.20 140.79M10.8 140.8L15.95 140.79M21.5 140.8L26.70 140.79M32.2 140.8L37.45 140.79M43.0 140.8L48.20 140.79M53.8 140.8L58.95 140.79M64.5 140.8L69.70 140.79M75.2 140.8L80.45 140.79M86.0 140.8L91.20 140.79M96.8 140.8L101.95 140.79M107.5 140.8L112.68 140.90M118.2 140.8L123.41 141.06M129.0 140.8L134.13 141.21M139.8 140.8L144.86 141.37M0.0 151.6L5.20 151.62M10.8 151.6L15.95 151.62M21.5 151.6L26.70 151.62M32.2 151.6L37.45 151.62M43.0 151.6L48.20 151.62M53.8 151.6L58.95 151.62M64.5 151.6L69.70 151.62M75.2 151.6L80.45 151.62M86.0 151.6L91.20 151.62M96.8 151.6L101.95 151.62M107.5 151.6L112.68 151.73M118.2 151.6L123.41 151.89M129.0 151.6L134.13 152.04M139.8 151.6L144.86 152.20M0.0 162.4L5.20 162.45M10.8 162.4L15.95 162.45M21.5 162.4L26.70 162.45M32.2 162.4L37.45 162.45M43.0 162.4L48.20 162.45M53.8 162.4L58.95 162.45M64.5 162.4L69.70 162.45M75.2 162.4L80.45 162.45M86.0 162.4L91.20 162.45M96.8 162.4L101.95 162.45M107.5 162.4L112.68 162.56M118.2 162.4L123.41 162.72M129.0 162.4L134.13 162.87M139.8 162.4L144.86 163.03M0.0 173.3L5.20 173.28M10.8 173.3L15.95 173.28M21.5 173.3L26.70 173.28M32.2 173.3L37.45 173.28M43.0 173.3L48.20 173.28M53.8 173.3L58.95 173.28M64.5 173.3L69.70 173.28M75.2 173.3L80.45 173.28M86.0 173.3L91.20 173.28M96.8 173.3L101.95 173.28M107.5 173.3L112.68 173.39M118.2 173.3L123.41 173.55M129.0 173.3L134.13 173.70" stroke="#001040" stroke-width="1.1" stroke-linecap="round" opacity="0.64" fill="none"/><path d="M6.20 0.00L3.70 0.95L3.70 -0.95ZM16.95 0.00L14.45 0.95L14.45 -0.95ZM27.70 0.00L25.20 0.95L25.20 -0.95ZM38.45 0.00L35.95 0.95L35.95 -0.95ZM49.20 0.00L46.70 0.95L46.70 -0.95ZM59.95 0.00L57.45 0.95L57.45 -0.95ZM70.70 0.00L68.20 0.95L68.20 -0.95ZM81.45 0.00L78.95 0.95L78.95 -0.95ZM92.20 0.00L89.70 0.95L89.70 -0.95ZM102.95 0.00L100.45 0.95L100.45 -0.95ZM113.68 0.13L111.16 1.03L111.20 -0.87ZM124.40 0.32L121.86 1.14L121.96 -0.76ZM135.13 0.51L132.56 1.25L132.71 -0.65ZM145.85 0.70L143.26 1.36L143.47 -0.53ZM156.57 0.88L153.96 1.46L154.24 -0.42ZM167.30 1.07L164.67 1.57L165.00 -0.30ZM178.02 1.26L175.38 1.68L175.77 -0.18ZM188.75 1.40L186.10 1.76L186.53 -0.09ZM199.50 1.40L196.85 1.76L197.28 -0.09ZM6.20 10.83L3.70 11.78L3.70 9.88ZM16.95 10.83L14.45 11.78L14.45 9.88ZM27.70 10.83L25.20 11.78L25.20 9.88ZM38.45 10.83L35.95 11.78L35.95 9.88ZM49.20 10.83L46.70 11.78L46.70 9.88ZM59.95 10.83L57.45 11.78L57.45 9.88ZM70.70 10.83L68.20 11.78L68.20 9.88ZM81.45 10.83L78.95 11.78L78.95 9.88ZM92.20 10.83L89.70 11.78L89.70 9.88ZM102.95 10.83L100.45 11.78L100.45 9.88ZM113.68 10.96L111.16 11.86L111.20 9.96ZM124.40 11.15L121.86 11.97L121.96 10.07ZM135.13 11.34L132.56 12.08L132.71 10.18ZM145.85 11.53L143.26 12.19L143.47 10.30ZM156.57 11.71L153.96 12.29L154.24 10.41ZM167.30 11.90L164.67 12.40L165.00 10.53ZM178.02 12.09L175.38 12.51L175.77 10.65ZM188.75 12.23L186.10 12.59L186.53 10.74ZM199.50 12.23L196.85 12.59L197.28 10.74ZM6.20 21.66L3.70 22.61L3.70 20.71ZM16.95 21.66L14.45 22.61L14.45 20.71ZM27.70 21.66L25.20 22.61L25.20 20.71ZM38.45 21.66L35.95 22.61L35.95 20.71ZM49.20 21.66L46.70 22.61L46.70 20.71ZM59.95 21.66L57.45 22.61L57.45 20.71ZM70.70 21.66L68.20 22.61L68.20 20.71ZM81.45 21.66L78.95 22.61L78.95 20.71ZM92.20 21.66L89.70 22.61L89.70 20.71ZM102.95 21.66L100.45 22.61L100.45 20.71ZM113.68 21.79L111.16 22.69L111.20 20.79ZM124.40 21.98L121.86 22.80L121.96 20.90ZM135.13 22.17L132.56 22.91L132.71 21.01ZM145.85 22.36L143.26 23.02L143.47 21.13ZM156.57 22.54L153.96 23.12L154.24 21.24ZM167.30 22.73L164.67 23.23L165.00 21.36ZM178.02 22.92L175.38 23.34L175.77 21.48ZM188.75 23.06L186.10 23.42L186.53 21.57ZM199.50 23.06L196.85 23.42L197.28 21.57ZM6.20 32.49L3.70 33.44L3.70 31.54ZM16.95 32.49L14.45 33.44L14.45 31.54ZM27.70 32.49L25.20 33.44L25.20 31.54ZM38.45 32.49L35.95 33.44L35.95 31.54ZM49.20 32.49L46.70 33.44L46.70 31.54ZM59.95 32.49L57.45 33.44L57.45 31.54ZM70.70 32.49L68.20 33.44L68.20 31.54ZM81.45 32.49L78.95 33.44L78.95 31.54ZM92.20 32.49L89.70 33.44L89.70 31.54ZM102.95 32.49L100.45 33.44L100.45 31.54ZM113.68 32.62L111.16 33.52L111.20 31.62ZM124.40 32.81L121.86 33.63L121.96 31.73ZM135.13 33.00L132.56 33.74L132.71 31.84ZM145.85 33.19L143.26 33.85L143.47 31.96ZM156.57 33.37L153.96 33.95L154.24 32.07ZM167.30 33.56L164.67 34.06L165.00 32.19ZM178.02 33.75L175.38 34.17L175.77 32.31ZM188.75 33.89L186.10 34.25L186.53 32.40ZM199.50 33.89L196.85 34.25L197.28 32.40ZM209.25 29.29L207.66 31.44L206.63 29.84ZM6.20 43.32L3.70 44.27L3.70 42.37ZM16.95 43.32L14.45 44.27L14.45 42.37ZM27.70 43.32L25.20 44.27L25.20 42.37ZM38.45 43.32L35.95 44.27L35.95 42.37ZM49.20 43.32L46.70 44.27L46.70 42.37ZM59.95 43.32L57.45 44.27L57.45 42.37ZM70.70 43.32L68.20 44.27L68.20 42.37ZM81.45 43.32L78.95 44.27L78.95 42.37ZM92.20 43.32L89.70 44.27L89.70 42.37ZM102.95 43.32L100.45 44.27L100.45 42.37ZM113.68 43.45L111.16 44.35L111.20 42.45ZM124.40 43.64L121.86 44.46L121.96 42.56ZM135.13 43.83L132.56 44.57L132.71 42.67ZM145.85 44.02L143.26 44.68L143.47 42.79ZM156.57 44.21L153.96 44.79L154.24 42.91ZM167.29 44.41L164.66 44.90L165.00 43.03ZM178.00 44.62L175.35 45.02L175.76 43.16ZM188.72 44.77L186.06 45.11L186.51 43.26ZM199.47 44.76L196.82 45.10L197.27 43.25ZM210.24 44.74L207.59 45.09L208.03 43.24ZM6.20 54.15L3.70 55.10L3.70 53.20ZM16.95 54.15L14.45 55.10L14.45 53.20ZM27.70 54.15L25.20 55.10L25.20 53.20ZM38.45 54.15L35.95 55.10L35.95 53.20ZM49.20 54.15L46.70 55.10L46.70 53.20ZM59.95 54.15L57.45 55.10L57.45 53.20ZM70.70 54.15L68.20 55.10L68.20 53.20ZM81.45 54.15L78.95 55.10L78.95 53.20ZM92.20 54.15L89.70 55.10L89.70 53.20ZM102.95 54.15L100.45 55.10L100.45 53.20ZM113.68 54.28L111.16 55.18L111.20 53.28ZM124.40 54.47L121.86 55.29L121.96 53.39ZM135.13 54.66L132.56 55.40L132.71 53.50ZM145.85 54.85L143.26 55.51L143.47 53.62ZM156.56 55.06L153.95 55.63L154.23 53.75ZM167.24 55.33L164.61 55.78L164.97 53.91ZM177.88 55.66L175.22 55.96L175.70 54.12ZM188.55 55.88L185.89 56.08L186.43 54.26ZM199.34 55.82L196.68 56.05L197.20 54.22ZM210.18 55.67L207.52 55.97L207.99 54.13ZM6.20 64.98L3.70 65.93L3.70 64.03ZM16.95 64.98L14.45 65.93L14.45 64.03ZM27.70 64.98L25.20 65.93L25.20 64.03ZM38.45 64.98L35.95 65.93L35.95 64.03ZM49.20 64.98L46.70 65.93L46.70 64.03ZM59.95 64.98L57.45 65.93L57.45 64.03ZM70.70 64.98L68.20 65.93L68.20 64.03ZM81.45 64.98L78.95 65.93L78.95 64.03ZM92.20 64.98L89.70 65.93L89.70 64.03ZM102.95 64.98L100.45 65.93L100.45 64.03ZM113.68 65.11L111.16 66.01L111.20 64.11ZM124.40 65.30L121.86 66.12L121.96 64.22ZM135.13 65.49L132.56 66.23L132.71 64.33ZM145.85 65.69L143.25 66.34L143.47 64.46ZM156.53 65.95L153.91 66.49L154.21 64.61ZM167.11 66.41L164.45 66.74L164.90 64.89ZM177.55 67.08L174.87 67.09L175.55 65.31ZM188.09 67.52L185.42 67.30L186.24 65.59ZM198.97 67.29L196.30 67.19L197.04 65.44ZM210.01 66.79L207.34 66.95L207.91 65.13ZM6.20 75.81L3.70 76.76L3.70 74.86ZM16.95 75.81L14.45 76.76L14.45 74.86ZM27.70 75.81L25.20 76.76L25.20 74.86ZM38.45 75.81L35.95 76.76L35.95 74.86ZM49.20 75.81L46.70 76.76L46.70 74.86ZM59.95 75.81L57.45 76.76L57.45 74.86ZM70.70 75.81L68.20 76.76L68.20 74.86ZM81.45 75.81L78.95 76.76L78.95 74.86ZM92.20 75.81L89.70 76.76L89.70 74.86ZM102.95 75.81L100.45 76.76L100.45 74.86ZM113.68 75.94L111.16 76.84L111.20 74.94ZM124.40 76.13L121.86 76.95L121.96 75.05ZM135.13 76.32L132.56 77.06L132.71 75.17ZM145.84 76.53L143.25 77.18L143.47 75.29ZM156.49 76.85L153.87 77.36L154.19 75.49ZM166.94 77.56L164.27 77.73L164.83 75.92ZM177.13 78.67L174.48 78.28L175.41 76.62ZM187.49 79.37L184.92 78.63L186.06 77.11ZM198.49 78.94L195.87 78.42L196.88 76.81ZM6.20 86.64L3.70 87.59L3.70 85.69ZM16.95 86.64L14.45 87.59L14.45 85.69ZM27.70 86.64L25.20 87.59L25.20 85.69ZM38.45 86.64L35.95 87.59L35.95 85.69ZM49.20 86.64L46.70 87.59L46.70 85.69ZM59.95 86.64L57.45 87.59L57.45 85.69ZM70.70 86.64L68.20 87.59L68.20 85.69ZM81.45 86.64L78.95 87.59L78.95 85.69ZM92.20 86.64L89.70 87.59L89.70 85.69ZM102.95 86.64L100.45 87.59L100.45 85.69ZM113.68 86.77L111.16 87.67L111.20 85.77ZM124.40 86.96L121.86 87.78L121.96 85.88ZM135.13 87.15L132.56 87.89L132.71 86.00ZM145.84 87.36L143.25 88.01L143.47 86.12ZM156.49 87.69L153.86 88.19L154.19 86.32ZM166.92 88.42L164.25 88.58L164.82 86.77ZM177.08 89.59L174.44 89.15L175.39 87.51ZM187.42 90.32L184.87 89.52L186.04 88.02ZM198.44 89.86L195.82 89.29L196.86 87.70ZM6.20 97.47L3.70 98.42L3.70 96.52ZM16.95 97.47L14.45 98.42L14.45 96.52ZM27.70 97.47L25.20 98.42L25.20 96.52ZM38.45 97.47L35.95 98.42L35.95 96.52ZM49.20 97.47L46.70 98.42L46.70 96.52ZM59.95 97.47L57.45 98.42L57.45 96.52ZM70.70 97.47L68.20 98.42L68.20 96.52ZM81.45 97.47L78.95 98.42L78.95 96.52ZM92.20 97.47L89.70 98.42L89.70 96.52ZM102.95 97.47L100.45 98.42L100.45 96.52ZM113.68 97.60L111.16 98.50L111.20 96.60ZM124.40 97.79L121.86 98.61L121.96 96.71ZM135.13 97.98L132.56 98.72L132.71 96.82ZM145.84 98.18L143.25 98.83L143.47 96.95ZM156.52 98.45L153.90 98.99L154.21 97.11ZM6.20 108.30L3.70 109.25L3.70 107.35ZM16.95 108.30L14.45 109.25L14.45 107.35ZM27.70 108.30L25.20 109.25L25.20 107.35ZM38.45 108.30L35.95 109.25L35.95 107.35ZM49.20 108.30L46.70 109.25L46.70 107.35ZM59.95 108.30L57.45 109.25L57.45 107.35ZM70.70 108.30L68.20 109.25L68.20 107.35ZM81.45 108.30L78.95 109.25L78.95 107.35ZM92.20 108.30L89.70 109.25L89.70 107.35ZM102.95 108.30L100.45 109.25L100.45 107.35ZM113.68 108.43L111.16 109.33L111.20 107.43ZM124.40 108.62L121.86 109.44L121.96 107.54ZM135.13 108.81L132.56 109.55L132.71 107.65ZM145.85 109.00L143.26 109.66L143.47 107.77ZM6.20 119.13L3.70 120.08L3.70 118.18ZM16.95 119.13L14.45 120.08L14.45 118.18ZM27.70 119.13L25.20 120.08L25.20 118.18ZM38.45 119.13L35.95 120.08L35.95 118.18ZM49.20 119.13L46.70 120.08L46.70 118.18ZM59.95 119.13L57.45 120.08L57.45 118.18ZM70.70 119.13L68.20 120.08L68.20 118.18ZM81.45 119.13L78.95 120.08L78.95 118.18ZM92.20 119.13L89.70 120.08L89.70 118.18ZM102.95 119.13L100.45 120.08L100.45 118.18ZM113.68 119.26L111.16 120.16L111.20 118.26ZM124.40 119.45L121.86 120.27L121.96 118.37ZM135.13 119.64L132.56 120.38L132.71 118.48ZM145.85 119.83L143.26 120.49L143.47 118.60ZM156.57 120.02L153.96 120.60L154.23 118.72ZM6.20 129.96L3.70 130.91L3.70 129.01ZM16.95 129.96L14.45 130.91L14.45 129.01ZM27.70 129.96L25.20 130.91L25.20 129.01ZM38.45 129.96L35.95 130.91L35.95 129.01ZM49.20 129.96L46.70 130.91L46.70 129.01ZM59.95 129.96L57.45 130.91L57.45 129.01ZM70.70 129.96L68.20 130.91L68.20 129.01ZM81.45 129.96L78.95 130.91L78.95 129.01ZM92.20 129.96L89.70 130.91L89.70 129.01ZM102.95 129.96L100.45 130.91L100.45 129.01ZM113.68 130.09L111.16 130.99L111.20 129.09ZM124.40 130.28L121.86 131.10L121.96 129.20ZM135.13 130.47L132.56 131.21L132.71 129.31ZM145.85 130.66L143.26 131.32L143.47 129.43ZM6.20 140.79L3.70 141.74L3.70 139.84ZM16.95 140.79L14.45 141.74L14.45 139.84ZM27.70 140.79L25.20 141.74L25.20 139.84ZM38.45 140.79L35.95 141.74L35.95 139.84ZM49.20 140.79L46.70 141.74L46.70 139.84ZM59.95 140.79L57.45 141.74L57.45 139.84ZM70.70 140.79L68.20 141.74L68.20 139.84ZM81.45 140.79L78.95 141.74L78.95 139.84ZM92.20 140.79L89.70 141.74L89.70 139.84ZM102.95 140.79L100.45 141.74L100.45 139.84ZM113.68 140.92L111.16 141.82L111.20 139.92ZM124.40 141.11L121.86 141.93L121.96 140.03ZM135.13 141.30L132.56 142.04L132.71 140.14ZM145.85 141.49L143.26 142.15L143.47 140.26ZM6.20 151.62L3.70 152.57L3.70 150.67ZM16.95 151.62L14.45 152.57L14.45 150.67ZM27.70 151.62L25.20 152.57L25.20 150.67ZM38.45 151.62L35.95 152.57L35.95 150.67ZM49.20 151.62L46.70 152.57L46.70 150.67ZM59.95 151.62L57.45 152.57L57.45 150.67ZM70.70 151.62L68.20 152.57L68.20 150.67ZM81.45 151.62L78.95 152.57L78.95 150.67ZM92.20 151.62L89.70 152.57L89.70 150.67ZM102.95 151.62L100.45 152.57L100.45 150.67ZM113.68 151.75L111.16 152.65L111.20 150.75ZM124.40 151.94L121.86 152.76L121.96 150.86ZM135.13 152.13L132.56 152.87L132.71 150.97ZM145.85 152.32L143.26 152.98L143.47 151.09ZM6.20 162.45L3.70 163.40L3.70 161.50ZM16.95 162.45L14.45 163.40L14.45 161.50ZM27.70 162.45L25.20 163.40L25.20 161.50ZM38.45 162.45L35.95 163.40L35.95 161.50ZM49.20 162.45L46.70 163.40L46.70 161.50ZM59.95 162.45L57.45 163.40L57.45 161.50ZM70.70 162.45L68.20 163.40L68.20 161.50ZM81.45 162.45L78.95 163.40L78.95 161.50ZM92.20 162.45L89.70 163.40L89.70 161.50ZM102.95 162.45L100.45 163.40L100.45 161.50ZM113.68 162.58L111.16 163.48L111.20 161.58ZM124.40 162.77L121.86 163.59L121.96 161.69ZM135.13 162.96L132.56 163.70L132.71 161.80ZM145.85 163.15L143.26 163.81L143.47 161.92ZM6.20 173.28L3.70 174.23L3.70 172.33ZM16.95 173.28L14.45 174.23L14.45 172.33ZM27.70 173.28L25.20 174.23L25.20 172.33ZM38.45 173.28L35.95 174.23L35.95 172.33ZM49.20 173.28L46.70 174.23L46.70 172.33ZM59.95 173.28L57.45 174.23L57.45 172.33ZM70.70 173.28L68.20 174.23L68.20 172.33ZM81.45 173.28L78.95 174.23L78.95 172.33ZM92.20 173.28L89.70 174.23L89.70 172.33ZM102.95 173.28L100.45 174.23L100.45 172.33ZM113.68 173.41L111.16 174.31L111.20 172.41ZM124.40 173.60L121.86 174.42L121.96 172.52ZM135.13 173.79L132.56 174.53L132.71 172.63Z" fill="#001040" stroke="#001040" stroke-width="0.5" stroke-linejoin="round" opacity="0.76"/><circle cx="184.00" cy="70.20" r="4.6" fill="#f00" stroke="#000" stroke-width="1.4"/></g></g>
<rect x="403.1" y="332.4" width="241.10" height="184.10" fill="none" stroke="#555" stroke-width="1.1"/>
<text x="463.9" y="319.8" font-size="15.4" fill="#111" textLength="122" lengthAdjust="spacingAndGlyphs">20111004_121000</text>
<rect x="97.8" y="589.4" width="238.70" height="182.90" fill="#fff"/>
<path d="M140.7 589.4v2.5M140.7 772.3v-2.5M184.3 589.4v2.5M184.3 772.3v-2.5M228.0 589.4v2.5M228.0 772.3v-2.5M271.6 589.4v2.5M271.6 772.3v-2.5M315.3 589.4v2.5M315.3 772.3v-2.5M97.8 605.8h2.5M336.5 605.8h-2.5M97.8 649.5h2.5M336.5 649.5h-2.5M97.8 693.2h2.5M336.5 693.2h-2.5M97.8 736.9h2.5M336.5 736.9h-2.5" stroke="#333" stroke-width="1" fill="none"/>
<g clip-path="url(#ax4)"><g transform="translate(98.3 595.3) scale(1.00000 1.00092)"><g clip-path="url(#sea)"><rect x="-5" y="-2" width="230" height="177.3" fill="#00008f"/><path d="M-2.0 -1.0L221.0 -1.0L221.0 175.0L-3.0 175.0L-3.0 -1.0ZM202.8 77.0L203.0 77.3L203.0 76.8ZM201.6 79.0L202.0 79.4L202.0 78.4ZM200.9 80.0L201.0 81.1L201.0 79.9ZM199.7 82.0L200.0 82.6L200.3 82.0L200.0 81.5ZM198.6 84.0L199.0 84.4L199.3 84.0L199.0 83.3Z" fill="#00009f"/><path d="M-2.0 -1.0L221.0 -1.0L221.0 175.0L-3.0 175.0L-3.0 -1.0ZM203.8 75.0L204.0 75.4L204.0 74.7ZM202.7 77.0L203.0 77.6L203.0 76.5ZM201.5 79.0L202.0 79.6L202.3 79.0L202.0 78.1ZM200.7 80.0L199.5 82.0L200.0 82.9L201.2 81.0L201.4 80.0L201.0 79.6ZM198.5 84.0L199.0 84.6L199.4 84.0L199.0 83.0ZM197.9 85.0L198.0 86.1L198.0 84.8Z" fill="#0000af"/><path d="M-2.0 -1.0L221.0 -1.0L221.0 175.0L-3.0 175.0L-3.0 -1.0ZM204.8 73.0L205.0 73.3L205.0 72.7ZM203.7 75.0L204.0 75.8L204.0 74.5ZM202.5 77.0L197.4 86.0L198.0 86.3L201.3 81.0L203.4 77.0L203.0 76.3ZM196.1 87.0L197.0 87.2L197.0 86.4ZM194.8 88.0L195.7 88.0L195.0 87.9ZM193.7 89.0L194.4 89.0L194.0 88.7ZM192.7 90.0L193.3 90.0L193.0 89.7Z" fill="#0000bf"/><path d="M-2.0 -1.0L221.0 -1.0L221.0 175.0L-3.0 175.0L-3.0 -1.0ZM204.7 73.0L205.0 73.6L205.0 72.5ZM203.5 75.0L203.3 76.0L200.4 80.0L197.0 86.0L193.5 89.0L194.0 89.4L198.4 86.0L204.0 76.1L204.4 75.0L204.0 74.2ZM192.4 90.0L193.0 90.3L193.4 90.0L193.0 89.5Z" fill="#0000cf"/><path d="M-2.0 -1.0L221.0 -1.0L221.0 175.0L-3.0 175.0L-3.0 -1.0ZM204.5 73.0L205.0 73.9L205.4 73.0L205.0 72.2ZM204.0 74.0L197.0 85.8L192.2 90.0L193.0 90.4L198.5 86.0L204.2 76.0L204.5 75.0L204.0 74.0ZM191.4 91.0L192.0 91.1L192.0 90.6Z" fill="#0000df"/><path d="M-2.0 -1.0L221.0 -1.0L221.0 175.0L-3.0 175.0L-3.0 -1.0ZM205.7 71.0L206.0 71.5L206.0 70.4ZM205.0 72.0L197.0 85.5L190.9 91.0L191.0 91.3L193.0 90.6L198.6 86.0L204.3 76.0L205.5 73.0L205.0 72.0ZM189.8 92.0L190.5 92.0L190.0 91.8ZM187.4 93.0L189.1 93.0L188.0 92.9Z" fill="#0000ef"/><path d="M-2.0 -1.0L221.0 -1.0L221.0 175.0L-3.0 175.0L-3.0 -1.0ZM205.5 71.0L197.0 85.2L189.5 92.0L190.0 92.4L195.0 89.3L198.7 86.0L204.4 76.0L206.3 71.0L206.0 70.1ZM180.6 92.0L182.6 92.0L181.0 91.9ZM186.6 93.0L189.4 93.0L189.0 92.6L187.0 92.8Z" fill="#0000ff"/><path d="M-2.0 -1.0L221.0 -1.0L221.0 175.0L-3.0 175.0L-3.0 -1.0ZM205.9 70.0L196.1 86.0L189.0 92.4L185.8 93.0L189.0 93.3L198.1 87.0L204.1 77.0L207.1 70.0L206.0 69.9ZM180.0 92.0L184.4 92.0L181.0 91.7L180.0 92.0Z" fill="#0010ff"/><path d="M-2.0 -1.0L221.0 -1.0L221.0 175.0L-3.0 175.0L-3.0 -1.0ZM207.6 69.0L208.0 69.2L208.0 68.8ZM205.7 70.0L196.7 85.0L189.0 92.1L187.0 92.3L181.0 91.5L179.4 92.0L189.0 93.5L198.0 87.2L204.2 77.0L207.3 70.0L207.0 69.6L206.0 69.7Z" fill="#0020ff"/><path d="M-2.0 -1.0L221.0 -1.0L221.0 175.0L-3.0 175.0L-3.0 -1.0ZM207.3 69.0L205.5 70.0L196.5 85.0L189.0 91.9L188.0 92.2L181.0 91.3L178.8 92.0L189.0 93.6L198.0 87.4L203.3 79.0L206.7 71.0L208.4 69.0L208.0 68.7Z" fill="#0030ff"/><path d="M-2.0 -1.0L221.0 -1.0L221.0 175.0L-3.0 175.0L-3.0 -1.0ZM207.0 69.0L205.3 70.0L196.3 85.0L189.0 91.6L188.0 92.0L180.0 91.1L179.0 91.2L178.2 92.0L189.0 93.7L198.0 87.6L203.5 79.0L206.8 71.0L208.6 69.0L208.0 68.5L207.0 69.0Z" fill="#0040ff"/><path d="M-2.0 -1.0L221.0 -1.0L221.0 175.0L-3.0 175.0L-3.0 -1.0ZM208.9 68.0L205.1 70.0L196.1 85.0L189.0 91.3L188.0 91.7L181.0 90.9L176.5 91.0L177.5 92.0L179.0 92.3L189.0 93.8L194.0 90.7L198.0 87.7L199.5 86.0L204.6 77.0L206.9 71.0L208.8 69.0L209.0 68.0Z" fill="#0050ff"/><path d="M-2.0 -1.0L221.0 -1.0L221.0 175.0L-3.0 175.0L-3.0 -1.0ZM208.5 68.0L205.0 69.9L196.0 84.6L189.0 91.1L188.0 91.5L179.0 90.5L175.0 91.0L179.0 92.5L189.0 94.0L193.0 91.6L198.0 87.9L199.6 86.0L204.8 77.0L207.0 71.0L210.0 68.0L209.0 67.8Z" fill="#0060ff"/><path d="M-2.0 -1.0L221.0 -1.0L221.0 175.0L-3.0 175.0L-3.0 -1.0ZM208.2 68.0L205.0 69.6L196.0 84.1L188.6 91.0L188.0 91.3L179.0 90.3L173.9 91.0L179.0 92.6L189.0 94.1L193.0 91.7L198.1 88.0L199.8 86.0L204.5 78.0L207.2 71.0L210.2 68.0L210.0 67.5L209.0 67.6Z" fill="#0070ff"/><path d="M-2.0 -1.0L221.0 -1.0L221.0 175.0L-3.0 175.0L-3.0 -1.0ZM210.9 66.0L210.4 67.0L211.0 67.2L211.0 65.8ZM207.8 68.0L205.5 69.0L204.5 70.0L195.0 84.9L188.1 91.0L179.0 90.0L172.9 91.0L177.0 92.4L188.0 94.2L189.0 94.3L192.0 92.6L198.3 88.0L200.6 85.0L204.6 78.0L207.4 71.0L210.4 68.0L210.0 67.2L208.0 67.9Z" fill="#0080ff"/><path d="M-2.0 -1.0L221.0 -1.0L221.0 175.0L-3.0 175.0L-3.0 -1.0ZM210.6 66.0L209.8 67.0L205.0 69.1L198.3 79.0L195.4 84.0L188.0 90.7L179.0 89.7L175.0 90.2L172.4 91.0L177.0 92.5L189.0 94.4L194.0 91.4L199.5 87.0L204.8 78.0L207.6 71.0L211.0 67.5L211.3 66.0L211.0 65.4Z" fill="#008fff"/><path d="M-2.0 -1.0L221.0 -1.0L221.0 175.0L-3.0 175.0L-3.0 -1.0ZM211.8 64.0L212.0 64.4L212.0 63.7ZM210.4 66.0L209.3 67.0L204.7 69.0L197.3 80.0L195.1 84.0L188.0 90.4L183.0 89.6L178.0 89.4L173.0 90.3L171.9 91.0L177.0 92.7L189.0 94.6L194.0 91.6L198.8 88.0L200.3 86.0L205.0 78.0L207.8 71.0L211.4 67.0L211.5 66.0L211.0 65.1Z" fill="#009fff"/><path d="M-2.0 -1.0L221.0 -1.0L221.0 175.0L-3.0 175.0L-3.0 -1.0ZM211.6 64.0L210.0 66.3L204.4 69.0L197.5 79.0L194.6 84.0L188.0 90.1L183.0 89.2L178.0 89.0L171.9 90.0L171.6 91.0L176.0 92.7L189.0 94.7L194.0 91.8L199.0 88.1L200.5 86.0L205.1 78.0L208.0 71.0L211.5 67.0L212.2 64.0L212.0 63.1ZM168.8 85.0L169.0 87.0L169.0 84.5Z" fill="#00afff"/><path d="M-2.0 -1.0L221.0 -1.0L221.0 175.0L-3.0 175.0L-3.0 -1.0ZM211.8 63.0L210.0 66.0L204.1 69.0L194.0 83.9L188.0 89.6L179.0 88.5L170.2 90.0L172.0 91.5L174.0 92.4L186.0 94.6L189.0 94.9L193.0 92.7L199.0 88.3L201.4 85.0L205.4 78.0L208.0 71.3L211.2 68.0L212.4 64.0L212.0 62.7ZM167.5 84.0L169.0 87.8L169.8 87.0L169.8 84.0L168.0 83.3Z" fill="#00bfff"/><path d="M-2.0 -1.0L221.0 -1.0L221.0 175.0L-3.0 175.0L-3.0 -1.0ZM211.6 63.0L209.7 66.0L203.7 69.0L196.4 79.0L194.0 83.3L188.0 89.0L179.0 88.0L171.0 89.2L170.4 89.0L170.6 84.0L169.7 83.0L167.0 82.5L166.5 83.0L168.3 86.0L169.0 88.4L169.8 89.0L169.8 90.0L174.0 92.6L188.0 95.0L190.0 94.7L194.0 92.3L199.6 88.0L202.2 84.0L205.6 78.0L208.0 71.7L211.4 68.0L212.5 64.0L212.0 62.4Z" fill="#00cfff"/><path d="M-2.0 -1.0L221.0 -1.0L221.0 175.0L-3.0 175.0L-3.0 -1.0ZM212.9 59.0L212.7 61.0L209.4 66.0L204.6 68.0L203.3 69.0L196.5 78.0L193.4 83.0L188.0 88.2L179.0 87.3L172.0 88.5L171.2 88.0L171.2 83.0L170.0 82.3L167.0 81.8L165.9 83.0L167.5 85.0L169.5 90.0L171.0 91.3L174.0 92.8L188.0 95.2L190.0 94.9L195.0 91.8L199.0 88.8L200.6 87.0L205.8 78.0L208.0 72.0L211.6 68.0L213.1 62.0L213.0 58.7Z" fill="#00dfff"/><path d="M-2.0 -1.0L221.0 -1.0L221.0 175.0L-3.0 175.0L-3.0 -1.0ZM213.0 58.0L212.3 61.0L209.1 66.0L204.0 68.0L203.0 68.9L195.7 78.0L193.0 82.4L188.0 87.2L187.0 87.7L183.0 86.6L179.0 86.4L173.0 87.7L172.1 87.0L172.5 84.0L172.0 82.3L170.0 81.3L167.0 81.1L165.4 83.0L167.2 85.0L169.3 90.0L173.0 92.7L180.0 94.3L188.0 95.4L190.0 95.2L196.0 91.3L199.1 89.0L200.8 87.0L205.5 79.0L208.2 72.0L211.8 68.0L213.3 62.0L213.0 57.9Z" fill="#00efff"/><path d="M-2.0 -1.0L221.0 -1.0L221.0 175.0L-3.0 175.0L-3.0 -1.0ZM212.7 58.0L211.5 62.0L209.0 65.7L203.0 68.4L194.6 78.0L192.1 82.0L187.0 86.8L183.0 85.4L180.0 85.1L174.0 86.8L173.2 86.0L173.7 83.0L173.0 81.2L169.0 80.1L167.0 80.5L165.0 83.0L167.0 85.1L169.0 90.0L171.0 91.8L174.0 93.3L188.0 95.6L190.0 95.4L196.0 91.6L200.4 88.0L205.8 79.0L208.5 72.0L212.0 68.0L213.4 62.0L213.0 57.2Z" fill="#00ffff"/><path d="M-2.0 -1.0L221.0 -1.0L221.0 175.0L-3.0 175.0L-3.0 -1.0ZM212.8 56.0L211.6 61.0L209.0 65.3L202.8 68.0L193.8 77.0L191.0 81.0L189.0 82.4L187.0 85.0L183.0 83.1L181.0 82.7L179.0 83.1L175.0 85.1L175.7 81.0L175.0 79.9L170.0 79.0L167.0 79.7L165.0 81.7L164.5 83.0L167.0 85.6L169.0 90.5L172.0 92.7L174.0 93.5L182.0 95.1L189.0 95.9L192.0 94.5L199.0 89.6L200.7 88.0L204.4 82.0L206.5 78.0L208.8 72.0L212.3 68.0L213.6 62.0L213.0 55.8Z" fill="#10ffef"/><path d="M-2.0 -1.0L221.0 -1.0L221.0 175.0L-3.0 175.0L-3.0 -1.0ZM212.5 56.0L211.3 61.0L208.8 65.0L203.0 67.4L197.0 72.9L193.0 75.3L188.0 77.6L179.0 75.7L169.0 78.0L167.0 78.9L164.9 81.0L164.1 83.0L166.3 85.0L169.0 90.9L171.0 92.4L174.0 93.8L182.0 95.4L189.0 96.1L194.0 93.6L200.0 89.2L205.8 80.0L209.0 72.1L212.5 68.0L213.8 62.0L213.6 58.0L213.0 55.4Z" fill="#20ffdf"/><path d="M-2.0 -1.0L221.0 -1.0L221.0 175.0L-3.0 175.0L-3.0 -1.0ZM212.0 52.0L212.0 58.1L211.0 61.2L208.0 65.3L202.7 67.0L198.0 70.8L195.0 72.5L192.0 73.0L186.0 71.9L180.0 72.0L169.0 76.8L166.0 78.8L164.2 81.0L163.6 83.0L166.0 85.2L169.0 91.3L172.0 93.4L175.0 94.4L189.0 96.4L193.0 94.5L200.0 89.5L205.6 81.0L209.0 72.7L212.7 68.0L213.9 62.0L213.9 59.0L213.5 56.0L212.3 54.0L212.0 51.9Z" fill="#30ffcf"/><path d="M-2.0 -1.0L221.0 -1.0L221.0 175.0L-3.0 175.0L-3.0 -1.0ZM211.9 51.0L211.5 54.0L212.0 57.0L210.7 61.0L207.9 65.0L202.0 66.8L198.0 69.5L195.0 70.6L192.0 70.6L185.0 69.2L179.0 69.8L174.0 72.3L166.0 77.8L163.5 81.0L163.1 83.0L166.0 85.8L169.0 91.7L172.0 93.7L175.0 94.7L189.0 96.7L191.0 96.0L195.0 93.6L200.9 89.0L206.4 80.0L209.1 73.0L212.9 68.0L214.1 62.0L214.0 57.7L212.0 50.8Z" fill="#40ffbf"/><path d="M-2.0 -1.0L221.0 -1.0L221.0 175.0L-3.0 175.0L-3.0 -1.0ZM211.6 51.0L211.2 54.0L211.7 57.0L211.0 59.2L210.0 61.6L208.0 64.3L207.0 64.9L202.0 66.2L196.0 68.7L193.0 68.6L185.0 67.1L179.0 67.8L174.0 70.3L167.0 75.6L163.2 80.0L162.6 83.0L165.6 86.0L168.8 92.0L172.0 94.1L174.0 94.8L182.0 96.3L189.0 96.9L191.0 96.4L194.0 94.6L201.0 89.4L206.3 81.0L209.5 73.0L213.2 68.0L214.4 62.0L214.2 57.0L212.0 50.0Z" fill="#50ffaf"/><path d="M-2.0 -1.0L221.0 -1.0L221.0 175.0L-3.0 175.0L-3.0 -1.0ZM211.6 50.0L211.0 54.0L211.3 57.0L211.0 58.2L209.9 61.0L207.0 64.4L196.0 67.1L186.0 65.4L180.0 65.8L174.0 68.4L167.0 74.2L162.8 79.0L161.9 82.0L162.1 83.0L165.0 86.0L168.3 92.0L172.0 94.6L174.0 95.3L181.0 96.6L189.0 97.3L193.0 95.6L201.0 89.9L206.7 81.0L209.9 73.0L212.4 70.0L213.5 68.0L214.6 62.0L214.4 57.0L212.0 49.3Z" fill="#60ff9f"/><path d="M-2.0 -1.0L221.0 -1.0L221.0 175.0L-3.0 175.0L-3.0 -1.0ZM211.6 49.0L210.6 54.0L210.9 57.0L210.6 58.0L209.4 61.0L206.7 64.0L197.0 65.5L187.0 63.8L181.0 64.0L177.4 65.0L174.0 66.7L168.0 71.5L162.4 78.0L161.2 81.0L161.5 83.0L165.0 86.9L168.0 92.3L171.0 94.5L174.0 95.7L180.0 96.8L189.0 97.6L191.0 97.1L194.0 95.4L201.4 90.0L205.5 84.0L208.1 79.0L210.0 73.6L213.0 69.8L213.7 68.0L214.8 62.0L214.6 57.0L212.0 48.4Z" fill="#70ff8f"/><path d="M-2.0 -1.0L221.0 -1.0L221.0 175.0L-3.0 175.0L-3.0 -1.0ZM211.9 47.0L211.0 49.3L210.4 53.0L210.2 58.0L208.8 61.0L206.0 63.6L198.0 64.2L187.0 62.2L181.0 62.5L177.0 63.6L174.0 65.0L170.0 67.8L167.0 70.7L161.2 78.0L160.4 81.0L161.0 83.0L164.1 87.0L168.0 93.0L172.0 95.6L175.0 96.4L182.0 97.5L189.0 98.0L191.0 97.5L195.0 95.3L202.0 90.0L206.5 83.0L208.5 79.0L210.3 74.0L213.3 70.0L214.0 68.0L215.1 62.0L214.9 57.0L213.4 53.0L212.0 46.9Z" fill="#80ff80"/><path d="M-2.0 -1.0L221.0 -1.0L221.0 175.0L-3.0 175.0L-3.0 -1.0ZM211.6 47.0L210.9 48.0L209.8 54.0L209.6 58.0L208.0 61.0L205.5 63.0L199.0 63.0L188.0 60.8L182.0 60.8L178.0 61.7L174.0 63.4L170.1 66.0L167.0 68.9L161.0 76.4L159.8 79.0L159.6 81.0L160.3 83.0L168.0 93.8L171.0 95.7L174.0 96.8L181.0 97.9L189.0 98.4L192.0 97.5L195.0 95.8L202.6 90.0L207.6 82.0L210.7 74.0L213.7 70.0L214.4 68.0L215.4 62.0L215.1 57.0L213.7 53.0L212.5 47.0L212.0 46.5Z" fill="#8fff70"/><path d="M-2.0 -1.0L221.0 -1.0L221.0 175.0L-3.0 175.0L-3.0 -1.0ZM213.0 45.0L210.5 48.0L209.2 54.0L208.9 58.0L207.0 60.9L205.0 62.2L200.1 62.0L188.0 59.3L182.0 59.3L178.0 60.2L173.7 62.0L170.0 64.3L166.0 68.0L160.0 76.0L158.7 79.0L158.6 81.0L159.4 83.0L163.0 88.6L167.2 94.0L171.0 96.4L174.0 97.4L181.0 98.5L189.0 98.9L191.0 98.5L195.0 96.4L202.3 91.0L207.7 83.0L211.3 74.0L214.6 69.0L215.7 63.0L215.5 58.0L212.7 48.0L213.0 45.0Z" fill="#9fff60"/><path d="M-2.0 -1.0L221.0 -1.0L221.0 175.0L-3.0 175.0L-3.0 -1.0ZM212.6 45.0L210.1 48.0L208.0 58.0L206.4 60.0L205.0 60.9L202.0 61.2L189.0 57.9L182.0 57.9L177.0 59.0L173.0 60.8L169.0 63.4L166.0 66.1L159.2 75.0L157.9 78.0L157.5 81.0L158.3 83.0L160.4 85.0L163.0 90.2L166.1 94.0L169.0 96.2L173.0 97.9L181.0 99.1L189.0 99.4L192.0 98.6L196.0 96.4L203.1 91.0L208.3 83.0L211.5 75.0L214.2 71.0L215.2 68.0L216.1 63.0L215.8 57.0L213.0 48.0L213.5 46.0L213.0 44.3Z" fill="#afff50"/><path d="M-2.0 -1.0L221.0 -1.0L221.0 175.0L-3.0 175.0L-3.0 -1.0ZM212.7 44.0L209.6 48.0L207.2 57.0L205.0 59.3L202.0 59.9L190.0 56.6L182.0 56.4L177.0 57.5L173.0 59.2L169.0 61.6L165.2 65.0L161.8 69.0L158.4 74.0L156.7 78.0L156.2 81.0L157.0 83.4L160.0 85.1L164.0 93.5L168.0 96.6L172.0 98.4L179.0 99.6L188.0 100.1L191.0 99.7L193.0 98.8L198.0 95.8L203.0 92.0L205.5 89.0L208.6 84.0L210.5 80.0L212.2 75.0L214.8 71.0L215.5 69.0L216.5 63.0L216.2 57.0L213.6 49.0L213.9 45.0L213.7 44.0L213.0 43.5Z" fill="#bfff40"/><path d="M-2.0 -1.0L221.0 -1.0L221.0 175.0L-3.0 175.0L-3.0 -1.0ZM213.9 41.0L212.0 44.5L209.1 48.0L206.0 55.5L204.0 57.6L201.0 57.7L189.0 54.9L181.0 55.0L176.0 56.3L171.0 58.6L167.0 61.4L163.2 65.0L160.0 69.0L157.0 74.0L155.4 78.0L154.8 82.0L156.0 85.1L157.0 85.6L160.0 85.9L162.5 93.0L164.0 95.3L168.0 97.8L173.0 99.6L181.0 100.6L189.0 100.7L192.0 100.0L195.0 98.5L200.0 95.3L204.0 92.0L209.4 84.0L212.6 76.0L215.0 72.0L216.1 69.0L217.0 63.0L216.7 58.0L213.9 49.0L214.3 45.0L214.0 40.7Z" fill="#cfff30"/><path d="M-2.0 -1.0L221.0 -1.0L221.0 175.0L-3.0 175.0L-3.0 -1.0ZM213.3 40.0L213.4 41.0L211.8 44.0L209.0 47.0L206.0 52.8L204.0 54.7L202.0 55.3L200.0 55.2L187.0 53.1L179.0 53.8L174.0 55.4L170.0 57.4L166.0 60.3L162.0 64.1L158.3 69.0L155.5 74.0L153.7 79.0L153.3 83.0L153.9 86.0L155.0 87.5L156.0 87.7L160.0 86.7L162.2 95.0L163.6 97.0L169.0 99.5L173.0 100.7L181.0 101.6L189.0 101.5L193.0 100.5L197.0 98.3L202.0 94.9L205.2 92.0L210.4 84.0L213.6 76.0L215.9 72.0L216.8 69.0L217.6 63.0L217.3 59.0L216.8 56.0L214.4 49.0L214.7 45.0L214.5 41.0L214.0 39.8Z" fill="#dfff20"/><path d="M-2.0 -1.0L221.0 -1.0L221.0 175.0L-3.0 175.0L-3.0 -1.0ZM210.7 39.0L212.8 41.0L212.0 42.5L211.0 44.2L208.1 47.0L205.5 51.0L203.0 52.7L200.0 53.1L188.0 51.4L180.0 51.9L172.0 54.5L168.0 56.8L164.0 59.9L157.8 67.0L155.0 71.7L153.1 76.0L152.0 80.0L151.7 83.0L152.2 88.0L153.0 89.7L155.0 89.9L160.0 87.5L161.3 96.0L162.0 97.9L163.0 98.8L171.0 101.5L178.0 102.4L187.0 102.6L192.0 101.8L198.0 98.8L204.6 94.0L208.7 89.0L212.6 82.0L214.3 77.0L217.2 71.0L218.2 64.0L217.7 57.0L214.9 49.0L215.2 45.0L214.8 40.0L212.0 38.5L211.0 38.7Z" fill="#efff10"/><path d="M-2.0 -1.0L221.0 -1.0L221.0 175.0L-3.0 175.0L-3.0 -1.0ZM209.6 37.0L209.6 39.0L212.0 41.0L211.6 42.0L210.0 44.3L205.0 49.0L203.0 50.3L199.0 50.7L187.0 49.5L179.0 50.3L174.0 51.8L170.0 53.6L166.0 56.1L162.0 59.5L158.7 63.0L155.2 68.0L151.1 77.0L150.1 82.0L149.9 90.0L150.3 92.0L151.0 92.8L155.3 91.0L159.0 88.6L160.0 88.6L160.5 93.0L160.2 98.0L162.0 100.6L172.0 103.1L181.0 103.9L188.0 103.7L193.0 102.7L199.0 99.6L206.0 94.3L210.2 89.0L213.6 83.0L218.0 72.0L219.0 64.0L218.4 57.0L215.6 49.0L215.8 46.0L215.3 40.0L214.1 39.0L211.0 37.7L210.0 36.5Z" fill="#ffff00"/><path d="M-2.0 -1.0L221.0 -1.0L221.0 175.0L-3.0 175.0L-3.0 -1.0ZM209.4 36.0L208.5 39.0L210.6 42.0L209.0 44.0L204.0 47.3L200.0 48.3L187.0 47.4L178.0 48.5L173.0 50.1L168.0 52.6L164.0 55.3L159.9 59.0L156.5 63.0L153.8 67.0L151.2 72.0L149.4 77.0L148.4 82.0L147.7 91.0L148.0 95.0L149.0 98.1L150.0 98.2L153.7 93.0L159.0 89.2L159.8 90.0L160.0 93.0L159.0 97.0L159.2 99.0L160.0 101.7L161.0 102.8L163.0 103.5L174.0 105.0L186.0 105.3L191.0 104.7L196.0 102.8L202.0 99.3L207.4 95.0L211.4 90.0L215.3 83.0L219.1 73.0L220.1 64.0L219.3 57.0L216.4 49.0L216.6 46.0L215.9 40.0L215.0 38.8L211.0 37.0L210.0 35.6Z" fill="#ffef00"/><path d="M-2.0 -1.0L221.0 -1.0L221.0 59.5L220.3 56.0L217.5 49.0L217.6 46.0L216.8 40.0L215.0 38.1L212.0 37.0L209.0 33.9L207.3 40.0L208.2 43.0L205.0 44.7L200.0 45.7L189.0 45.1L183.0 45.3L178.0 46.2L172.0 48.2L166.0 51.4L161.0 55.2L156.3 60.0L152.7 65.0L149.6 71.0L147.4 77.0L146.5 82.0L145.7 92.0L145.9 102.0L147.0 105.1L148.0 106.2L149.0 105.2L149.5 103.0L153.7 94.0L159.0 89.8L159.7 92.0L158.2 97.0L158.2 102.0L158.9 105.0L160.0 105.7L180.0 107.2L187.0 106.9L192.0 106.1L197.0 104.3L202.0 101.5L207.0 97.9L210.9 94.0L213.8 90.0L216.6 85.0L219.8 77.0L221.0 72.5L221.0 175.0L-3.0 175.0L-3.0 -1.0Z" fill="#ffdf00"/><path d="M-2.0 -1.0L221.0 -1.0L221.0 53.5L219.2 49.0L218.2 41.0L217.5 39.0L216.0 37.5L212.4 36.0L210.8 34.0L209.0 32.8L208.2 33.0L207.0 36.5L205.0 39.7L202.0 41.9L198.0 42.4L187.0 42.2L180.0 43.0L173.0 45.1L166.0 48.6L160.0 52.9L155.0 58.0L150.7 64.0L147.6 70.0L145.5 76.0L144.5 81.0L143.6 90.0L143.5 100.0L144.0 103.9L145.4 108.0L147.0 110.8L149.0 112.1L150.0 110.7L150.6 103.0L153.8 95.0L155.0 93.5L159.0 90.4L159.2 93.0L157.8 96.0L156.9 102.0L155.2 105.0L155.6 107.0L157.0 108.7L159.0 109.3L169.0 108.6L182.0 109.4L192.0 108.4L197.0 106.7L201.0 104.8L206.0 101.7L210.0 98.5L216.3 91.0L218.7 87.0L221.0 81.6L221.0 175.0L-3.0 175.0L-3.0 -1.0Z" fill="#ffcf00"/><path d="M-2.0 -1.0L221.0 -1.0L221.0 43.9L219.6 39.0L218.0 37.1L214.0 35.2L211.0 32.6L208.0 31.3L207.1 32.0L205.0 35.5L202.0 37.3L198.2 38.0L186.0 38.5L178.0 39.8L170.0 42.9L163.0 47.0L157.0 51.8L152.2 57.0L148.1 63.0L145.2 69.0L143.5 74.0L142.2 80.0L141.3 89.0L141.2 99.0L141.7 104.0L144.2 111.0L147.0 114.8L149.0 116.0L150.0 115.9L151.5 114.0L152.0 112.2L153.0 113.2L156.0 113.8L168.0 111.8L180.0 112.4L187.0 112.2L192.0 111.6L196.0 110.5L204.0 106.9L211.0 102.3L216.6 97.0L221.0 91.1L221.0 175.0L-3.0 175.0L-3.0 -1.0ZM159.0 91.0L159.0 91.9L159.0 91.0ZM158.0 91.7L159.0 92.0L158.8 93.0L157.1 96.0L155.8 102.0L153.1 105.0L152.0 111.5L151.1 105.0L151.3 103.0L154.3 95.0L157.6 92.0Z" fill="#ffbf00"/><path d="M-2.0 -1.0L221.0 -1.0L221.0 33.7L215.0 30.7L212.0 30.1L207.0 29.9L205.0 31.4L203.0 32.0L194.0 31.1L190.0 31.5L180.0 33.7L175.0 35.4L167.0 39.4L160.0 44.2L154.0 49.5L149.3 55.0L145.4 61.0L142.5 67.0L140.5 73.0L139.3 79.0L138.6 87.0L138.4 97.0L139.2 104.0L141.8 112.0L143.7 115.0L145.6 117.0L148.0 118.6L150.0 119.1L168.0 116.0L185.0 116.8L194.0 116.3L201.0 114.3L208.0 111.4L215.0 107.5L221.0 103.0L221.0 175.0L-3.0 175.0L-3.0 -1.0ZM157.0 92.8L158.0 92.3L158.4 93.0L156.6 96.0L155.4 101.0L154.0 102.7L152.0 103.8L151.8 103.0L154.7 95.0L156.7 93.0Z" fill="#ffaf00"/><path d="M-2.0 -1.0L168.3 -1.0L170.6 14.0L170.3 19.0L169.1 23.0L165.1 29.0L153.0 41.7L146.3 50.0L141.5 58.0L137.5 68.0L135.7 76.0L134.9 85.0L134.9 96.0L135.6 103.0L137.2 109.0L139.4 114.0L142.5 118.0L146.0 120.4L150.0 121.5L168.0 122.4L174.0 123.4L185.0 127.0L188.7 129.0L191.2 131.0L194.1 135.0L196.4 141.0L203.5 175.0L-3.0 175.0L-3.0 -1.0ZM193.0 -1.0L206.9 -1.0L207.8 1.0L209.8 7.0L209.7 10.0L208.9 13.0L210.5 17.0L210.7 20.0L208.2 25.0L207.9 27.0L207.2 28.0L205.0 29.0L201.0 28.9L197.9 27.0L196.7 25.0L196.1 21.0L193.9 19.0L192.7 17.0L192.1 13.0L193.9 8.0L192.3 3.0L192.3 -1.0ZM156.0 94.0L157.0 93.3L157.4 94.0L156.2 96.0L154.7 101.0L153.0 102.5L152.7 102.0L154.6 96.0L156.0 94.0Z" fill="#ff9f00"/><path d="M-2.0 -1.0L130.8 -1.0L135.5 23.0L136.7 35.0L135.8 44.0L131.1 63.0L129.3 74.0L128.9 82.0L129.1 90.0L130.5 103.0L133.7 113.0L135.4 116.0L137.8 119.0L142.4 122.0L151.3 124.0L158.2 127.0L162.2 130.0L165.2 134.0L167.8 140.0L169.1 147.0L169.2 157.0L168.5 175.0L-3.0 175.0L-3.0 -1.0ZM196.0 -0.4L196.1 -1.0L203.8 -1.0L207.3 7.0L207.3 9.0L206.1 13.0L208.1 18.0L208.4 20.0L207.6 22.0L204.0 27.5L202.0 27.5L200.1 26.0L199.8 24.0L200.3 21.0L199.8 20.0L197.0 17.7L196.0 16.0L196.0 13.0L198.0 8.0L195.9 0.0ZM156.0 94.7L156.0 95.5L155.7 95.0ZM155.0 95.9L155.6 97.0L155.0 98.8L154.6 97.0L154.9 96.0ZM154.0 99.0L154.5 100.0L154.0 101.1L153.7 100.0L154.0 99.0Z" fill="#ff8f00"/><path d="M-2.0 -1.0L99.1 -1.0L109.9 54.0L116.6 97.0L119.4 109.0L121.8 116.0L125.1 121.0L129.0 123.4L136.0 124.8L149.0 125.4L151.0 126.3L153.4 128.0L156.2 131.0L158.5 135.0L160.1 139.0L161.3 145.0L160.8 155.0L158.8 164.0L155.4 175.0L-3.0 175.0L-3.0 -1.0ZM198.0 -1.0L202.2 -1.0L205.9 7.0L205.9 9.0L204.3 14.0L205.8 16.0L207.1 20.0L205.6 23.0L203.0 25.9L201.9 25.0L202.3 21.0L202.1 20.0L198.4 17.0L197.3 15.0L197.7 13.0L199.8 8.0L197.5 1.0L197.8 -1.0ZM155.0 96.7L155.0 97.5L154.9 97.0Z" fill="#ff8000"/><path d="M-2.0 -1.0L59.6 -1.0L95.1 175.0L-3.0 175.0L-3.0 -1.0ZM199.0 -1.0L200.9 -1.0L201.7 0.0L203.3 3.0L205.2 8.0L203.1 14.0L205.0 16.7L206.2 20.0L204.0 23.6L203.5 23.0L203.7 20.0L199.0 16.1L198.4 15.0L198.4 14.0L201.0 8.0L198.5 0.0ZM143.0 127.9L149.0 127.2L151.1 129.0L153.4 132.0L155.5 136.0L157.4 142.0L157.6 148.0L156.9 155.0L155.4 161.0L151.8 171.0L149.8 175.0L123.3 175.0L122.1 172.0L121.6 169.0L121.9 160.0L122.7 155.0L125.4 147.0L130.5 137.0L133.2 133.0L136.8 130.0L142.6 128.0Z" fill="#ff7000"/><path d="M-2.0 -1.0L8.5 -1.0L8.7 175.0L-3.0 175.0L-3.0 -1.0ZM200.0 -0.7L202.5 3.0L204.5 8.0L202.3 14.0L204.3 17.0L205.1 19.0L205.0 19.7L199.2 15.0L201.9 8.0L199.3 0.0ZM148.0 128.8L149.6 130.0L152.7 135.0L154.5 140.0L155.3 144.0L154.5 154.0L152.9 160.0L150.4 167.0L146.3 175.0L129.6 175.0L128.1 171.0L127.8 161.0L128.6 155.0L130.4 149.0L133.4 142.0L138.1 134.0L141.5 131.0L147.1 129.0Z" fill="#ff6000"/><path d="M201.0 1.5L201.3 2.0L201.0 2.8L200.7 2.0ZM202.0 3.3L203.6 8.0L201.6 14.0L201.8 15.0L203.4 17.0L203.0 17.3L199.9 15.0L202.7 8.0L201.5 4.0ZM147.0 130.6L148.0 130.5L150.3 134.0L152.1 138.0L153.2 142.0L153.2 150.0L151.5 158.0L147.2 169.0L143.6 175.0L133.0 175.0L131.5 172.0L131.0 164.0L131.1 159.0L132.4 153.0L135.3 145.0L139.5 137.0L142.8 133.0L146.0 131.0Z" fill="#ff5000"/><path d="M146.0 132.9L147.0 132.3L148.2 133.0L150.3 137.0L151.8 142.0L151.8 149.0L150.7 155.0L146.3 167.0L142.1 174.0L141.3 175.0L135.6 175.0L134.2 173.0L133.6 169.0L133.3 160.0L134.2 155.0L136.5 148.0L138.7 143.0L142.1 137.0L145.8 133.0Z" fill="#ff4000"/><path d="M147.0 134.2L148.0 134.8L148.6 136.0L150.6 142.0L150.6 147.0L149.9 153.0L147.7 160.0L143.7 169.0L140.3 174.0L139.0 174.8L138.0 174.8L136.7 174.0L135.8 172.0L135.1 162.0L135.6 157.0L137.3 151.0L139.7 145.0L143.6 138.0L146.0 135.0Z" fill="#ff3000"/><path d="M147.0 136.2L148.0 137.2L149.5 142.0L149.5 147.0L148.7 153.0L146.5 160.0L142.9 168.0L139.5 173.0L139.0 173.5L138.0 173.4L137.4 172.0L136.6 163.0L137.5 156.0L140.9 146.0L146.3 137.0Z" fill="#ff2000"/><path d="M147.0 138.4L148.0 140.0L148.6 143.0L148.5 148.0L147.7 153.0L145.8 159.0L143.1 165.0L141.1 169.0L139.0 171.8L138.0 162.0L138.8 156.0L142.0 147.0L146.6 139.0Z" fill="#ff1000"/><path d="M147.0 140.8L147.7 143.0L147.7 145.0L146.8 153.0L144.4 160.0L140.0 168.9L139.1 162.0L140.1 156.0L143.3 147.0L146.9 141.0Z" fill="#ff0000"/><path d="M146.0 144.4L146.7 145.0L146.8 146.0L146.2 152.0L144.3 158.0L141.0 165.2L140.3 164.0L140.2 162.0L141.0 157.0L143.3 150.0L145.6 145.0Z" fill="#ef0000"/><path d="M146.0 146.8L146.0 147.6L145.9 147.0ZM145.0 148.5L145.5 149.0L145.4 152.0L142.0 161.2L141.5 160.0L142.0 157.0L144.8 149.0Z" fill="#df0000"/></g><path d="M0.0 0.0L5.57 -2.14M10.8 0.0L16.32 -2.14M21.5 0.0L27.07 -2.14M32.2 0.0L37.82 -2.14M43.0 0.0L48.57 -2.14M53.8 0.0L59.32 -2.14M64.5 0.0L70.07 -2.14M75.2 0.0L80.82 -2.14M86.0 0.0L91.57 -2.14M96.8 0.0L102.32 -2.14M107.5 0.0L113.07 -2.14M118.2 0.0L123.82 -2.14M129.0 0.0L134.57 -2.14M139.8 0.0L145.32 -1.76M150.5 0.0L156.07 -1.35M161.2 0.0L166.82 -0.94M172.0 0.0L177.59 -0.54M182.8 0.0L188.35 -0.24M193.5 0.0L199.10 -0.24M0.0 10.8L5.57 8.69M10.8 10.8L16.32 8.69M21.5 10.8L27.07 8.69M32.2 10.8L37.82 8.69M43.0 10.8L48.57 8.69M53.8 10.8L59.32 8.69M64.5 10.8L70.07 8.69M75.2 10.8L80.82 8.69M86.0 10.8L91.57 8.69M96.8 10.8L102.32 8.69M107.5 10.8L113.07 8.69M118.2 10.8L123.82 8.69M129.0 10.8L134.57 8.70M139.8 10.8L145.31 9.08M150.5 10.8L156.06 9.51M161.2 10.8L166.82 9.92M172.0 10.8L177.58 10.33M182.8 10.8L188.34 10.63M193.5 10.8L199.09 10.62M0.0 21.7L5.57 19.52M10.8 21.7L16.32 19.52M21.5 21.7L27.07 19.52M32.2 21.7L37.82 19.52M43.0 21.7L48.57 19.52M53.8 21.7L59.32 19.52M64.5 21.7L70.07 19.52M75.2 21.7L80.82 19.52M86.0 21.7L91.57 19.52M96.8 21.7L102.32 19.52M107.5 21.7L113.07 19.52M118.2 21.7L123.82 19.53M129.0 21.7L134.56 19.55M139.8 21.7L145.31 19.95M150.5 21.7L156.06 20.40M161.2 21.7L166.81 20.85M172.0 21.7L177.56 21.26M182.8 21.7L188.32 21.55M193.5 21.7L199.07 21.54M0.0 32.5L5.57 30.35M10.8 32.5L16.32 30.35M21.5 32.5L27.07 30.35M32.2 32.5L37.82 30.35M43.0 32.5L48.57 30.35M53.8 32.5L59.32 30.35M64.5 32.5L70.07 30.35M75.2 32.5L80.82 30.35M86.0 32.5L91.57 30.35M96.8 32.5L102.32 30.35M107.5 32.5L113.07 30.36M118.2 32.5L123.81 30.37M129.0 32.5L134.56 30.42M139.8 32.5L145.30 30.86M150.5 32.5L156.04 31.37M161.2 32.5L166.78 31.87M172.0 32.5L177.53 32.30M182.8 32.5L188.28 32.58M193.5 32.5L199.04 32.56M204.2 32.5L208.41 29.83M0.0 43.3L5.57 41.18M10.8 43.3L16.32 41.18M21.5 43.3L27.07 41.18M32.2 43.3L37.82 41.18M43.0 43.3L48.57 41.18M53.8 43.3L59.32 41.18M64.5 43.3L70.07 41.18M75.2 43.3L80.82 41.18M86.0 43.3L91.57 41.18M96.8 43.3L102.32 41.18M107.5 43.3L113.07 41.19M118.2 43.3L123.81 41.22M129.0 43.3L134.55 41.31M139.8 43.3L145.28 41.82M150.5 43.3L156.01 42.42M161.2 43.3L166.74 43.00M172.0 43.3L177.47 43.47M182.8 43.3L188.22 43.73M193.5 43.3L198.98 43.68M204.2 43.3L209.76 43.54M0.0 54.1L5.57 52.01M10.8 54.1L16.32 52.01M21.5 54.1L27.07 52.01M32.2 54.1L37.82 52.01M43.0 54.1L48.57 52.01M53.8 54.1L59.32 52.01M64.5 54.1L70.07 52.01M75.2 54.1L80.82 52.01M86.0 54.1L91.57 52.01M96.8 54.1L102.32 52.01M107.5 54.1L113.06 52.03M118.2 54.1L123.81 52.08M129.0 54.1L134.54 52.22M139.8 54.1L145.27 52.82M150.5 54.1L155.98 53.53M161.2 54.1L166.69 54.21M172.0 54.1L177.41 54.72M182.8 54.1L188.15 54.95M193.5 54.1L198.91 54.88M204.2 54.1L209.70 54.65M0.0 65.0L5.57 62.84M10.8 65.0L16.32 62.84M21.5 65.0L27.07 62.84M32.2 65.0L37.82 62.84M43.0 65.0L48.57 62.84M53.8 65.0L59.32 62.84M64.5 65.0L70.07 62.84M75.2 65.0L80.82 62.84M86.0 65.0L91.57 62.84M96.8 65.0L102.32 62.85M107.5 65.0L113.06 62.87M118.2 65.0L123.81 62.93M129.0 65.0L134.54 63.11M139.8 65.0L145.25 63.78M150.5 65.0L155.95 64.59M161.2 65.0L166.66 65.36M172.0 65.0L177.37 65.91M182.8 65.0L188.10 66.12M193.5 65.0L198.86 66.02M204.2 65.0L209.66 65.73M0.0 75.8L5.57 73.67M10.8 75.8L16.32 73.67M21.5 75.8L27.07 73.67M32.2 75.8L37.82 73.67M43.0 75.8L48.57 73.67M53.8 75.8L59.32 73.67M64.5 75.8L70.07 73.67M75.2 75.8L80.82 73.67M86.0 75.8L91.57 73.67M96.8 75.8L102.32 73.68M107.5 75.8L113.06 73.70M118.2 75.8L123.81 73.77M129.0 75.8L134.53 73.96M139.8 75.8L145.25 74.66M150.5 75.8L155.95 75.51M161.2 75.8L166.64 76.31M172.0 75.8L177.35 76.88M182.8 75.8L188.08 77.08M193.5 75.8L198.84 76.97M0.0 86.6L5.57 84.50M10.8 86.6L16.32 84.50M21.5 86.6L27.07 84.50M32.2 86.6L37.82 84.50M43.0 86.6L48.57 84.50M53.8 86.6L59.32 84.50M64.5 86.6L70.07 84.50M75.2 86.6L80.82 84.50M86.0 86.6L91.57 84.50M96.8 86.6L102.32 84.51M107.5 86.6L113.06 84.53M118.2 86.6L123.81 84.59M129.0 86.6L134.54 84.76M139.8 86.6L145.25 85.43M150.5 86.6L155.96 86.23M161.2 86.6L166.66 87.00M172.0 86.6L177.37 87.54M182.8 86.6L188.10 87.75M193.5 86.6L198.87 87.66M0.0 97.5L5.57 95.33M10.8 97.5L16.32 95.33M21.5 97.5L27.07 95.33M32.2 97.5L37.82 95.33M43.0 97.5L48.57 95.33M53.8 97.5L59.32 95.33M64.5 97.5L70.07 95.33M75.2 97.5L80.82 95.33M86.0 97.5L91.57 95.33M96.8 97.5L102.32 95.33M107.5 97.5L113.06 95.35M118.2 97.5L123.81 95.40M129.0 97.5L134.54 95.53M139.8 97.5L145.27 96.12M150.5 97.5L156.20 97.27M0.0 108.3L5.57 106.16M10.8 108.3L16.32 106.16M21.5 108.3L27.07 106.16M32.2 108.3L37.82 106.16M43.0 108.3L48.57 106.16M53.8 108.3L59.32 106.16M64.5 108.3L70.07 106.16M75.2 108.3L80.82 106.16M86.0 108.3L91.57 106.16M96.8 108.3L102.32 106.16M107.5 108.3L113.07 106.17M118.2 108.3L123.81 106.20M129.0 108.3L134.55 106.28M139.8 108.3L145.33 107.04M0.0 119.1L5.57 116.99M10.8 119.1L16.32 116.99M21.5 119.1L27.07 116.99M32.2 119.1L37.82 116.99M43.0 119.1L48.57 116.99M53.8 119.1L59.32 116.99M64.5 119.1L70.07 116.99M75.2 119.1L80.82 116.99M86.0 119.1L91.57 116.99M96.8 119.1L102.32 116.99M107.5 119.1L113.07 117.00M118.2 119.1L123.81 117.01M129.0 119.1L134.56 117.05M139.8 119.1L145.34 117.80M150.5 119.1L156.29 119.08M0.0 130.0L5.57 127.82M10.8 130.0L16.32 127.82M21.5 130.0L27.07 127.82M32.2 130.0L37.82 127.82M43.0 130.0L48.57 127.82M53.8 130.0L59.32 127.82M64.5 130.0L70.07 127.82M75.2 130.0L80.82 127.82M86.0 130.0L91.57 127.82M96.8 130.0L102.32 127.82M107.5 130.0L113.07 127.82M118.2 130.0L123.82 127.83M129.0 130.0L134.56 127.84M139.8 130.0L145.40 128.94M0.0 140.8L5.57 138.65M10.8 140.8L16.32 138.65M21.5 140.8L27.07 138.65M32.2 140.8L37.82 138.65M43.0 140.8L48.57 138.65M53.8 140.8L59.32 138.65M64.5 140.8L70.07 138.65M75.2 140.8L80.82 138.65M86.0 140.8L91.57 138.65M96.8 140.8L102.32 138.65M107.5 140.8L113.07 138.65M118.2 140.8L123.82 138.65M129.0 140.8L134.57 138.66M139.8 140.8L145.41 139.86M0.0 151.6L5.57 149.48M10.8 151.6L16.32 149.48M21.5 151.6L27.07 149.48M32.2 151.6L37.82 149.48M43.0 151.6L48.57 149.48M53.8 151.6L59.32 149.48M64.5 151.6L70.07 149.48M75.2 151.6L80.82 149.48M86.0 151.6L91.57 149.48M96.8 151.6L102.32 149.48M107.5 151.6L113.07 149.48M118.2 151.6L123.82 149.48M129.0 151.6L134.57 149.48M139.8 151.6L145.46 150.99M0.0 162.4L5.57 160.31M10.8 162.4L16.32 160.31M21.5 162.4L27.07 160.31M32.2 162.4L37.82 160.31M43.0 162.4L48.57 160.31M53.8 162.4L59.32 160.31M64.5 162.4L70.07 160.31M75.2 162.4L80.82 160.31M86.0 162.4L91.57 160.31M96.8 162.4L102.32 160.31M107.5 162.4L113.07 160.31M118.2 162.4L123.82 160.31M129.0 162.4L134.59 160.57M139.8 162.4L145.52 162.25M0.0 173.3L5.57 171.14M10.8 173.3L16.32 171.14M21.5 173.3L27.07 171.14M32.2 173.3L37.82 171.14M43.0 173.3L48.57 171.14M53.8 173.3L59.32 171.14M64.5 173.3L70.07 171.14M75.2 173.3L80.82 171.14M86.0 173.3L91.57 171.14M96.8 173.3L102.32 171.14M107.5 173.3L113.07 171.14M118.2 173.3L123.82 171.14M129.0 173.3L134.63 171.83" stroke="#1a0800" stroke-width="1.1" stroke-linecap="round" opacity="0.68" fill="none"/><path d="M6.50 -2.50L4.51 -0.72L3.83 -2.49ZM17.25 -2.50L15.26 -0.72L14.58 -2.49ZM28.00 -2.50L26.01 -0.72L25.33 -2.49ZM38.75 -2.50L36.76 -0.72L36.08 -2.49ZM49.50 -2.50L47.51 -0.72L46.83 -2.49ZM60.25 -2.50L58.26 -0.72L57.58 -2.49ZM71.00 -2.50L69.01 -0.72L68.33 -2.49ZM81.75 -2.50L79.76 -0.72L79.08 -2.49ZM92.50 -2.50L90.51 -0.72L89.83 -2.49ZM103.25 -2.50L101.26 -0.72L100.58 -2.49ZM114.00 -2.50L112.01 -0.72L111.33 -2.49ZM124.75 -2.50L122.76 -0.72L122.08 -2.49ZM135.50 -2.50L133.51 -0.71L132.83 -2.49ZM146.27 -2.06L144.17 -0.40L143.60 -2.21ZM157.04 -1.59L154.83 -0.07L154.39 -1.92ZM167.81 -1.11L165.50 0.25L165.19 -1.63ZM178.58 -0.63L176.18 0.55L176.00 -1.34ZM189.35 -0.28L186.89 0.77L186.81 -1.12ZM200.10 -0.28L197.64 0.77L197.56 -1.13ZM6.50 8.33L4.51 10.11L3.83 8.34ZM17.25 8.33L15.26 10.11L14.58 8.34ZM28.00 8.33L26.01 10.11L25.33 8.34ZM38.75 8.33L36.76 10.11L36.08 8.34ZM49.50 8.33L47.51 10.11L46.83 8.34ZM60.25 8.33L58.26 10.11L57.58 8.34ZM71.00 8.33L69.01 10.11L68.33 8.34ZM81.75 8.33L79.76 10.11L79.08 8.34ZM92.50 8.33L90.51 10.11L89.83 8.34ZM103.25 8.33L101.26 10.11L100.58 8.34ZM114.00 8.33L112.01 10.11L111.33 8.34ZM124.75 8.33L122.76 10.12L122.08 8.34ZM135.50 8.34L133.50 10.12L132.83 8.35ZM146.27 8.78L144.17 10.44L143.60 8.63ZM157.04 9.27L154.83 10.78L154.39 8.93ZM167.81 9.76L165.49 11.10L165.19 9.23ZM178.58 10.24L176.17 11.41L176.00 9.52ZM189.34 10.59L186.88 11.63L186.81 9.73ZM200.09 10.59L197.63 11.63L197.56 9.73ZM6.50 19.16L4.51 20.94L3.83 19.17ZM17.25 19.16L15.26 20.94L14.58 19.17ZM28.00 19.16L26.01 20.94L25.33 19.17ZM38.75 19.16L36.76 20.94L36.08 19.17ZM49.50 19.16L47.51 20.94L46.83 19.17ZM60.25 19.16L58.26 20.94L57.58 19.17ZM71.00 19.16L69.01 20.94L68.33 19.17ZM81.75 19.16L79.76 20.94L79.08 19.17ZM92.50 19.16L90.51 20.94L89.83 19.17ZM103.25 19.16L101.26 20.94L100.58 19.17ZM114.00 19.16L112.01 20.95L111.33 19.17ZM124.75 19.17L122.75 20.95L122.08 19.18ZM135.50 19.19L133.50 20.97L132.82 19.19ZM146.27 19.66L144.15 21.30L143.60 19.48ZM157.03 20.18L154.80 21.66L154.38 19.81ZM167.80 20.70L165.46 22.00L165.18 20.12ZM178.56 21.19L176.13 22.32L176.00 20.42ZM189.32 21.53L186.84 22.53L186.80 20.63ZM200.07 21.52L197.59 22.52L197.55 20.62ZM6.50 29.99L4.51 31.77L3.83 30.00ZM17.25 29.99L15.26 31.77L14.58 30.00ZM28.00 29.99L26.01 31.77L25.33 30.00ZM38.75 29.99L36.76 31.77L36.08 30.00ZM49.50 29.99L47.51 31.77L46.83 30.00ZM60.25 29.99L58.26 31.77L57.58 30.00ZM71.00 29.99L69.01 31.77L68.33 30.00ZM81.75 29.99L79.76 31.77L79.08 30.00ZM92.50 29.99L90.51 31.77L89.83 30.00ZM103.25 29.99L101.26 31.78L100.58 30.00ZM114.00 30.00L112.01 31.78L111.33 30.01ZM124.75 30.02L122.75 31.79L122.07 30.02ZM135.50 30.07L133.49 31.83L132.82 30.05ZM146.26 30.58L144.13 32.20L143.59 30.37ZM157.02 31.17L154.76 32.60L154.38 30.74ZM167.77 31.75L165.40 32.98L165.18 31.09ZM178.53 32.27L176.06 33.30L176.00 31.40ZM189.28 32.60L186.77 33.51L186.80 31.61ZM200.04 32.57L197.53 33.49L197.55 31.59ZM209.25 29.29L207.66 31.44L206.63 29.84ZM6.50 40.82L4.51 42.60L3.83 40.83ZM17.25 40.82L15.26 42.60L14.58 40.83ZM28.00 40.82L26.01 42.60L25.33 40.83ZM38.75 40.82L36.76 42.60L36.08 40.83ZM49.50 40.82L47.51 42.60L46.83 40.83ZM60.25 40.82L58.26 42.60L57.58 40.83ZM71.00 40.82L69.01 42.60L68.33 40.83ZM81.75 40.82L79.76 42.60L79.08 40.83ZM92.50 40.82L90.51 42.60L89.83 40.83ZM103.25 40.82L101.26 42.61L100.58 40.83ZM114.00 40.83L112.00 42.61L111.32 40.84ZM124.75 40.87L122.74 42.64L122.07 40.86ZM135.49 40.97L133.47 42.71L132.82 40.93ZM146.25 41.56L144.08 43.13L143.59 41.30ZM157.00 42.26L154.68 43.60L154.38 41.73ZM167.74 42.95L165.30 44.04L165.19 42.14ZM178.47 43.50L175.95 44.38L176.00 42.48ZM189.22 43.80L186.66 44.56L186.80 42.67ZM199.98 43.75L197.42 44.53L197.55 42.64ZM210.76 43.58L208.22 44.43L208.30 42.53ZM6.50 51.65L4.51 53.43L3.83 51.66ZM17.25 51.65L15.26 53.43L14.58 51.66ZM28.00 51.65L26.01 53.43L25.33 51.66ZM38.75 51.65L36.76 53.43L36.08 51.66ZM49.50 51.65L47.51 53.43L46.83 51.66ZM60.25 51.65L58.26 53.43L57.58 51.66ZM71.00 51.65L69.01 53.43L68.33 51.66ZM81.75 51.65L79.76 53.43L79.08 51.66ZM92.50 51.65L90.51 53.43L89.83 51.66ZM103.25 51.66L101.26 53.44L100.58 51.66ZM114.00 51.67L112.00 53.45L111.32 51.68ZM124.75 51.73L122.73 53.49L122.07 51.71ZM135.49 51.89L133.44 53.61L132.81 51.81ZM146.24 52.58L144.03 54.09L143.59 52.25ZM156.97 53.42L154.60 54.64L154.38 52.75ZM167.69 54.22L165.18 55.14L165.20 53.24ZM178.41 54.83L175.82 55.51L176.02 53.62ZM189.14 55.10L186.53 55.67L186.81 53.79ZM199.91 55.01L197.30 55.62L197.56 53.74ZM210.70 54.75L208.12 55.46L208.30 53.57ZM6.50 62.48L4.51 64.26L3.83 62.49ZM17.25 62.48L15.26 64.26L14.58 62.49ZM28.00 62.48L26.01 64.26L25.33 62.49ZM38.75 62.48L36.76 64.26L36.08 62.49ZM49.50 62.48L47.51 64.26L46.83 62.49ZM60.25 62.48L58.26 64.26L57.58 62.49ZM71.00 62.48L69.01 64.26L68.33 62.49ZM81.75 62.48L79.76 64.26L79.08 62.49ZM92.50 62.48L90.51 64.27L89.83 62.49ZM103.25 62.49L101.26 64.27L100.58 62.50ZM114.00 62.51L112.00 64.29L111.32 62.51ZM124.74 62.59L122.73 64.34L122.07 62.56ZM135.48 62.79L133.42 64.49L132.81 62.69ZM146.23 63.57L143.99 65.03L143.58 63.17ZM156.95 64.52L154.53 65.65L154.39 63.75ZM167.65 65.43L165.09 66.21L165.23 64.31ZM178.35 66.08L175.73 66.59L176.05 64.72ZM189.07 66.33L186.43 66.74L186.83 64.88ZM199.84 66.22L197.21 66.67L197.57 64.81ZM210.65 65.86L208.05 66.46L208.31 64.58ZM6.50 73.31L4.51 75.09L3.83 73.32ZM17.25 73.31L15.26 75.09L14.58 73.32ZM28.00 73.31L26.01 75.09L25.33 73.32ZM38.75 73.31L36.76 75.09L36.08 73.32ZM49.50 73.31L47.51 75.09L46.83 73.32ZM60.25 73.31L58.26 75.09L57.58 73.32ZM71.00 73.31L69.01 75.09L68.33 73.32ZM81.75 73.31L79.76 75.09L79.08 73.32ZM92.50 73.31L90.51 75.10L89.83 73.32ZM103.25 73.32L101.26 75.10L100.58 73.33ZM114.00 73.34L112.00 75.12L111.32 73.34ZM124.74 73.43L122.72 75.18L122.07 73.40ZM135.48 73.65L133.41 75.34L132.81 73.54ZM146.23 74.46L143.97 75.90L143.58 74.04ZM156.94 75.45L154.50 76.54L154.40 74.64ZM167.64 76.40L165.06 77.12L165.24 75.23ZM178.33 77.07L175.69 77.51L176.07 75.65ZM189.05 77.31L186.40 77.65L186.84 75.80ZM199.82 77.18L197.18 77.58L197.58 75.72ZM6.50 84.14L4.51 85.92L3.83 84.15ZM17.25 84.14L15.26 85.92L14.58 84.15ZM28.00 84.14L26.01 85.92L25.33 84.15ZM38.75 84.14L36.76 85.92L36.08 84.15ZM49.50 84.14L47.51 85.92L46.83 84.15ZM60.25 84.14L58.26 85.92L57.58 84.15ZM71.00 84.14L69.01 85.92L68.33 84.15ZM81.75 84.14L79.76 85.92L79.08 84.15ZM92.50 84.14L90.51 85.93L89.83 84.15ZM103.25 84.15L101.26 85.93L100.58 84.16ZM114.00 84.17L112.00 85.95L111.32 84.17ZM124.74 84.25L122.73 86.00L122.07 84.22ZM135.48 84.44L133.42 86.15L132.81 84.35ZM146.23 85.22L143.99 86.68L143.58 84.83ZM156.95 86.16L154.53 87.29L154.39 85.40ZM167.66 87.06L165.10 87.85L165.23 85.95ZM178.36 87.71L175.73 88.23L176.05 86.36ZM189.08 87.96L186.44 88.38L186.83 86.52ZM199.85 87.84L197.22 88.31L197.57 86.44ZM6.50 94.97L4.51 96.75L3.83 94.98ZM17.25 94.97L15.26 96.75L14.58 94.98ZM28.00 94.97L26.01 96.75L25.33 94.98ZM38.75 94.97L36.76 96.75L36.08 94.98ZM49.50 94.97L47.51 96.75L46.83 94.98ZM60.25 94.97L58.26 96.75L57.58 94.98ZM71.00 94.97L69.01 96.75L68.33 94.98ZM81.75 94.97L79.76 96.75L79.08 94.98ZM92.50 94.97L90.51 96.75L89.83 94.98ZM103.25 94.98L101.26 96.76L100.58 94.98ZM114.00 94.99L112.00 96.77L111.32 95.00ZM124.75 95.05L122.74 96.81L122.07 95.03ZM135.49 95.20L133.44 96.92L132.82 95.13ZM146.24 95.88L144.04 97.40L143.59 95.55ZM157.20 97.23L154.74 98.27L154.67 96.37ZM6.50 105.80L4.51 107.58L3.83 105.81ZM17.25 105.80L15.26 107.58L14.58 105.81ZM28.00 105.80L26.01 107.58L25.33 105.81ZM38.75 105.80L36.76 107.58L36.08 105.81ZM49.50 105.80L47.51 107.58L46.83 105.81ZM60.25 105.80L58.26 107.58L57.58 105.81ZM71.00 105.80L69.01 107.58L68.33 105.81ZM81.75 105.80L79.76 107.58L79.08 105.81ZM92.50 105.80L90.51 107.58L89.83 105.81ZM103.25 105.80L101.26 107.59L100.58 105.81ZM114.00 105.81L112.00 107.59L111.32 105.82ZM124.75 105.85L122.74 107.62L122.07 105.84ZM135.49 105.94L133.47 107.69L132.82 105.90ZM146.30 106.82L144.07 108.30L143.65 106.45ZM6.50 116.63L4.51 118.41L3.83 116.64ZM17.25 116.63L15.26 118.41L14.58 116.64ZM28.00 116.63L26.01 118.41L25.33 116.64ZM38.75 116.63L36.76 118.41L36.08 116.64ZM49.50 116.63L47.51 118.41L46.83 116.64ZM60.25 116.63L58.26 118.41L57.58 116.64ZM71.00 116.63L69.01 118.41L68.33 116.64ZM81.75 116.63L79.76 118.41L79.08 116.64ZM92.50 116.63L90.51 118.41L89.83 116.64ZM103.25 116.63L101.26 118.42L100.58 116.64ZM114.00 116.64L112.01 118.42L111.33 116.65ZM124.75 116.65L122.75 118.43L122.07 116.66ZM135.50 116.70L133.49 118.47L132.82 116.69ZM146.31 117.56L144.10 119.07L143.66 117.22ZM157.29 119.07L154.80 120.04L154.78 118.14ZM6.50 127.46L4.51 129.24L3.83 127.47ZM17.25 127.46L15.26 129.24L14.58 127.47ZM28.00 127.46L26.01 129.24L25.33 127.47ZM38.75 127.46L36.76 129.24L36.08 127.47ZM49.50 127.46L47.51 129.24L46.83 127.47ZM60.25 127.46L58.26 129.24L57.58 127.47ZM71.00 127.46L69.01 129.24L68.33 127.47ZM81.75 127.46L79.76 129.24L79.08 127.47ZM92.50 127.46L90.51 129.24L89.83 127.47ZM103.25 127.46L101.26 129.24L100.58 127.47ZM114.00 127.46L112.01 129.25L111.33 127.47ZM124.75 127.47L122.75 129.25L122.08 127.48ZM135.50 127.49L133.50 129.27L132.82 127.49ZM146.38 128.76L144.09 130.14L143.75 128.27ZM6.50 138.29L4.51 140.07L3.83 138.30ZM17.25 138.29L15.26 140.07L14.58 138.30ZM28.00 138.29L26.01 140.07L25.33 138.30ZM38.75 138.29L36.76 140.07L36.08 138.30ZM49.50 138.29L47.51 140.07L46.83 138.30ZM60.25 138.29L58.26 140.07L57.58 138.30ZM71.00 138.29L69.01 140.07L68.33 138.30ZM81.75 138.29L79.76 140.07L79.08 138.30ZM92.50 138.29L90.51 140.07L89.83 138.30ZM103.25 138.29L101.26 140.07L100.58 138.30ZM114.00 138.29L112.01 140.07L111.33 138.30ZM124.75 138.29L122.76 140.08L122.08 138.30ZM135.50 138.30L133.50 140.08L132.83 138.31ZM146.40 139.69L144.09 141.04L143.78 139.16ZM6.50 149.12L4.51 150.90L3.83 149.13ZM17.25 149.12L15.26 150.90L14.58 149.13ZM28.00 149.12L26.01 150.90L25.33 149.13ZM38.75 149.12L36.76 150.90L36.08 149.13ZM49.50 149.12L47.51 150.90L46.83 149.13ZM60.25 149.12L58.26 150.90L57.58 149.13ZM71.00 149.12L69.01 150.90L68.33 149.13ZM81.75 149.12L79.76 150.90L79.08 149.13ZM92.50 149.12L90.51 150.90L89.83 149.13ZM103.25 149.12L101.26 150.90L100.58 149.13ZM114.00 149.12L112.01 150.90L111.33 149.13ZM124.75 149.12L122.76 150.90L122.08 149.13ZM135.50 149.12L133.51 150.91L132.83 149.13ZM146.45 150.88L144.07 152.10L143.86 150.21ZM6.50 159.95L4.51 161.73L3.83 159.96ZM17.25 159.95L15.26 161.73L14.58 159.96ZM28.00 159.95L26.01 161.73L25.33 159.96ZM38.75 159.95L36.76 161.73L36.08 159.96ZM49.50 159.95L47.51 161.73L46.83 159.96ZM60.25 159.95L58.26 161.73L57.58 159.96ZM71.00 159.95L69.01 161.73L68.33 159.96ZM81.75 159.95L79.76 161.73L79.08 159.96ZM92.50 159.95L90.51 161.73L89.83 159.96ZM103.25 159.95L101.26 161.73L100.58 159.96ZM114.00 159.95L112.01 161.73L111.33 159.96ZM124.75 159.95L122.76 161.73L122.08 159.96ZM135.54 160.25L133.47 161.95L132.86 160.15ZM146.52 162.22L144.05 163.25L143.99 161.35ZM6.50 170.78L4.51 172.56L3.83 170.79ZM17.25 170.78L15.26 172.56L14.58 170.79ZM28.00 170.78L26.01 172.56L25.33 170.79ZM38.75 170.78L36.76 172.56L36.08 170.79ZM49.50 170.78L47.51 172.56L46.83 170.79ZM60.25 170.78L58.26 172.56L57.58 170.79ZM71.00 170.78L69.01 172.56L68.33 170.79ZM81.75 170.78L79.76 172.56L79.08 170.79ZM92.50 170.78L90.51 172.56L89.83 170.79ZM103.25 170.78L101.26 172.56L100.58 170.79ZM114.00 170.78L112.01 172.56L111.33 170.79ZM124.75 170.78L122.76 172.56L122.08 170.79ZM135.60 171.58L133.41 173.13L132.94 171.29Z" fill="#1a0800" stroke="#1a0800" stroke-width="0.5" stroke-linejoin="round" opacity="0.81"/><circle cx="184.00" cy="70.20" r="4.6" fill="#f00" stroke="#000" stroke-width="1.4"/></g></g>
<rect x="97.8" y="589.4" width="238.70" height="182.90" fill="none" stroke="#555" stroke-width="1.1"/>
<text x="158.0" y="577.8" font-size="15.4" fill="#111" textLength="122" lengthAdjust="spacingAndGlyphs">20111029_081000</text>
<rect x="404.4" y="588.6" width="239.50" height="183.70" fill="#fff"/>
<path d="M447.1 588.6v2.5M447.1 772.3v-2.5M490.9 588.6v2.5M490.9 772.3v-2.5M534.8 588.6v2.5M534.8 772.3v-2.5M578.6 588.6v2.5M578.6 772.3v-2.5M622.5 588.6v2.5M622.5 772.3v-2.5M404.4 606.5h2.5M643.9 606.5h-2.5M404.4 650.4h2.5M643.9 650.4h-2.5M404.4 694.4h2.5M643.9 694.4h-2.5M404.4 738.3h2.5M643.9 738.3h-2.5" stroke="#333" stroke-width="1" fill="none"/>
<g clip-path="url(#ax5)"><g transform="translate(404.7 596.0) scale(1.00465 1.00646)"><g clip-path="url(#sea)"><rect x="-5" y="-2" width="230" height="177.3" fill="#00008f"/><path d="M-2.0 -1.0L221.0 -1.0L221.0 175.0L-3.0 175.0L-3.0 -1.0ZM208.6 68.0L205.1 70.0L200.7 80.0L200.8 81.0L204.0 76.6L206.8 71.0L209.7 68.0L209.0 67.8Z" fill="#00009f"/><path d="M-2.0 -1.0L221.0 -1.0L221.0 175.0L-3.0 175.0L-3.0 -1.0ZM210.8 66.0L210.5 67.0L211.0 67.1L211.0 65.6ZM207.7 68.0L205.6 69.0L204.7 70.0L199.5 82.0L200.0 82.7L204.0 77.0L207.0 71.0L210.3 68.0L210.0 67.2L208.0 67.9ZM198.8 84.0L199.1 84.0L199.0 83.4Z" fill="#0000af"/><path d="M-2.0 -1.0L221.0 -1.0L221.0 175.0L-3.0 175.0L-3.0 -1.0ZM211.6 64.0L212.0 64.6L212.0 63.1ZM210.9 65.0L210.0 66.5L204.8 69.0L198.8 83.0L198.5 84.0L199.0 84.5L204.3 77.0L207.4 71.0L211.0 67.5L211.5 66.0L211.0 64.8Z" fill="#0000bf"/><path d="M-2.0 -1.0L221.0 -1.0L221.0 175.0L-3.0 175.0L-3.0 -1.0ZM211.5 63.0L209.8 66.0L204.2 69.0L198.5 83.0L197.7 86.0L198.1 86.0L203.9 78.0L207.7 71.0L211.0 68.0L212.4 64.0L212.0 62.2Z" fill="#0000cf"/><path d="M-2.0 -1.0L221.0 -1.0L221.0 175.0L-3.0 175.0L-3.0 -1.0ZM213.0 58.0L211.6 62.0L209.2 66.0L205.0 67.7L203.6 69.0L197.0 86.0L196.0 87.1L197.0 87.2L198.4 86.0L204.8 77.0L208.0 71.1L211.3 68.0L213.2 62.0L213.0 57.9Z" fill="#0000df"/><path d="M-2.0 -1.0L221.0 -1.0L221.0 175.0L-3.0 175.0L-3.0 -1.0ZM212.8 57.0L211.0 61.9L209.0 65.2L204.0 67.6L202.9 69.0L197.0 85.2L194.5 88.0L195.0 88.6L198.6 86.0L204.5 78.0L208.0 71.6L211.7 68.0L213.5 62.0L213.0 56.1ZM193.6 89.0L194.0 89.3L194.5 89.0L194.0 88.6ZM192.7 90.0L193.2 90.0L193.0 89.7Z" fill="#0000ef"/><path d="M-2.0 -1.0L221.0 -1.0L221.0 175.0L-3.0 175.0L-3.0 -1.0ZM212.1 56.0L212.2 57.0L210.7 61.0L208.3 65.0L204.0 66.7L202.5 68.0L196.6 85.0L192.2 90.0L193.0 90.4L198.0 87.0L204.8 78.0L208.1 72.0L212.1 68.0L213.8 62.0L213.7 58.0L213.0 55.3Z" fill="#0000ff"/><path d="M-2.0 -1.0L221.0 -1.0L221.0 175.0L-3.0 175.0L-3.0 -1.0ZM211.7 53.0L211.4 57.0L209.9 61.0L207.0 64.8L203.0 66.2L201.3 68.0L196.2 85.0L190.8 91.0L191.0 91.3L192.0 91.2L198.3 87.0L205.2 78.0L208.6 72.0L212.5 68.0L214.1 62.0L214.1 59.0L214.0 57.0L212.0 52.2ZM189.9 92.0L190.3 92.0L190.0 91.8Z" fill="#0010ff"/><path d="M-2.0 -1.0L221.0 -1.0L221.0 175.0L-3.0 175.0L-3.0 -1.0ZM212.0 51.0L210.6 54.0L210.5 57.0L208.8 61.0L206.3 64.0L202.0 65.4L200.3 67.0L198.5 72.0L196.0 84.0L195.5 85.0L189.4 92.0L190.0 92.5L198.7 87.0L205.6 78.0L209.0 72.1L212.8 68.0L214.5 62.0L214.5 58.0L212.0 51.0ZM180.0 92.0L184.1 92.0L181.0 91.6L180.0 92.0ZM186.5 93.0L189.4 93.0L189.0 92.5L187.0 92.8Z" fill="#0020ff"/><path d="M-2.0 -1.0L221.0 -1.0L221.0 175.0L-3.0 175.0L-3.0 -1.0ZM211.2 51.0L209.7 54.0L209.0 57.8L207.2 61.0L205.2 63.0L200.0 64.7L198.1 67.0L196.8 71.0L195.3 84.0L193.9 86.0L188.8 92.0L180.0 91.1L179.0 91.3L178.7 92.0L189.0 93.5L198.0 87.9L201.5 84.0L206.0 78.0L209.0 72.8L212.7 69.0L213.6 67.0L214.9 62.0L214.8 57.0L212.0 50.1ZM166.8 82.0L166.4 83.0L168.0 84.4L169.0 84.5L169.3 84.0L169.0 83.4L167.0 81.7Z" fill="#0030ff"/><path d="M-2.0 -1.0L221.0 -1.0L221.0 175.0L-3.0 175.0L-3.0 -1.0ZM211.0 50.0L208.5 54.0L207.2 58.0L205.6 60.0L204.0 61.3L199.0 62.3L197.0 63.2L194.8 65.0L193.6 67.0L192.9 69.0L192.7 72.0L194.3 79.0L194.6 83.0L193.0 86.0L189.0 91.2L188.0 91.7L179.0 90.4L174.8 91.0L179.0 92.4L189.0 93.7L199.4 87.0L206.5 78.0L209.4 73.0L213.0 69.4L214.4 66.0L215.3 62.0L215.2 57.0L212.0 49.2L211.0 49.9ZM166.9 79.0L165.4 81.0L165.1 83.0L167.0 84.3L169.0 86.5L171.5 83.0L171.3 81.0L170.2 79.0L169.0 78.2L167.0 78.9Z" fill="#0040ff"/><path d="M-2.0 -1.0L221.0 -1.0L221.0 175.0L-3.0 175.0L-3.0 -1.0ZM210.7 49.0L204.0 58.0L202.0 59.2L194.1 60.0L183.4 62.0L177.0 63.9L173.0 66.2L169.8 69.0L167.0 72.8L163.7 80.0L163.5 82.0L163.9 83.0L167.0 84.9L169.0 87.6L170.0 87.3L175.0 81.4L178.0 79.0L181.0 77.5L184.0 76.8L187.0 76.8L191.0 78.5L192.3 80.0L193.2 82.0L193.2 83.0L191.9 86.0L189.0 90.3L188.0 91.1L178.0 89.4L172.8 91.0L179.0 92.7L189.0 94.0L198.8 88.0L206.2 79.0L210.0 73.1L213.2 70.0L214.6 67.0L215.8 62.0L215.7 57.0L212.0 48.3L211.0 48.7Z" fill="#0050ff"/><path d="M-2.0 -1.0L221.0 -1.0L221.0 175.0L-3.0 175.0L-3.0 -1.0ZM210.5 48.0L206.0 52.7L201.0 55.8L197.0 56.8L187.0 57.5L180.0 58.9L173.9 61.0L168.9 64.0L164.8 68.0L162.3 73.0L161.3 79.0L161.5 81.0L162.6 83.0L166.0 84.7L169.0 88.4L170.0 88.9L175.0 84.2L177.0 83.2L180.0 82.9L186.0 80.9L189.6 82.0L190.5 83.0L190.7 85.0L190.1 87.0L188.0 90.3L178.0 87.7L172.0 89.4L171.1 90.0L171.8 91.0L174.3 92.0L182.0 93.5L189.0 94.3L199.0 88.2L206.8 79.0L210.0 74.0L213.8 70.0L215.5 66.0L216.4 62.0L216.2 57.0L212.0 47.2L211.0 47.7Z" fill="#0060ff"/><path d="M-2.0 -1.0L221.0 -1.0L221.0 175.0L-3.0 175.0L-3.0 -1.0ZM210.9 47.0L205.0 51.5L201.0 53.4L196.0 54.4L185.0 55.4L179.0 56.7L172.5 59.0L167.2 62.0L162.5 66.0L159.4 71.0L158.7 74.0L158.7 77.0L159.3 80.0L160.4 82.0L161.2 83.0L166.0 85.5L169.7 90.0L171.1 91.0L174.0 92.3L180.0 93.5L189.0 94.6L199.0 88.7L206.6 80.0L210.8 74.0L214.0 70.8L216.4 65.0L217.0 61.0L216.5 56.0L212.7 47.0L212.0 46.4L211.0 46.9ZM186.0 84.5L187.0 84.3L188.0 85.2L188.4 87.0L188.0 88.5L187.0 88.6L185.0 87.0L184.9 86.0L185.5 85.0Z" fill="#0070ff"/><path d="M-2.0 -1.0L221.0 -1.0L221.0 175.0L-3.0 175.0L-3.0 -1.0ZM211.5 46.0L204.0 50.2L201.0 51.4L179.0 54.8L172.3 57.0L166.0 60.3L160.2 65.0L156.8 70.0L156.0 73.0L155.9 76.0L156.7 79.0L157.9 81.0L159.8 83.0L166.0 86.4L170.0 90.8L174.0 92.7L189.0 94.9L197.0 90.4L200.4 88.0L207.4 80.0L211.0 74.9L214.7 71.0L216.6 67.0L217.6 63.0L217.5 57.0L213.7 48.0L213.2 46.0L213.0 45.6L212.0 45.8Z" fill="#0080ff"/><path d="M-2.0 -1.0L221.0 -1.0L221.0 175.0L-3.0 175.0L-3.0 -1.0ZM212.2 45.0L200.0 49.9L184.3 52.0L177.0 53.6L170.4 56.0L164.7 59.0L158.3 64.0L154.6 69.0L153.5 72.0L153.2 75.0L153.8 78.0L154.7 80.0L157.6 83.0L165.0 86.8L169.4 91.0L173.0 92.9L181.0 94.4L189.0 95.3L194.0 92.7L201.0 88.0L214.9 72.0L216.7 69.0L218.5 63.0L218.3 57.0L214.0 46.0L213.0 44.6Z" fill="#008fff"/><path d="M-2.0 -1.0L221.0 -1.0L221.0 175.0L-3.0 175.0L-3.0 -1.0ZM212.4 44.0L200.0 48.2L184.0 50.5L177.0 52.0L170.0 54.5L163.1 58.0L156.6 63.0L153.9 66.0L152.0 69.0L150.9 72.0L150.6 75.0L151.1 78.0L152.0 80.0L155.0 83.3L160.0 85.0L166.0 88.7L169.0 91.4L173.0 93.5L180.0 94.7L189.0 95.7L195.0 92.7L200.7 89.0L208.2 81.0L216.0 72.0L218.4 67.0L219.4 63.0L219.2 57.0L215.7 49.0L214.4 45.0L213.0 43.7Z" fill="#009fff"/><path d="M-2.0 -1.0L221.0 -1.0L221.0 175.0L-3.0 175.0L-3.0 -1.0ZM212.5 43.0L199.0 46.9L184.0 49.0L177.0 50.5L169.0 53.3L161.7 57.0L153.9 63.0L149.6 69.0L148.4 72.0L148.0 75.0L148.4 78.0L149.8 81.0L151.4 83.0L154.0 84.9L156.0 85.6L160.0 85.8L169.0 92.1L174.0 94.3L189.0 96.1L191.0 95.5L196.0 92.6L201.5 89.0L210.2 80.0L217.2 72.0L219.6 67.0L220.7 62.0L220.0 56.0L216.7 49.0L215.4 45.0L214.0 42.9L213.0 42.8Z" fill="#00afff"/><path d="M-2.0 -1.0L221.0 -1.0L221.0 54.9L216.4 45.0L214.0 41.6L200.0 45.1L184.0 47.5L177.0 49.0L171.0 50.9L165.0 53.4L159.0 56.7L154.5 60.0L151.0 63.4L148.2 67.0L146.2 71.0L145.5 75.0L145.7 78.0L146.9 81.0L149.1 84.0L152.0 86.2L155.0 87.2L160.0 86.6L164.0 90.2L173.0 94.8L189.0 96.6L194.0 94.4L202.4 89.0L217.2 74.0L219.2 71.0L221.0 67.0L221.0 175.0L-3.0 175.0L-3.0 -1.0Z" fill="#00bfff"/><path d="M-2.0 -1.0L221.0 -1.0L221.0 51.7L216.5 43.0L214.0 40.4L207.0 41.0L198.0 43.7L182.0 46.3L173.0 48.6L167.0 50.8L161.0 53.6L155.5 57.0L151.0 60.6L147.8 64.0L145.0 68.0L143.3 72.0L142.8 76.0L143.5 80.0L145.0 83.0L147.8 86.0L151.0 88.1L155.0 88.8L160.0 87.4L164.0 91.7L172.0 95.3L179.0 96.5L189.0 97.2L193.0 95.7L202.4 90.0L217.1 76.0L221.0 70.7L221.0 175.0L-3.0 175.0L-3.0 -1.0Z" fill="#00cfff"/><path d="M-2.0 -1.0L221.0 -1.0L221.0 48.0L217.5 42.0L215.7 40.0L214.0 39.3L209.0 39.0L205.0 39.4L196.0 42.2L179.0 45.2L171.0 47.4L159.0 52.7L153.7 56.0L148.7 60.0L144.9 64.0L142.2 68.0L140.5 72.0L139.9 76.0L140.4 80.0L142.4 84.0L145.1 87.0L149.0 89.6L151.0 90.3L154.0 90.3L160.0 88.3L162.0 91.5L164.0 93.4L170.0 95.8L175.0 96.9L189.0 98.0L193.0 96.6L203.0 90.7L214.0 81.0L221.0 73.8L221.0 175.0L-3.0 175.0L-3.0 -1.0Z" fill="#00dfff"/><path d="M-2.0 -1.0L221.0 -1.0L221.0 44.4L217.9 40.0L216.0 38.6L205.0 37.4L195.0 40.2L177.0 43.7L167.0 46.8L155.0 52.6L149.0 56.8L145.0 60.3L140.9 65.0L138.5 69.0L137.1 73.0L136.6 77.0L137.2 81.0L139.2 85.0L143.0 89.0L147.0 91.5L150.0 92.4L152.0 92.2L156.0 90.9L159.0 89.2L160.0 89.5L163.0 94.6L165.0 95.9L173.0 97.9L188.0 98.9L192.0 98.2L203.0 92.0L214.2 83.0L221.0 76.6L221.0 175.0L-3.0 175.0L-3.0 -1.0Z" fill="#00efff"/><path d="M-2.0 -1.0L221.0 -1.0L221.0 40.5L218.6 38.0L216.0 36.7L213.0 36.2L210.0 37.0L205.0 35.2L202.0 34.9L191.3 38.0L175.0 41.6L164.0 45.3L152.0 51.4L146.0 55.6L141.1 60.0L137.7 64.0L134.6 69.0L133.2 73.0L132.6 77.0L133.4 82.0L136.0 87.0L140.1 91.0L146.0 94.4L149.0 95.0L151.0 94.6L159.0 89.9L160.0 91.0L162.0 96.5L164.0 98.0L173.0 99.7L187.0 100.2L192.0 99.6L203.0 93.7L214.0 85.6L221.0 79.7L221.0 175.0L-3.0 175.0L-3.0 -1.0Z" fill="#00ffff"/><path d="M-2.0 -1.0L221.0 -1.0L221.0 36.2L218.0 34.3L215.0 33.3L213.0 33.5L210.0 35.6L209.0 35.5L202.2 32.0L197.0 30.1L195.0 29.9L187.2 34.0L170.0 38.5L160.0 42.3L154.0 45.3L147.0 49.5L141.0 54.0L135.7 59.0L132.4 63.0L129.3 68.0L127.5 73.0L126.9 78.0L127.7 83.0L130.2 88.0L133.7 92.0L139.0 95.7L145.0 98.3L147.0 98.7L149.0 98.4L151.0 97.1L153.7 94.0L159.0 90.6L159.8 93.0L159.9 98.0L162.0 100.7L165.0 101.7L172.0 102.3L188.0 102.4L193.0 101.4L206.0 94.5L221.0 83.4L221.0 175.0L-3.0 175.0L-3.0 -1.0Z" fill="#10ffef"/><path d="M-2.0 -1.0L123.9 -1.0L120.0 3.4L112.9 8.0L106.0 14.8L101.0 22.3L97.4 31.0L95.5 41.0L95.7 51.0L98.0 60.8L102.0 69.6L110.9 84.0L116.4 91.0L126.0 99.6L131.0 102.6L135.0 104.5L142.0 106.6L147.0 107.2L148.0 106.5L149.3 103.0L154.0 95.0L157.0 92.5L159.0 91.9L158.0 97.0L158.2 103.0L157.4 106.0L159.0 109.2L162.0 110.4L166.0 110.3L188.0 107.8L194.0 106.3L208.0 98.7L221.0 89.4L221.0 175.0L-3.0 175.0L-3.0 -1.0ZM192.0 -1.0L221.0 -1.0L221.0 25.5L218.0 22.0L217.0 21.6L215.0 22.2L212.7 24.0L210.5 33.0L210.0 34.0L209.0 34.5L200.1 29.0L198.3 27.0L197.5 25.0L197.2 21.0L194.6 18.0L193.5 15.0L193.4 12.0L194.0 8.0L191.8 2.0L191.2 -1.0Z" fill="#20ffdf"/><path d="M-2.0 -1.0L66.3 -1.0L62.2 7.0L59.0 15.1L56.5 24.0L54.9 33.0L54.1 42.0L54.3 51.0L55.3 60.0L57.2 69.0L60.0 77.7L63.6 86.0L68.0 93.9L73.0 101.1L78.9 108.0L85.2 114.0L92.0 119.3L100.0 124.3L107.0 127.8L113.0 130.0L122.0 132.2L125.0 132.5L130.0 131.1L144.0 122.9L147.0 122.2L149.0 122.2L150.6 123.0L152.5 125.0L158.0 133.7L162.0 138.3L166.0 140.6L171.0 141.2L176.0 140.8L183.0 139.5L197.0 134.9L209.0 129.0L221.0 120.7L221.0 175.0L-3.0 175.0L-3.0 -1.0ZM196.0 -1.0L206.3 -1.0L209.5 6.0L209.7 9.0L208.2 13.0L210.4 17.0L210.8 19.0L210.6 21.0L208.0 25.0L209.3 28.0L209.0 33.2L208.0 33.0L201.0 28.3L199.8 27.0L199.4 25.0L200.1 21.0L196.9 17.0L196.2 15.0L196.3 13.0L197.8 8.0L195.8 1.0L195.9 -1.0ZM158.0 92.7L158.2 93.0L156.9 96.0L156.0 101.2L155.0 102.6L152.0 104.5L151.5 103.0L153.7 97.0L154.7 95.0L157.2 93.0Z" fill="#30ffcf"/><path d="M-2.0 -1.0L34.6 -1.0L31.4 8.0L28.7 18.0L27.0 27.0L26.0 37.0L25.8 47.0L26.3 57.0L27.7 67.0L29.7 76.0L32.7 86.0L36.3 95.0L40.7 104.0L45.5 112.0L51.0 119.8L57.1 127.0L64.0 134.0L71.0 140.0L82.5 148.0L95.0 154.6L108.0 159.4L113.0 160.4L117.0 160.5L121.0 159.1L124.0 156.7L128.0 151.6L141.3 132.0L144.0 129.7L148.0 127.7L149.0 128.0L149.5 129.0L154.8 143.0L157.0 161.7L158.0 166.5L160.0 169.9L162.0 171.5L165.0 172.7L170.0 173.5L186.0 173.4L203.0 171.6L221.0 168.1L221.0 175.0L-3.0 175.0L-3.0 -1.0ZM198.0 -1.0L203.7 -1.0L205.6 2.0L207.7 7.0L207.7 9.0L206.2 13.0L209.2 19.0L209.0 21.0L206.5 25.0L206.4 26.0L208.0 28.5L208.3 32.0L208.0 32.3L201.9 28.0L200.8 27.0L200.4 26.0L201.4 21.0L201.1 20.0L198.3 17.0L197.4 15.0L199.3 8.0L197.3 1.0L197.4 -1.0ZM156.0 94.6L156.4 95.0L155.7 98.0L154.0 101.4L153.5 100.0L154.8 96.0L155.6 95.0Z" fill="#40ffbf"/><path d="M199.0 -1.0L202.2 -1.0L204.2 2.0L206.5 7.0L206.5 9.0L204.7 14.0L206.5 16.0L208.3 20.0L207.5 22.0L204.8 26.0L207.0 28.5L207.4 30.0L207.0 30.6L201.6 27.0L201.2 26.0L202.1 20.0L199.0 16.5L198.2 15.0L200.3 8.0L198.3 1.0L198.5 -1.0ZM-2.8 105.0L1.5 115.0L6.5 125.0L12.5 135.0L18.8 144.0L25.2 152.0L33.0 160.5L41.0 168.0L49.6 175.0L-3.0 175.0L-3.0 104.4ZM147.0 131.9L148.0 132.4L148.7 134.0L151.4 142.0L152.0 150.0L151.8 155.0L150.8 162.0L148.9 171.0L147.4 175.0L129.5 175.0L129.1 172.0L129.4 169.0L131.1 160.0L133.2 154.0L137.1 146.0L142.5 137.0L146.8 132.0Z" fill="#50ffaf"/><path d="M199.0 -0.3L199.6 -1.0L201.0 -0.9L203.2 2.0L205.6 7.0L205.7 9.0L203.6 14.0L205.6 16.0L207.5 20.0L206.1 23.0L203.8 26.0L206.4 29.0L206.0 29.3L202.0 26.5L201.8 26.0L202.9 20.0L198.9 15.0L201.1 8.0L198.9 0.0ZM147.0 136.0L148.0 137.2L149.5 142.0L149.8 150.0L148.8 158.0L146.2 168.0L143.0 175.0L134.3 175.0L133.4 173.0L133.4 171.0L134.3 161.0L135.4 157.0L140.2 146.0L147.0 136.0Z" fill="#60ff9f"/><path d="M200.0 -0.6L202.3 2.0L204.9 7.0L204.9 9.0L202.8 14.0L205.0 16.4L206.9 20.0L205.5 23.0L203.0 26.0L203.0 27.0L202.5 25.0L203.6 20.0L199.4 15.0L201.7 8.0L199.4 0.0ZM147.0 139.8L147.9 142.0L148.2 148.0L147.9 153.0L146.7 159.0L144.3 167.0L142.6 171.0L140.0 174.7L137.7 175.0L136.4 174.0L135.9 172.0L136.8 160.0L138.7 154.0L141.5 148.0L146.9 140.0Z" fill="#70ff8f"/><path d="M200.0 -0.1L200.0 0.3L199.9 0.0ZM201.0 1.1L204.6 8.0L202.1 14.0L204.8 17.0L206.5 20.0L204.0 24.2L203.5 23.0L204.1 20.0L199.8 15.0L202.2 8.0L200.5 2.0ZM146.0 144.3L146.8 145.0L146.9 149.0L145.5 158.0L141.7 169.0L139.3 173.0L138.0 173.1L138.0 165.0L138.6 160.0L141.0 153.0L145.4 145.0Z" fill="#80ff80"/><path d="M202.0 3.5L204.2 8.0L201.5 14.0L201.8 15.0L204.2 17.0L206.0 20.0L205.0 22.0L204.5 21.0L204.6 20.0L200.4 15.0L202.6 8.0L201.7 4.0ZM145.0 148.5L145.6 149.0L145.7 151.0L144.8 156.0L142.3 164.0L140.0 169.4L139.5 167.0L139.9 161.0L141.8 155.0L144.7 149.0Z" fill="#8fff70"/><path d="M203.0 6.4L203.0 7.8L202.8 7.0ZM203.0 8.2L203.4 9.0L203.0 9.9L202.7 9.0ZM202.0 10.8L202.0 12.3L201.9 11.0ZM201.0 14.0L201.0 15.1L201.0 14.0ZM202.0 15.6L202.5 16.0L202.0 16.3L201.7 16.0ZM203.0 16.6L203.5 17.0L202.7 17.0ZM204.0 17.4L204.4 18.0L204.0 18.5L203.6 18.0ZM144.0 153.2L144.0 155.2L143.6 154.0ZM143.0 155.4L143.5 157.0L142.0 161.5L141.5 161.0L141.4 160.0L142.7 156.0ZM141.0 162.0L141.0 164.3L141.0 162.0Z" fill="#9fff60"/></g><path d="M0.0 0.0L3.74 -4.25M10.8 0.0L14.49 -4.25M21.5 0.0L25.24 -4.25M32.2 0.0L35.99 -4.25M43.0 0.0L46.74 -4.25M53.8 0.0L57.49 -4.25M64.5 0.0L68.24 -4.25M75.2 0.0L78.99 -4.25M86.0 0.0L89.74 -4.24M96.8 0.0L100.50 -4.23M107.5 0.0L111.25 -4.20M118.2 0.0L122.02 -4.16M129.0 0.0L132.79 -4.10M139.8 0.0L143.57 -4.03M150.5 0.0L154.34 -3.95M161.2 0.0L165.11 -3.89M172.0 0.0L175.88 -3.86M182.8 0.0L186.62 -3.87M193.5 0.0L197.35 -3.92M0.0 10.8L3.74 6.58M10.8 10.8L14.49 6.58M21.5 10.8L25.24 6.58M32.2 10.8L35.99 6.58M43.0 10.8L46.74 6.58M53.8 10.8L57.49 6.58M64.5 10.8L68.24 6.58M75.2 10.8L78.99 6.59M86.0 10.8L89.75 6.60M96.8 10.8L100.50 6.62M107.5 10.8L111.27 6.67M118.2 10.8L122.05 6.75M129.0 10.8L132.84 6.87M139.8 10.8L143.64 7.02M150.5 10.8L154.45 7.18M161.2 10.8L165.24 7.30M172.0 10.8L176.01 7.36M182.8 10.8L186.75 7.33M193.5 10.8L197.47 7.23M0.0 21.7L3.74 17.41M10.8 21.7L14.49 17.41M21.5 21.7L25.24 17.41M32.2 21.7L35.99 17.41M43.0 21.7L46.74 17.41M53.8 21.7L57.49 17.41M64.5 21.7L68.24 17.41M75.2 21.7L78.99 17.42M86.0 21.7L89.75 17.44M96.8 21.7L100.51 17.48M107.5 21.7L111.29 17.57M118.2 21.7L122.09 17.71M129.0 21.7L132.92 17.92M139.8 21.7L143.76 18.19M150.5 21.7L154.61 18.46M161.2 21.7L165.44 18.68M172.0 21.7L176.23 18.78M182.8 21.7L186.96 18.73M193.5 21.7L197.64 18.55M0.0 32.5L3.74 28.24M10.8 32.5L14.49 28.24M21.5 32.5L25.24 28.24M32.2 32.5L35.99 28.24M43.0 32.5L46.74 28.24M53.8 32.5L57.49 28.24M64.5 32.5L68.24 28.25M75.2 32.5L79.00 28.26M86.0 32.5L89.76 28.29M96.8 32.5L100.53 28.36M107.5 32.5L111.33 28.49M118.2 32.5L122.15 28.72M129.0 32.5L133.02 29.05M139.8 32.5L143.92 29.46M150.5 32.5L154.83 29.89M161.2 32.5L165.72 30.23M172.0 32.5L176.53 30.39M182.8 32.5L187.25 30.31M193.5 32.5L197.89 30.03M204.2 32.5L208.41 29.83M0.0 43.3L3.74 39.07M10.8 43.3L14.49 39.07M21.5 43.3L25.24 39.07M32.2 43.3L35.99 39.07M43.0 43.3L46.74 39.07M53.8 43.3L57.49 39.07M64.5 43.3L68.24 39.08M75.2 43.3L79.00 39.10M86.0 43.3L89.76 39.14M96.8 43.3L100.55 39.24M107.5 43.3L111.36 39.42M118.2 43.3L122.22 39.74M129.0 43.3L133.14 40.21M139.8 43.3L144.11 40.78M150.5 43.3L155.10 41.38M161.2 43.3L166.05 41.85M172.0 43.3L176.89 42.09M182.8 43.3L187.59 42.00M193.5 43.3L198.17 41.60M204.2 43.3L208.70 41.02M0.0 54.1L3.74 49.90M10.8 54.1L14.49 49.90M21.5 54.1L25.24 49.90M32.2 54.1L35.99 49.90M43.0 54.1L46.74 49.90M53.8 54.1L57.49 49.90M64.5 54.1L68.24 49.91M75.2 54.1L79.00 49.93M86.0 54.1L89.77 49.99M96.8 54.1L100.56 50.11M107.5 54.1L111.39 50.34M118.2 54.1L122.28 50.74M129.0 54.1L133.25 51.32M139.8 54.1L144.28 52.04M150.5 54.1L155.34 52.79M161.2 54.1L166.35 53.43M172.0 54.1L177.18 53.84M182.8 54.1L187.83 53.83M193.5 54.1L198.39 53.30M204.2 54.1L208.87 52.44M0.0 65.0L3.74 60.73M10.8 65.0L14.49 60.73M21.5 65.0L25.24 60.73M32.2 65.0L35.99 60.73M43.0 65.0L46.74 60.73M53.8 65.0L57.49 60.73M64.5 65.0L68.24 60.74M75.2 65.0L79.00 60.77M86.0 65.0L89.77 60.83M96.8 65.0L100.57 60.96M107.5 65.0L111.41 61.23M118.2 65.0L122.32 61.67M129.0 65.0L133.31 62.32M139.8 65.0L144.38 63.12M150.5 65.0L155.48 63.99M161.2 65.0L166.46 64.87M172.0 65.0L177.10 65.68M182.8 65.0L187.61 66.02M193.5 65.0L198.28 65.33M204.2 65.0L208.91 63.94M0.0 75.8L3.74 71.56M10.8 75.8L14.49 71.56M21.5 75.8L25.24 71.56M32.2 75.8L35.99 71.56M43.0 75.8L46.74 71.56M53.8 75.8L57.49 71.56M64.5 75.8L68.24 71.57M75.2 75.8L79.00 71.60M86.0 75.8L89.77 71.66M96.8 75.8L100.57 71.79M107.5 75.8L111.41 72.06M118.2 75.8L122.32 72.50M129.0 75.8L133.31 73.15M139.8 75.8L144.38 73.95M150.5 75.8L155.46 74.87M161.2 75.8L166.33 76.02M172.0 75.8L176.69 77.43M182.8 75.8L187.06 78.34M193.5 75.8L197.94 77.49M0.0 86.6L3.74 82.39M10.8 86.6L14.49 82.39M21.5 86.6L25.24 82.39M32.2 86.6L35.99 82.39M43.0 86.6L46.74 82.39M53.8 86.6L57.49 82.39M64.5 86.6L68.24 82.40M75.2 86.6L79.00 82.42M86.0 86.6L89.77 82.48M96.8 86.6L100.56 82.60M107.5 86.6L111.39 82.83M118.2 86.6L122.28 83.23M129.0 86.6L133.24 83.81M139.8 86.6L144.27 84.53M150.5 86.6L155.31 85.38M161.2 86.6L166.14 86.55M172.0 86.6L176.54 88.18M182.8 86.6L186.98 89.33M193.5 86.6L197.84 88.37M0.0 97.5L3.74 93.22M10.8 97.5L14.49 93.22M21.5 97.5L25.24 93.22M32.2 97.5L35.99 93.22M43.0 97.5L46.74 93.22M53.8 97.5L57.49 93.22M64.5 97.5L68.24 93.23M75.2 97.5L79.00 93.25M86.0 97.5L89.76 93.29M96.8 97.5L100.55 93.38M107.5 97.5L111.36 93.57M118.2 97.5L122.22 93.89M129.0 97.5L133.14 94.35M139.8 97.5L144.10 94.92M150.5 97.5L155.59 96.01M0.0 108.3L3.74 104.05M10.8 108.3L14.49 104.05M21.5 108.3L25.24 104.05M32.2 108.3L35.99 104.05M43.0 108.3L46.74 104.05M53.8 108.3L57.49 104.05M64.5 108.3L68.24 104.06M75.2 108.3L79.00 104.07M86.0 108.3L89.76 104.10M96.8 108.3L100.53 104.17M107.5 108.3L111.32 104.30M118.2 108.3L122.15 104.52M129.0 108.3L133.02 104.85M139.8 108.3L144.10 105.56M0.0 119.1L3.74 114.88M10.8 119.1L14.49 114.88M21.5 119.1L25.24 114.88M32.2 119.1L35.99 114.88M43.0 119.1L46.74 114.88M53.8 119.1L57.49 114.88M64.5 119.1L68.24 114.88M75.2 119.1L78.99 114.89M86.0 119.1L89.75 114.91M96.8 119.1L100.51 114.95M107.5 119.1L111.29 115.04M118.2 119.1L122.09 115.18M129.0 119.1L132.91 115.39M139.8 119.1L143.99 116.06M150.5 119.1L155.77 117.77M0.0 130.0L3.74 125.71M10.8 130.0L14.49 125.71M21.5 130.0L25.24 125.71M32.2 130.0L35.99 125.71M43.0 130.0L46.74 125.71M53.8 130.0L57.49 125.71M64.5 130.0L68.24 125.71M75.2 130.0L78.99 125.72M86.0 130.0L89.75 125.73M96.8 130.0L100.50 125.75M107.5 130.0L111.27 125.80M118.2 130.0L122.05 125.88M129.0 130.0L132.84 125.99M139.8 130.0L144.19 127.19M0.0 140.8L3.74 136.54M10.8 140.8L14.49 136.54M21.5 140.8L25.24 136.54M32.2 140.8L35.99 136.54M43.0 140.8L46.74 136.54M53.8 140.8L57.49 136.54M64.5 140.8L68.24 136.54M75.2 140.8L78.99 136.54M86.0 140.8L89.74 136.55M96.8 140.8L100.50 136.56M107.5 140.8L111.25 136.58M118.2 140.8L122.02 136.62M129.0 140.8L132.79 136.68M139.8 140.8L144.23 138.07M0.0 151.6L3.74 147.37M10.8 151.6L14.49 147.37M21.5 151.6L25.24 147.37M32.2 151.6L35.99 147.37M43.0 151.6L46.74 147.37M53.8 151.6L57.49 147.37M64.5 151.6L68.24 147.37M75.2 151.6L78.99 147.37M86.0 151.6L89.74 147.37M96.8 151.6L100.49 147.38M107.5 151.6L111.25 147.39M118.2 151.6L122.00 147.41M129.0 151.6L132.76 147.43M139.8 151.6L144.48 149.34M0.0 162.4L3.74 158.20M10.8 162.4L14.49 158.20M21.5 162.4L25.24 158.20M32.2 162.4L35.99 158.20M43.0 162.4L46.74 158.20M53.8 162.4L57.49 158.20M64.5 162.4L68.24 158.20M75.2 162.4L78.99 158.20M86.0 162.4L89.74 158.20M96.8 162.4L100.49 158.20M107.5 162.4L111.24 158.21M118.2 162.4L121.99 158.22M129.0 162.4L132.92 158.59M139.8 162.4L144.88 160.86M0.0 173.3L3.74 169.03M10.8 173.3L14.49 169.03M21.5 173.3L25.24 169.03M32.2 173.3L35.99 169.03M43.0 173.3L46.74 169.03M53.8 173.3L57.49 169.03M64.5 173.3L68.24 169.03M75.2 173.3L78.99 169.03M86.0 173.3L89.74 169.03M96.8 173.3L100.49 169.03M107.5 173.3L111.24 169.03M118.2 173.3L121.99 169.04M129.0 173.3L133.22 170.02" stroke="#003020" stroke-width="1.1" stroke-linecap="round" opacity="0.64" fill="none"/><path d="M4.40 -5.00L3.46 -2.50L2.04 -3.75ZM15.15 -5.00L14.21 -2.50L12.79 -3.75ZM25.90 -5.00L24.96 -2.50L23.54 -3.75ZM36.65 -5.00L35.71 -2.50L34.29 -3.75ZM47.40 -5.00L46.46 -2.50L45.04 -3.75ZM58.15 -5.00L57.21 -2.50L55.79 -3.75ZM68.90 -5.00L67.96 -2.49L66.54 -3.75ZM79.65 -5.00L78.71 -2.49L77.29 -3.75ZM90.40 -4.99L89.46 -2.49L88.04 -3.74ZM101.16 -4.98L100.21 -2.48L98.79 -3.74ZM111.92 -4.95L110.96 -2.45L109.55 -3.72ZM122.69 -4.91L121.72 -2.41L120.31 -3.69ZM133.47 -4.84L132.47 -2.36L131.07 -3.65ZM144.25 -4.75L143.22 -2.29L141.84 -3.59ZM155.04 -4.67L153.98 -2.21L152.62 -3.54ZM165.82 -4.60L164.73 -2.15L163.38 -3.49ZM176.58 -4.56L175.48 -2.13L174.14 -3.47ZM187.33 -4.58L186.23 -2.14L184.89 -3.48ZM198.05 -4.64L196.98 -2.19L195.62 -3.52ZM4.40 5.83L3.46 8.33L2.04 7.08ZM15.15 5.83L14.21 8.33L12.79 7.08ZM25.90 5.83L24.96 8.33L23.54 7.08ZM36.65 5.83L35.71 8.33L34.29 7.08ZM47.40 5.83L46.46 8.33L45.04 7.08ZM58.15 5.83L57.21 8.33L55.79 7.08ZM68.90 5.83L67.96 8.34L66.54 7.08ZM79.65 5.84L78.71 8.34L77.29 7.08ZM90.41 5.85L89.46 8.35L88.04 7.09ZM101.17 5.88L100.21 8.37L98.80 7.11ZM111.94 5.93L110.97 8.42L109.56 7.14ZM122.73 6.02L121.72 8.50L120.33 7.20ZM133.54 6.15L132.48 8.61L131.11 7.29ZM144.36 6.32L143.23 8.75L141.91 7.39ZM155.18 6.50L153.99 8.89L152.70 7.50ZM165.99 6.64L164.75 9.01L163.49 7.58ZM176.77 6.71L175.50 9.06L174.26 7.62ZM187.50 6.67L186.25 9.03L185.00 7.60ZM198.21 6.56L196.99 8.94L195.72 7.53ZM4.40 16.66L3.46 19.16L2.04 17.91ZM15.15 16.66L14.21 19.16L12.79 17.91ZM25.90 16.66L24.96 19.16L23.54 17.91ZM36.65 16.66L35.71 19.16L34.29 17.91ZM47.40 16.66L46.46 19.16L45.04 17.91ZM58.15 16.66L57.21 19.17L55.79 17.91ZM68.90 16.66L67.96 19.17L66.54 17.91ZM79.66 16.67L78.71 19.18L77.29 17.92ZM90.41 16.69L89.46 19.19L88.04 17.93ZM101.18 16.74L100.22 19.23L98.80 17.96ZM111.97 16.84L110.97 19.31L109.58 18.02ZM122.79 17.00L121.73 19.45L120.37 18.12ZM133.64 17.23L132.49 19.65L131.18 18.27ZM144.52 17.54L143.25 19.89L142.01 18.45ZM155.40 17.85L154.01 20.13L152.84 18.63ZM166.26 18.10L164.77 20.32L163.67 18.78ZM177.05 18.22L175.52 20.41L174.45 18.84ZM187.78 18.16L186.27 20.37L185.19 18.81ZM198.44 17.95L197.01 20.21L195.87 18.69ZM4.40 27.49L3.46 29.99L2.04 28.74ZM15.15 27.49L14.21 29.99L12.79 28.74ZM25.90 27.49L24.96 29.99L23.54 28.74ZM36.65 27.49L35.71 29.99L34.29 28.74ZM47.40 27.49L46.46 29.99L45.04 28.74ZM58.15 27.49L57.21 30.00L55.79 28.74ZM68.90 27.50L67.96 30.00L66.54 28.74ZM79.66 27.51L78.71 30.01L77.29 28.75ZM90.42 27.54L89.46 30.04L88.05 28.77ZM101.20 27.62L100.22 30.11L98.82 28.82ZM112.02 27.77L110.98 30.23L109.60 28.92ZM122.87 28.02L121.74 30.44L120.42 29.08ZM133.78 28.40L132.50 30.75L131.27 29.30ZM144.73 28.88L143.27 31.11L142.15 29.58ZM155.69 29.38L154.04 31.48L153.06 29.85ZM166.61 29.78L164.81 31.75L163.95 30.06ZM177.44 29.96L175.57 31.88L174.77 30.16ZM188.15 29.88L186.31 31.82L185.49 30.11ZM198.76 29.55L197.04 31.60L196.12 29.94ZM209.25 29.29L207.66 31.44L206.63 29.84ZM4.40 38.32L3.46 40.82L2.04 39.57ZM15.15 38.32L14.21 40.82L12.79 39.57ZM25.90 38.32L24.96 40.82L23.54 39.57ZM36.65 38.32L35.71 40.82L34.29 39.57ZM47.40 38.32L46.46 40.83L45.04 39.57ZM58.15 38.32L57.21 40.83L55.79 39.57ZM68.90 38.33L67.96 40.83L66.54 39.58ZM79.66 38.35L78.71 40.85L77.29 39.59ZM90.43 38.40L89.47 40.89L88.05 39.62ZM101.23 38.50L100.22 40.98L98.83 39.69ZM112.07 38.71L110.98 41.16L109.63 39.82ZM122.97 39.07L121.74 41.45L120.47 40.04ZM133.94 39.61L132.51 41.87L131.37 40.35ZM144.97 40.28L143.29 42.36L142.33 40.72ZM156.02 40.99L154.09 42.83L153.35 41.08ZM167.00 41.56L164.89 43.20L164.34 41.38ZM177.86 41.84L175.67 43.37L175.21 41.53ZM188.56 41.74L186.40 43.31L185.90 41.48ZM199.11 41.26L197.09 43.01L196.44 41.23ZM209.58 40.56L207.80 42.56L206.93 40.87ZM4.40 49.15L3.46 51.65L2.04 50.40ZM15.15 49.15L14.21 51.65L12.79 50.40ZM25.90 49.15L24.96 51.65L23.54 50.40ZM36.65 49.15L35.71 51.65L34.29 50.40ZM47.40 49.15L46.46 51.66L45.04 50.40ZM58.15 49.15L57.21 51.66L55.79 50.40ZM68.90 49.16L67.96 51.66L66.54 50.41ZM79.66 49.19L78.71 51.69L77.29 50.42ZM90.44 49.25L89.47 51.74L88.06 50.46ZM101.25 49.38L100.22 51.85L98.84 50.55ZM112.11 49.65L110.98 52.07L109.66 50.71ZM123.05 50.10L121.75 52.44L120.53 50.99ZM134.08 50.77L132.53 52.95L131.47 51.36ZM145.19 51.62L143.32 53.53L142.52 51.81ZM156.31 52.52L154.16 54.11L153.64 52.28ZM167.34 53.29L164.99 54.58L164.73 52.70ZM178.18 53.78L175.74 54.88L175.62 52.98ZM188.83 53.76L186.39 54.87L186.27 52.97ZM199.37 53.12L197.07 54.49L196.74 52.62ZM209.81 52.09L207.80 53.85L207.14 52.07ZM4.40 59.98L3.46 62.48L2.04 61.23ZM15.15 59.98L14.21 62.48L12.79 61.23ZM25.90 59.98L24.96 62.48L23.54 61.23ZM36.65 59.98L35.71 62.48L34.29 61.23ZM47.40 59.98L46.46 62.49L45.04 61.23ZM58.15 59.98L57.21 62.49L55.79 61.23ZM68.91 59.99L67.96 62.50L66.54 61.24ZM79.67 60.02L78.71 62.52L77.29 61.26ZM90.45 60.09L89.47 62.58L88.06 61.30ZM101.26 60.24L100.22 62.71L98.85 61.40ZM112.13 60.54L110.99 62.95L109.67 61.58ZM123.10 61.04L121.76 63.36L120.56 61.88ZM134.16 61.80L132.53 63.92L131.54 62.30ZM145.31 62.75L143.34 64.56L142.64 62.80ZM156.47 63.80L154.20 65.21L153.83 63.35ZM167.46 64.85L164.98 65.85L164.94 63.95ZM178.09 65.82L175.48 66.42L175.74 64.54ZM188.59 66.22L185.95 66.63L186.34 64.77ZM199.28 65.41L196.72 66.17L196.86 64.27ZM209.89 63.73L207.65 65.20L207.24 63.34ZM4.40 70.81L3.46 73.31L2.04 72.06ZM15.15 70.81L14.21 73.31L12.79 72.06ZM25.90 70.81L24.96 73.31L23.54 72.06ZM36.65 70.81L35.71 73.31L34.29 72.06ZM47.40 70.81L46.46 73.32L45.04 72.06ZM58.15 70.81L57.21 73.32L55.79 72.06ZM68.91 70.82L67.96 73.33L66.54 72.07ZM79.67 70.85L78.71 73.35L77.29 72.09ZM90.45 70.92L89.47 73.41L88.06 72.13ZM101.26 71.07L100.22 73.53L98.85 72.23ZM112.13 71.36L110.99 73.78L109.67 72.41ZM123.10 71.87L121.75 74.18L120.56 72.71ZM134.16 72.62L132.53 74.74L131.53 73.13ZM145.31 73.58L143.34 75.39L142.63 73.63ZM156.45 74.69L154.17 76.09L153.81 74.22ZM167.32 76.06L164.79 76.91L164.87 75.01ZM177.64 77.75L174.96 77.84L175.58 76.04ZM187.92 78.85L185.28 78.40L186.25 76.76ZM198.87 77.84L196.20 77.84L196.87 76.07ZM4.40 81.64L3.46 84.14L2.04 82.89ZM15.15 81.64L14.21 84.14L12.79 82.89ZM25.90 81.64L24.96 84.14L23.54 82.89ZM36.65 81.64L35.71 84.14L34.29 82.89ZM47.40 81.64L46.46 84.15L45.04 82.89ZM58.15 81.64L57.21 84.15L55.79 82.89ZM68.90 81.65L67.96 84.15L66.54 82.90ZM79.66 81.68L78.71 84.17L77.29 82.91ZM90.44 81.74L89.47 84.23L88.06 82.95ZM101.25 81.87L100.22 84.34L98.84 83.04ZM112.11 82.13L110.98 84.56L109.66 83.20ZM123.05 82.58L121.75 84.92L120.52 83.47ZM134.08 83.25L132.52 85.43L131.47 83.85ZM145.18 84.10L143.32 86.02L142.51 84.30ZM156.28 85.12L154.10 86.68L153.62 84.84ZM167.14 86.53L164.66 87.53L164.62 85.63ZM177.49 88.50L174.82 88.60L175.43 86.80ZM187.82 89.87L185.21 89.33L186.22 87.72ZM198.77 88.74L196.09 88.69L196.79 86.93ZM4.40 92.47L3.46 94.97L2.04 93.72ZM15.15 92.47L14.21 94.97L12.79 93.72ZM25.90 92.47L24.96 94.97L23.54 93.72ZM36.65 92.47L35.71 94.97L34.29 93.72ZM47.40 92.47L46.46 94.98L45.04 93.72ZM58.15 92.47L57.21 94.98L55.79 93.72ZM68.90 92.48L67.96 94.98L66.54 93.73ZM79.66 92.50L78.71 95.00L77.29 93.74ZM90.43 92.55L89.47 95.04L88.05 93.77ZM101.23 92.65L100.22 95.13L98.83 93.84ZM112.06 92.86L110.98 95.31L109.63 93.97ZM122.96 93.22L121.74 95.60L120.47 94.19ZM133.94 93.74L132.51 96.01L131.37 94.49ZM144.96 94.42L143.29 96.50L142.33 94.86ZM156.55 95.73L154.41 97.33L153.89 95.51ZM4.40 103.30L3.46 105.80L2.04 104.55ZM15.15 103.30L14.21 105.80L12.79 104.55ZM25.90 103.30L24.96 105.80L23.54 104.55ZM36.65 103.30L35.71 105.80L34.29 104.55ZM47.40 103.30L46.46 105.80L45.04 104.55ZM58.15 103.30L57.21 105.81L55.79 104.55ZM68.90 103.31L67.96 105.81L66.54 104.55ZM79.66 103.32L78.71 105.82L77.29 104.56ZM90.42 103.35L89.46 105.85L88.05 104.58ZM101.20 103.43L100.22 105.91L98.82 104.63ZM112.02 103.57L110.98 106.04L109.60 104.73ZM122.87 103.83L121.74 106.25L120.41 104.88ZM133.78 104.20L132.50 106.55L131.26 105.11ZM144.95 105.03L143.34 107.16L142.33 105.56ZM4.40 114.13L3.46 116.63L2.04 115.38ZM15.15 114.13L14.21 116.63L12.79 115.38ZM25.90 114.13L24.96 116.63L23.54 115.38ZM36.65 114.13L35.71 116.63L34.29 115.38ZM47.40 114.13L46.46 116.63L45.04 115.38ZM58.15 114.13L57.21 116.64L55.79 115.38ZM68.90 114.13L67.96 116.64L66.54 115.38ZM79.66 114.14L78.71 116.65L77.29 115.39ZM90.41 114.16L89.46 116.66L88.04 115.40ZM101.18 114.21L100.22 116.70L98.80 115.43ZM111.97 114.30L110.97 116.78L109.58 115.49ZM122.79 114.46L121.73 116.92L120.37 115.59ZM133.64 114.69L132.49 117.11L131.17 115.74ZM144.80 115.48L143.33 117.71L142.21 116.17ZM156.73 117.52L154.55 119.07L154.08 117.23ZM4.40 124.96L3.46 127.46L2.04 126.21ZM15.15 124.96L14.21 127.46L12.79 126.21ZM25.90 124.96L24.96 127.46L23.54 126.21ZM36.65 124.96L35.71 127.46L34.29 126.21ZM47.40 124.96L46.46 127.46L45.04 126.21ZM58.15 124.96L57.21 127.46L55.79 126.21ZM68.90 124.96L67.96 127.47L66.54 126.21ZM79.65 124.97L78.71 127.47L77.29 126.21ZM90.41 124.98L89.46 127.48L88.04 126.22ZM101.17 125.01L100.21 127.50L98.80 126.24ZM111.94 125.06L110.97 127.55L109.56 126.27ZM122.73 125.14L121.72 127.62L120.33 126.33ZM133.53 125.28L132.48 127.73L131.11 126.41ZM145.04 126.66L143.42 128.79L142.42 127.18ZM4.40 135.79L3.46 138.29L2.04 137.04ZM15.15 135.79L14.21 138.29L12.79 137.04ZM25.90 135.79L24.96 138.29L23.54 137.04ZM36.65 135.79L35.71 138.29L34.29 137.04ZM47.40 135.79L46.46 138.29L45.04 137.04ZM58.15 135.79L57.21 138.29L55.79 137.04ZM68.90 135.79L67.96 138.30L66.54 137.04ZM79.65 135.79L78.71 138.30L77.29 137.04ZM90.40 135.80L89.46 138.30L88.04 137.05ZM101.16 135.81L100.21 138.31L98.79 137.05ZM111.92 135.84L110.96 138.34L109.55 137.07ZM122.69 135.88L121.72 138.37L120.31 137.10ZM133.47 135.95L132.47 138.43L131.07 137.14ZM145.09 137.55L143.44 139.66L142.46 138.03ZM4.40 146.62L3.46 149.12L2.04 147.87ZM15.15 146.62L14.21 149.12L12.79 147.87ZM25.90 146.62L24.96 149.12L23.54 147.87ZM36.65 146.62L35.71 149.12L34.29 147.87ZM47.40 146.62L46.46 149.12L45.04 147.87ZM58.15 146.62L57.21 149.12L55.79 147.87ZM68.90 146.62L67.96 149.12L66.54 147.87ZM79.65 146.62L78.71 149.13L77.29 147.87ZM90.40 146.62L89.46 149.13L88.04 147.87ZM101.15 146.63L100.21 149.13L98.79 147.88ZM111.91 146.64L110.96 149.14L109.54 147.88ZM122.67 146.66L121.71 149.16L120.29 147.90ZM133.43 146.69L132.47 149.18L131.05 147.91ZM145.39 148.91L143.55 150.85L142.72 149.13ZM4.40 157.45L3.46 159.95L2.04 158.70ZM15.15 157.45L14.21 159.95L12.79 158.70ZM25.90 157.45L24.96 159.95L23.54 158.70ZM36.65 157.45L35.71 159.95L34.29 158.70ZM47.40 157.45L46.46 159.95L45.04 158.70ZM58.15 157.45L57.21 159.95L55.79 158.70ZM68.90 157.45L67.96 159.95L66.54 158.70ZM79.65 157.45L78.71 159.95L77.29 158.70ZM90.40 157.45L89.46 159.96L88.04 158.70ZM101.15 157.45L100.21 159.96L98.79 158.70ZM111.90 157.46L110.96 159.96L109.54 158.70ZM122.66 157.47L121.71 159.97L120.29 158.71ZM133.64 157.89L132.52 160.32L131.19 158.97ZM145.84 160.56L143.73 162.21L143.17 160.39ZM4.40 168.28L3.46 170.78L2.04 169.53ZM15.15 168.28L14.21 170.78L12.79 169.53ZM25.90 168.28L24.96 170.78L23.54 169.53ZM36.65 168.28L35.71 170.78L34.29 169.53ZM47.40 168.28L46.46 170.78L45.04 169.53ZM58.15 168.28L57.21 170.78L55.79 169.53ZM68.90 168.28L67.96 170.78L66.54 169.53ZM79.65 168.28L78.71 170.78L77.29 169.53ZM90.40 168.28L89.46 170.78L88.04 169.53ZM101.15 168.28L100.21 170.79L98.79 169.53ZM111.90 168.28L110.96 170.79L109.54 169.53ZM122.65 168.29L121.71 170.79L120.29 169.53ZM134.01 169.41L132.61 171.69L131.45 170.19Z" fill="#003020" stroke="#003020" stroke-width="0.5" stroke-linejoin="round" opacity="0.76"/><circle cx="184.00" cy="70.20" r="4.6" fill="#f00" stroke="#000" stroke-width="1.4"/></g></g>
<rect x="404.4" y="588.6" width="239.50" height="183.70" fill="none" stroke="#555" stroke-width="1.1"/>
<text x="463.9" y="576.1" font-size="15.4" fill="#111" textLength="122" lengthAdjust="spacingAndGlyphs">20120427_171000</text>
<rect x="678.3" y="77.0" width="24.40" height="672.40" fill="url(#cbg)"/>
<rect x="678.3" y="77.0" width="24.40" height="672.40" fill="none" stroke="#222" stroke-width="0.8"/>
<text x="707.0" y="753.4" font-size="15.4" fill="#111">0</text>
<text x="707.0" y="669.6" font-size="15.4" fill="#111" textLength="19.9" lengthAdjust="spacingAndGlyphs">0.5</text>
<text x="707.0" y="585.8" font-size="15.4" fill="#111">1</text>
<text x="707.0" y="502.1" font-size="15.4" fill="#111" textLength="19.9" lengthAdjust="spacingAndGlyphs">1.5</text>
<text x="707.0" y="418.3" font-size="15.4" fill="#111">2</text>
<text x="707.0" y="334.5" font-size="15.4" fill="#111" textLength="19.9" lengthAdjust="spacingAndGlyphs">2.5</text>
<text x="707.0" y="250.7" font-size="15.4" fill="#111">3</text>
<text x="707.0" y="166.9" font-size="15.4" fill="#111" textLength="19.9" lengthAdjust="spacingAndGlyphs">3.5</text>
<text x="707.0" y="83.1" font-size="15.4" fill="#111">4</text>
<path d="M678.3 665.4h6.5M702.7 665.4h-6.5M678.3 581.3h6.5M702.7 581.3h-6.5M678.3 497.2h6.5M702.7 497.2h-6.5M678.3 413.2h6.5M702.7 413.2h-6.5M678.3 329.1h6.5M702.7 329.1h-6.5M678.3 245.1h6.5M702.7 245.1h-6.5M678.3 161.0h6.5M702.7 161.0h-6.5" stroke="#222" stroke-width="1" fill="none"/>
<text x="668.5" y="766.3" font-size="14.6" fill="#111">Hs [m]</text>
</svg></body></html>
